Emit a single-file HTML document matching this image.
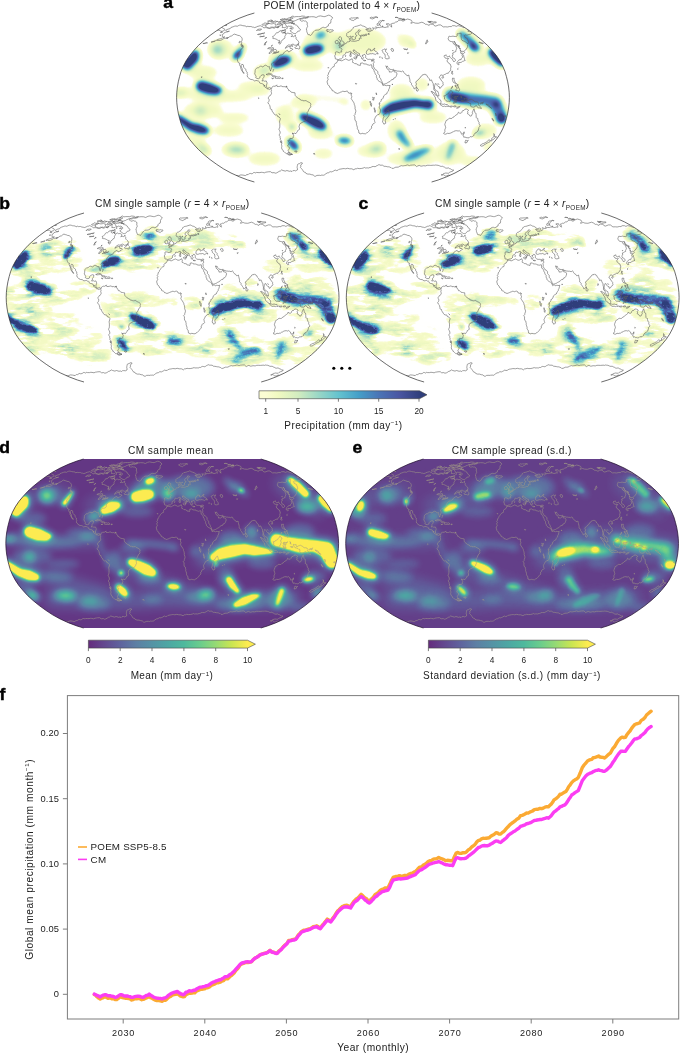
<!DOCTYPE html>
<html lang="en"><head><meta charset="utf-8"><title>Figure</title>
<style>html,body{margin:0;padding:0;background:#fff}body{width:685px;height:1054px;overflow:hidden}svg{display:block;font-family:"Liberation Sans", sans-serif}</style></head><body>
<svg width="685" height="1054" viewBox="0 0 685 1054">
<defs>
<clipPath id="clipmap"><path d="M88.6,-84.5L95.2,-82.5L103.4,-79.4L112,-75.5L119.6,-71.3L126.4,-66.8L132.9,-62.1L138.9,-57.2L144.4,-52.2L149.1,-47.1L153.4,-41.9L156.9,-36.7L159.7,-31.4L161.9,-26.2L163.4,-21L164.7,-15.7L165.6,-10.5L166.2,-5.2L166.4,0L166.2,5.2L165.6,10.5L164.7,15.7L163.4,21L161.9,26.2L159.7,31.4L156.9,36.7L153.4,41.9L149.1,47.1L144.4,52.2L138.9,57.2L132.9,62.1L126.4,66.8L119.6,71.3L112,75.5L103.4,79.4L95.2,82.5L88.6,84.5L-88.6,84.5L-95.2,82.5L-103.4,79.4L-112,75.5L-119.6,71.3L-126.4,66.8L-132.9,62.1L-138.9,57.2L-144.4,52.2L-149.1,47.1L-153.4,41.9L-156.9,36.7L-159.7,31.4L-161.9,26.2L-163.4,21L-164.7,15.7L-165.6,10.5L-166.2,5.2L-166.4,0L-166.2,-5.2L-165.6,-10.5L-164.7,-15.7L-163.4,-21L-161.9,-26.2L-159.7,-31.4L-156.9,-36.7L-153.4,-41.9L-149.1,-47.1L-144.4,-52.2L-138.9,-57.2L-132.9,-62.1L-126.4,-66.8L-119.6,-71.3L-112,-75.5L-103.4,-79.4L-95.2,-82.5L-88.6,-84.5Z"/></clipPath>
<path id="coast" d="M-117.3,-67.2L-116.1,-67.9L-114.8,-68.4L-112.8,-68.9L-112.2,-69.9L-110.9,-70.4L-109.1,-71L-108.4,-71.3L-107.2,-71.5L-105.7,-71.2L-104.7,-71.8L-103.5,-72.3L-102.3,-72.4L-100.9,-72.1L-100.2,-71.8L-99,-71.7L-97.2,-71.5L-96.5,-70.6L-95.1,-71.3L-94.1,-70.9L-92.8,-71L-91.9,-71L-90.7,-70.4L-89.4,-70.3L-88.4,-69.9L-86.8,-70.4L-85,-71.3L-84.1,-71.3L-82.9,-71.9L-82.2,-71.6L-81.2,-71.1L-80.2,-70.7L-79.2,-69.6L-77.7,-69.9L-76.5,-69.8L-75.4,-69.5L-74.5,-69.5L-73.4,-69.5L-72.6,-70.2L-71.5,-70.4L-70.5,-69.8L-68.8,-69.3L-67.8,-69.8L-67,-70.3L-65.8,-69.9L-65,-69.7L-64.4,-71L-63.7,-71.5L-61.9,-72L-60.9,-73L-60.7,-72.4L-60.5,-71.3L-60.8,-69.9L-59.5,-70L-58.7,-69.8L-57.7,-69.9L-56.8,-70.8L-56.2,-70.1L-55.4,-69.5L-56.5,-68.9L-57.5,-67.9L-58.4,-67.9L-59.1,-67L-60.3,-66.6L-61.1,-66.8L-62.1,-66.9L-63.4,-66.5L-64.2,-65.4L-64.9,-64.8L-66.2,-64.8L-67.3,-64L-67.9,-62.9L-68.4,-62.3L-69.4,-61.3L-70.4,-61.1L-69.9,-60.3L-70.2,-59.1L-69.3,-58.9L-68.4,-58.9L-67.2,-58.5L-66.1,-58L-65.4,-57.5L-64.3,-57L-63.5,-57.2L-63.6,-56.2L-63.7,-55.5L-64.5,-54.7L-63.9,-53.9L-63.6,-53.4L-62.7,-53.7L-62,-54.7L-62.1,-55.7L-61.6,-56.7L-60.3,-57.4L-59.4,-58.8L-58.4,-59.1L-58.1,-60L-58.2,-60.9L-57.6,-62.1L-57.1,-63.1L-56.3,-63.7L-55.8,-64.4L-54.9,-64.5L-54,-63.8L-52.8,-64L-52,-63.8L-50.8,-63L-50.8,-62L-51.9,-60.9L-50.3,-61.2L-49.3,-60.8L-48.4,-61.7L-47.5,-62.4L-47.6,-60.8L-46.9,-60.1L-46.9,-58.7L-46.2,-57.8L-45.6,-57.2L-44.9,-56.7L-44.5,-56L-44.1,-54.7L-44.6,-53.7L-45.5,-53.2L-46.4,-52.5L-48.1,-52.2L-49.9,-53.4L-51.4,-53L-52.5,-52.3L-53.3,-52.4L-54.3,-52.6L-55.8,-51.7L-57,-50.7L-57.7,-49.1L-57.1,-49.6L-56.3,-50L-55.3,-50.6L-54.2,-51L-53.1,-51L-52.5,-51.2L-53,-50.4L-52.8,-49.1L-51.6,-49L-50.7,-48.8L-50.2,-48.1L-51.1,-47.7L-51.6,-47L-52.8,-46.6L-53.4,-45.8L-54.7,-45.7L-55.5,-47.1L-56.7,-46.6L-57.4,-46.1L-58.5,-45.5L-59,-44.8L-59.5,-43.7L-60.3,-43.2L-61,-43L-61.7,-42.5L-62.9,-42.4L-64,-41.4L-64.6,-40.9L-65.3,-39.8L-66,-38.5L-65.8,-37.2L-66.5,-36.1L-67.3,-35.4L-68.3,-35.4L-69.9,-35.1L-70.6,-34.4L-71.3,-33.7L-71.5,-33L-71.1,-31.9L-71,-31L-71.4,-29.6L-71.8,-28.3L-72.5,-27.3L-72.4,-26.4L-72.4,-27.4L-73.4,-28.3L-73.2,-29.3L-73.4,-29.9L-73.6,-30.9L-74.5,-30.7L-75.5,-31.1L-76.6,-32L-77.7,-32.3L-78.9,-31.6L-79.5,-31.2L-80.1,-30.4L-81.2,-31.1L-82.3,-31.3L-83,-31.1L-84,-30.2L-84.7,-29.7L-86,-29.7L-86.6,-29.1L-87.5,-28.1L-87.8,-27.1L-88,-25L-88.3,-23.6L-87.5,-22.3L-86.9,-21L-87.3,-19.9L-86.1,-19.1L-84.6,-18.8L-83.3,-19.4L-82.9,-20.9L-82,-22L-81.1,-22.4L-80.1,-22.8L-78.8,-22.5L-78.9,-21.1L-79.2,-20.2L-80.2,-18.9L-80.2,-17.6L-81.1,-16.6L-80.1,-16.6L-79.3,-16.8L-78.3,-16.2L-76.8,-16.6L-76.1,-15.2L-76,-13.9L-76.5,-12.6L-76.8,-11.5L-76.5,-10.3L-75.5,-9.4L-74,-9.6L-73.2,-10L-72.2,-9.3L-71.4,-8.9L-71.1,-10.3L-70.3,-10.9L-69.4,-11.3L-68,-11.2L-66.7,-12L-66.1,-12.6L-66.2,-11.6L-65.8,-11L-64.6,-11L-63.4,-11.1L-62.5,-11.5L-61.2,-11.5L-60.8,-10.9L-59.7,-10.8L-58.9,-11L-57.8,-10.5L-56.6,-11L-56.1,-10.1L-55.7,-9.5L-55.3,-8.7L-54.6,-8.2L-54.2,-6.8L-53.3,-6.9L-52.6,-6.3L-51.8,-5.3L-50.1,-5L-49,-4.8L-48,-4.7L-47.9,-2.9L-47.7,-1.9L-46.8,-0.9L-46.2,-0.5L-45.5,0.3L-44.4,1L-42.9,1.6L-42.3,2.6L-41.4,2.8L-40.6,2.6L-40.2,3.2L-39,3.3L-38.2,3.2L-36.9,3.1L-36.3,3.6L-35.3,4.2L-34.2,4.7L-33.2,5.2L-32.5,5.8L-32.1,6.8L-32.5,7.7L-32.3,8.8L-32.2,9.4L-33.2,10.5L-33.9,11.5L-34.4,12.6L-34.9,13.9L-35.9,15.1L-35.8,16L-35.6,16.8L-35.9,17.8L-35.8,19.2L-35.7,20.1L-36.3,21L-36.4,21.9L-37.3,22.7L-37.9,24.1L-39.3,24.1L-40.6,24.9L-41.9,25.5L-42.8,26L-43.5,27.2L-43.7,28.4L-44,29.3L-43.6,30.4L-43.5,31.7L-44.2,32.5L-45.5,33.2L-45.7,34.1L-46.5,35.2L-47.1,36.1L-48.5,35.7L-49.8,36.1L-51,35.6L-49.7,36.4L-49.9,37.1L-49.3,38.2L-49.7,39.1L-49.8,40.3L-51,41L-52,41L-53.1,40.9L-53.1,42.2L-53,42.9L-54,42.6L-55.1,42.9L-54.6,43.9L-53.7,44.8L-53.9,45.7L-54.3,47.1L-55.2,47.8L-55.4,48.6L-54.2,49.5L-53.6,50.1L-53.7,51.3L-54.1,51.8L-54.9,53.2L-54.5,53.8L-53.9,54.7L-53.5,56L-52.3,56.6L-51.4,56.8L-50.6,57L-52.1,56.8L-53.1,57.5L-54.6,57.4L-55.3,56.4L-56,56.2L-57,56.1L-57.6,55.5L-58.3,54.8L-58.9,54.2L-59.7,53.8L-60.1,52.6L-61.1,51.6L-61.4,50.1L-61.2,49.1L-61.3,47.9L-61.5,47L-61.2,46L-61.3,45L-61.3,44L-62.1,42.7L-62.8,41.9L-62.5,40.5L-63,39.9L-63,38.8L-63.7,37.9L-63.8,37.1L-63,36.3L-62.8,34.6L-63.4,33.1L-64,32.2L-63.9,31.3L-63.4,30.4L-63.2,28.8L-63.2,27.4L-63.2,26.2L-63.4,25.1L-63.4,23.6L-62.9,22.5L-62.7,21L-64,19.4L-65.3,19.1L-65.8,17.7L-66.7,17.3L-67.5,17.5L-68.8,16.7L-69.3,15.9L-69.9,14.7L-70.7,14.1L-71,13.2L-71.2,12L-72.3,11.7L-72.8,10.8L-72.8,9.7L-73.3,7.9L-73.7,7.1L-74.3,6.5L-75.1,5.2L-74.3,4.2L-73.9,3.1L-73.9,1.7L-74.7,1L-74.5,-0.2L-73.9,-1L-73.4,-1.8L-72.5,-2.1L-72.1,-2.8L-71.4,-4.2L-71.6,-5L-71.9,-6L-71.5,-7.3L-71.9,-8L-72.3,-8.9L-73.1,-8.3L-73.7,-7.9L-74.8,-8.6L-76,-8.7L-76.8,-9.8L-78.2,-10.5L-79,-11.3L-79,-12L-79.6,-13.2L-80.3,-13.6L-81.5,-14L-82.3,-14.1L-83.4,-14.7L-83.7,-15.8L-84.3,-16.4L-85,-16.3L-85.9,-17L-87.2,-16.9L-88.7,-16.6L-89.7,-17.5L-90.6,-17.9L-92.1,-18L-93.5,-18.6L-94.2,-19.5L-95.4,-20.4L-95.8,-21.9L-95.4,-23.1L-95.9,-24.1L-95.8,-25.4L-96.6,-26.1L-97,-26.7L-97.1,-28.2L-98.1,-29L-98.8,-29.6L-99.7,-30.4L-99.3,-31.4L-99.8,-32.8L-101.2,-33.2L-101.8,-32.2L-101.6,-31.4L-101.9,-30.4L-101.5,-29.7L-101,-29.1L-100.7,-28.3L-100.7,-26.8L-100.5,-26.1L-99.5,-25.5L-98.9,-24.1L-99.6,-24.3L-100.1,-25.2L-100.7,-26.2L-101.4,-27.3L-101.8,-28.2L-102.2,-29.1L-102.2,-30.4L-102.8,-31.4L-103.5,-32.7L-103,-34.2L-104,-34.4L-104.7,-34.9L-105.2,-36.1L-105.7,-37.7L-105.4,-38.8L-105.4,-39.7L-105,-40.3L-105,-41.1L-105.5,-42.2L-105.4,-43.5L-105.1,-44.2L-104.1,-45L-103.2,-45.7L-102.7,-46.5L-102.6,-47.5L-101.9,-48.4L-101.1,-48.7L-100.4,-49.5L-99.8,-50.4L-100.1,-51.5L-100.3,-52.2L-101.4,-52.9L-101.5,-53.7L-101.3,-54.9L-101.5,-55.8L-101.1,-56.7L-100.8,-57.7L-100.9,-59.1L-101.3,-59.9L-101.8,-60.6L-102.8,-61.4L-103.5,-61.9L-105.1,-62.1L-106.1,-62.6L-106.9,-62.8L-108.7,-63.4L-109.8,-62.8L-110.7,-62L-111.2,-61.6L-112.7,-61.4L-113.5,-60.5L-114.3,-60.1L-115.8,-59.6L-117.7,-59.2L-119,-59.2L-119.6,-58.7L-120.6,-57.9L-122.3,-57.2L-123.5,-57L-125,-57.2L-126.6,-57.2L-124.7,-58.2L-122.3,-58.9L-120.6,-59.5L-118.2,-60.6L-119.6,-60.4L-120.7,-61.1L-120.6,-62.3L-120.6,-63L-119.4,-63.6L-118.6,-64.9L-117.1,-65.3L-116,-65.6L-114.6,-66L-113.6,-66.3L-114.3,-66.3L-115.2,-65.8L-116.5,-66.3L-117.3,-67.2M-43,-78.2L-41.6,-79.1L-40.5,-79.5L-39.7,-79.9L-38.7,-79.7L-37.6,-79.4L-36.8,-80L-35.3,-80.8L-33.4,-80.6L-31.5,-80.8L-28.9,-80.7L-26.9,-80L-24.6,-81.2L-22.6,-81.6L-19.3,-80.9L-18.1,-80.9L-16.3,-81.6L-14.5,-82.3L-13.1,-82L-12.3,-81.5L-11.1,-80.6L-10.3,-79.4L-11.5,-78.4L-12.1,-77.1L-12.1,-75.5L-12.5,-74.3L-13.5,-74.1L-14.2,-73.4L-14.7,-72.5L-14.5,-71.7L-15.8,-71.2L-16.2,-70.4L-17.6,-69.9L-18.3,-69.8L-19.3,-70.2L-20.4,-70.1L-21.7,-69.5L-22.6,-68.4L-23.7,-67.9L-24.5,-67.5L-25.8,-67.4L-27.1,-67.3L-27.8,-67.1L-28.6,-66.3L-29.3,-65.8L-30.1,-65.2L-30.6,-64.2L-30.9,-63.5L-31.6,-62.7L-32.5,-62L-33,-62.6L-34.1,-62.8L-35.1,-63L-35.6,-64.4L-36.2,-65.8L-36.3,-66.8L-36.3,-67.4L-36.8,-68.6L-36.1,-69.2L-36,-70L-35.4,-70.8L-35.5,-71.9L-35.8,-72.5L-35.9,-73.5L-35.6,-74.4L-36.1,-75.5L-37.4,-76.5L-38.5,-76.4L-39.2,-76.9L-40.5,-76.5L-41.7,-76.3L-42.3,-77L-43.1,-77.4L-43,-78.2M-5.2,-37.5L-4,-37.2L-3.1,-37.2L-1.7,-36.7L-0.8,-36.8L0.5,-37.6L1.8,-38.1L2.6,-38.6L3.9,-38L5.4,-37.2L7,-37.5L9.1,-38.8L9.5,-37.5L9.8,-36.8L9.5,-35.9L9.6,-35.1L10.9,-34.7L11.7,-33.9L13.2,-33.8L14.3,-33.3L14.8,-32.4L15.8,-32.5L17.3,-32L17.6,-33.3L17.6,-34.4L18.6,-34.4L19.5,-34.7L20.4,-33.7L22,-33.5L22.8,-33.5L23.8,-33.4L24.3,-32.7L25.6,-32.5L26.4,-32.2L27.5,-32.6L28.7,-32.7L28.8,-31.4L28.9,-30.4L29,-29.4L29.9,-29L30.4,-28.3L31,-26.9L31.3,-25.6L32,-25.1L32.2,-23.7L32.9,-22.6L33.5,-22L33.4,-21L33.4,-20.3L34.1,-19.4L34.1,-18.3L34.9,-17.2L36.1,-16.2L36.8,-15.8L37.7,-15.4L39.1,-14.3L39.5,-13.1L40,-11.8L40.8,-12.4L41.8,-12.4L43.2,-11.7L43.8,-12.1L45.1,-12.1L46.4,-11.9L47,-12.4L46.9,-11.3L46.6,-10.5L46.5,-9.4L45.7,-8L45.5,-6.7L44.9,-6.1L44.3,-5.2L43.6,-3.5L42.3,-3L41.6,-2.4L40.7,-1.6L40.5,-0.5L39.8,1L39.2,1.7L38.3,1.9L38.2,3.1L37.7,4.1L37.1,4.8L36.5,5.2L36.8,6.3L36.4,7.1L36.7,8.1L36.4,8.9L36.3,10.1L36.8,11L37.2,11.5L37.4,12.4L37.5,13.4L37.1,14.6L37.1,15.7L36.3,16.3L36,17L34.6,17.1L33.7,18.3L32.8,18.8L32.5,19.4L32.2,20.2L31.8,21L31.3,21.9L31.5,22.9L31.7,24L32,25.1L31.1,26.1L30.1,26.3L29.4,27.2L29.3,28.1L28.5,28.7L28.5,29.7L28.9,30.4L27.9,31.1L27.3,31.8L26.5,33L25.6,34L24.6,35L23.6,35.4L22.5,36.3L21.2,36.2L20.4,36.1L19.2,35.8L18.3,36.2L17.4,36.5L17.1,35.9L16,35.6L15.6,34.4L15.9,33.5L15,32.3L14.3,30.9L14.4,29.9L13.9,28.3L13.5,27.2L13.6,26.1L13.3,25L13.1,23.6L12.1,22.9L11.8,21.4L11.9,19.3L10.9,18.3L12,17.1L12.2,15.8L12.8,14.3L12.7,12.6L12,11.3L12.2,10.5L12,9.4L11.9,8.2L11.2,7.4L11.4,6.8L11.1,5.8L10.6,4.8L9.7,3.4L8.8,2.1L8.2,1L8.5,0.3L8.8,-1L8.4,-1.7L8.2,-2.8L8.8,-4L7.8,-4.7L7,-4.2L5.5,-4.5L5,-5.7L4.2,-6.5L2.9,-6.2L2,-5.8L0.9,-6.1L-0.5,-6.2L-1.3,-5.7L-2.8,-5.2L-3.4,-4.8L-4.3,-4.5L-5.7,-4L-6.9,-4.6L-8.1,-4.9L-8.3,-5.6L-9.2,-6.3L-10,-6.6L-11,-7L-11.2,-8.4L-12,-8.9L-12.8,-9.5L-13.2,-10.5L-13.8,-11.5L-14.5,-12.4L-15.4,-13.1L-15.4,-14.5L-16,-15.4L-15.7,-16.6L-14.9,-17.8L-14.8,-18.6L-15.5,-19.3L-15.2,-20.4L-14.7,-21L-15.4,-22L-14.7,-23.1L-14.4,-24.6L-13.8,-25.6L-13.2,-26.1L-13,-27.2L-12.1,-28.2L-11.6,-29.1L-10.8,-30L-10,-30.7L-8.9,-30.9L-8.6,-31.8L-8.6,-33L-7.8,-34.1L-6.5,-34.5L-6.1,-35.4L-5.4,-36.4L-5.2,-37.5M-4.8,-37.7L-5.9,-38.3L-6.8,-38.4L-7.8,-38.8L-7.6,-39.5L-8,-40.5L-8.3,-41.7L-7.6,-42.8L-7.4,-43.4L-7.7,-44.4L-7.7,-45.2L-6.7,-45.7L-5.5,-45.5L-3.5,-44.7L-2.6,-45.5L-1.5,-45.4L-1.4,-46.2L-1.6,-47L-1,-48.1L-1.6,-49.1L-2.1,-49.6L-3.7,-49.9L-3.8,-50.7L-2.6,-51.2L-1.2,-50.9L-1.2,-51.9L0.2,-51.8L0.5,-52.4L1.4,-53.1L2.3,-53.8L3.2,-54L3.8,-55.2L4.4,-55.6L5.5,-55.7L6.9,-56.1L6.9,-57L6.5,-57.7L6.2,-59.1L7.1,-59.3L7.9,-59.8L7.9,-58.8L8,-58.2L7.6,-57.2L8.6,-56.2L9.5,-56.4L10.9,-56.2L12.2,-56.3L13.1,-56.4L14.3,-56.9L15.2,-57L16.2,-57.4L16.5,-58.1L16.1,-59.1L17.2,-59.3L18.4,-59.4L17.5,-60.2L17.5,-61.3L18.3,-61.3L19.2,-61.8L20.8,-61.6L22.1,-62.1L21.5,-62.5L20.6,-62.7L19.7,-62.3L18.4,-62.3L17.8,-62L16.6,-62.1L15.6,-63L15.3,-64.1L15.4,-64.9L16.4,-65.7L16.9,-66.1L17.6,-66.8L16.8,-67.5L15.3,-67.5L15.4,-66.3L14.9,-65.8L13.6,-65.4L12.6,-64.4L12.6,-63L13,-62.3L13.9,-62.1L13.3,-61.1L12.3,-60.6L12.3,-59.6L12.6,-58.7L11.8,-58.3L11,-57.7L9.8,-57.7L9.2,-59.1L8.6,-60.1L7.9,-61.4L6.8,-61.1L6,-60.3L5,-60.7L4.1,-60.9L3.5,-62.2L3.7,-63L3.8,-64.1L4.9,-65.2L6.1,-65.4L6.8,-66.2L7.7,-66.6L8.5,-67.2L9,-68.1L9.9,-69L10.1,-69.9L11.2,-70.4L11.7,-70.9L12.7,-71.1L13.3,-71.2L14.2,-71.4L15.2,-71.8L16.4,-72.1L17.5,-72.6L18.7,-72.1L19.6,-71.5L20.6,-71.3L22.1,-70.7L23.8,-69.3L24.9,-68.9L26.8,-69.4L28,-69L28.1,-67.9L27.4,-67.3L26.5,-67.4L25.1,-67.7L24.2,-68.1L22.8,-68.1L23.4,-67.5L24.1,-67.2L24.5,-66.3L25.5,-66.1L26.6,-65.8L27.4,-66L28.1,-66.8L29.2,-66.9L29.5,-67.5L30.4,-68.1L30.1,-69.1L29.7,-69.9L30.4,-69.4L31.4,-69.4L32.3,-68.6L33.1,-69.2L33.8,-69.5L35,-70.1L36.5,-69.9L37.8,-70.4L39.4,-70.5L40.3,-70.4L41.8,-70L42.9,-70.2L44.3,-70.7L45.1,-70.2L45.1,-71L44.9,-72.1L44.4,-72.9L43.1,-73.4L44.3,-73.8L45.1,-73.8L46.1,-73.6L46.2,-72.9L47,-72.1L47.7,-71.1L49,-70.4L48.4,-71.3L48.6,-72.4L47.6,-73.4L48.9,-73.8L49.9,-74.3L51.1,-74.2L52.3,-75.2L52.9,-75.6L54.1,-75.5L55.6,-77.1L57.6,-77.3L58.6,-77L59.9,-76.4L61.2,-76.7L62.2,-77.6L64.6,-78.5L67,-77.8L68.4,-77.2L69.2,-76.3L68.4,-75.4L67.9,-74.2L68.8,-74.4L69.5,-74.8L70.6,-75L72.2,-74.4L75.2,-74.2L78.9,-75.3L80.8,-74.5L82.7,-73.1L83.8,-73.2L84.4,-72.9L85.2,-72.6L86.1,-72L86.5,-72.9L87.7,-73.4L88.6,-73.2L90.1,-73.4L91.1,-72L92.7,-71.4L95.8,-72.6L97.8,-72.5L100.2,-70.6L102.7,-70.7L104.4,-70.5L106.7,-71L108.3,-70.9L109.4,-71.8L111.8,-71.8L113.2,-71.1L115,-71.9L116.6,-71.5L118.1,-71.1L119.6,-70.4L120.4,-70L121.2,-70.2M126.4,-66.8L125.8,-66.6L124.7,-66.5L125.9,-66.3L126.6,-65.6L127.7,-65.5L128.9,-64.4L128.4,-63.9L127.8,-63.3L127,-63.2L125.7,-63L124.8,-62.6L123.7,-62.4L122.3,-62.6L121.3,-61.9L121.8,-60.9L122.1,-60.1L123.1,-59.6L124.3,-59L124.5,-58.1L125,-57.2L125.3,-56.3L125.5,-55.2L125.1,-54.4L124.8,-53.2L124.4,-54.3L122.9,-55L122.4,-55.9L121.4,-56.2L120.4,-56.5L119,-57.2L118.4,-58.2L118.3,-59.1L118.3,-59.9L118.1,-60.7L118.1,-61.9L118.3,-62.5L118.1,-63.2L118.1,-64.4L116.6,-64.1L115.6,-63.8L114,-63.7L114.1,-62.6L114.2,-61.6L113.1,-60.9L112.3,-61L111,-61.1L110,-61.4L108.6,-61.1L107.3,-61L106.2,-61.4L105.6,-60.6L105.5,-59.7L105.1,-58.7L105.7,-57.5L106.4,-56.6L107,-56.2L108.3,-56L109.2,-55.8L110.1,-55.7L110,-54.7L110.8,-53.3L111.9,-52.7L112.7,-52.2L113,-51.3L113,-50.5L113.6,-49.7L113.7,-48.6L113.2,-47.8L112.9,-47.1L112.9,-46L111.8,-45.6L111,-45L109.6,-44.5L109.9,-43.5L110,-42.4L108.9,-41.4L109.6,-40.8L109.7,-39.8L110.8,-39.3L111.7,-38.8L112.3,-37.7L112.5,-36.9L111.4,-36L110.5,-36L110,-37L109.6,-37.9L109.2,-38.6L108.3,-39L107.5,-39.8L106.7,-40.8L106.6,-41.6L105.6,-41L104.6,-40.6L104,-40.9L103.3,-41.8L103.2,-42.7L102.4,-42.2L101.4,-42L100.9,-41.1L101.8,-40.4L102.4,-39.3L103.3,-39.2L104,-39L105,-38.7L105.7,-39.1L104.7,-37.9L104,-36.7L104.6,-35.3L105.8,-34.6L106.2,-33.8L107.2,-33.4L107.7,-32.5L107.7,-31.4L108.4,-30.4L107.7,-30L107.6,-28.9L107.7,-27.8L107.3,-26.7L106.4,-26L105.9,-25.4L105.2,-24.1L104.1,-24.3L103.4,-24L102.6,-23.4L101.5,-23L100.6,-22.4L100,-22L98.9,-22.4L97.8,-22.6L97.4,-21.8L96.7,-21L96.2,-19.7L97.7,-18.7L97.9,-17.7L98.6,-16.7L99.2,-16.2L100,-15L99.9,-14.2L100.3,-13.1L99.8,-11.9L99.1,-11.5L98.4,-11L97.9,-9.8L96.7,-9.1L96.4,-10.7L95.2,-11L94.3,-12L94.1,-12.8L93.6,-13.4L92.4,-14L92.2,-13.3L91.7,-12L91.5,-10.7L91.4,-9.7L91.7,-8.4L92.2,-7.8L93.1,-7.1L93.8,-6.6L95.1,-5.8L95.3,-4.9L95.5,-4.2L95.7,-3L95.7,-2.3L96.1,-1.5L95.5,-1.6L94.2,-2.3L93.5,-3L93.1,-4.1L92.6,-4.7L92.5,-6.1L92.1,-6.9L91.3,-7.2L90.6,-8.4L90.9,-9.5L90.7,-11L90.2,-12.6L90.6,-13.7L89.8,-14.2L89.5,-15.2L88.9,-16.4L88.5,-17.6L87.5,-17.2L86.8,-16.8L86.6,-17.4L86.5,-18.5L85.7,-19.4L84.6,-20.5L84.1,-21.9L83.3,-22.5L82.3,-22.9L81.8,-23.6L81.3,-22.9L80.1,-22.8L79.1,-22.4L78.7,-21.5L77.9,-20.6L77.2,-20.4L77.1,-19.6L76.2,-18.7L75.5,-18.3L75.1,-17.5L74.2,-16.7L73.3,-16.2L72.8,-15.4L72.9,-14.5L73.6,-13.6L73.2,-12.6L72.9,-11.9L73.4,-10.8L73.2,-9.8L71.8,-8.9L71.1,-8.6L70.8,-9.8L69.9,-11L69.4,-11.8L68.5,-12.8L68.5,-14.1L67.6,-15.2L66.9,-15.7L67,-16.8L66.8,-18.3L66.4,-19.7L66.1,-21L65.8,-22.5L65,-22L63.9,-21.8L63.2,-23L62.4,-23.4L61.6,-24L60.9,-24.9L60.5,-26L59.8,-26.6L58.5,-25.8L56.9,-26.3L56.2,-26.2L55.3,-26.4L54.1,-26.4L53.1,-26.8L52.2,-27.1L51.3,-27L50.5,-28.3L49.3,-27.8L48.4,-28L47.2,-28.1L46.5,-28.3L46,-29.2L45.3,-29.9L44.7,-30.4L44.4,-31.4L43.5,-31.1L42.6,-31.4L43.5,-30.7L43.5,-29.3L44.7,-28.6L45.3,-27.5L46.3,-26.7L46.4,-25.4L47.6,-25.6L48.6,-25.4L49.4,-26.2L50.4,-27.5L50.9,-26.7L51,-25.7L52.5,-25.5L53.4,-25L54,-23.6L53.6,-22.2L53.1,-21.5L53,-20.8L52.3,-19.9L50.8,-19.4L50.2,-18L48.9,-17.9L48,-17.3L47.5,-16.8L47,-16L46.1,-15.6L44.9,-15.1L44.4,-14.7L43.5,-14.1L42.6,-13.8L41.3,-13.4L39.7,-13.3L39.5,-14.2L39.1,-15.7L38.4,-16.9L37.8,-18.4L37.4,-19.3L36.3,-20.4L36.6,-21.3L36.4,-22.3L35.6,-23.1L34.8,-24.1L34.9,-25.6L34,-26.9L33.3,-27.4L32.3,-27.8L32,-28.7L31.2,-29.3L30.9,-30.2L30.3,-31.3L30.6,-32L30.5,-33L30.3,-34L30.9,-34.6L31.1,-35.6L30.6,-36.7L30.9,-37.5L31.2,-38.2L30,-38.4L28.6,-37.9L27.6,-38.1L26.4,-38.2L25.4,-38.1L24.3,-38.4L23.8,-38.8L22.6,-39.9L22.7,-40.9L22.5,-42.2L22,-42.9L21.2,-43.1L20.4,-42.7L20,-41.9L19.3,-42.4L19.4,-41.5L19.7,-40.9L20.6,-39.8L20.1,-39.2L19.9,-38.2L18.6,-38.8L18.5,-40.1L18,-40.9L16.8,-41.6L16.6,-42.4L16.4,-44L15,-44.5L14.2,-45L13.1,-45.7L12.5,-46.6L11.5,-47L11.3,-47.7L10.2,-47.4L10.4,-46L11.3,-45.4L11.8,-44.5L12.6,-44.2L13.5,-43.8L14.5,-42.5L15.7,-42.1L14.4,-42.4L14.1,-40.9L13.8,-39.8L13.5,-39.8L13.7,-41.4L12.8,-42.1L12.2,-42.7L11.4,-43.2L10.1,-44L9.4,-44.3L8.8,-45L7.9,-45.7L7.5,-46.3L6.3,-45.8L5,-45.1L4.4,-45.1L3.3,-45.5L2.5,-44.3L2.7,-43.8L1.6,-42.8L0.6,-42.6L-0.3,-41.4L0.2,-40.5L-0.6,-39.5L-1.7,-38.6L-3,-38.5L-3.9,-38.3L-4.8,-37.7M-121.2,-70.2L-120.3,-69.5L-119.6,-69L-118.6,-68.7L-118.1,-67.7L-119,-66.9L-119.9,-66.6L-120.9,-66.1L-122.1,-66.3L-123,-67.2L-124.3,-67.2L-125.3,-67.2L-126.4,-66.8M23.7,-43.4L23.3,-44.7L23.4,-45.5L23.7,-46.5L24.4,-47.4L25.2,-48L25.4,-48.6L26.6,-48.3L27.6,-48.1L27.4,-46.7L28.1,-46.5L29,-47.1L30.2,-47.4L30.4,-48.1L31.1,-49.1L31.9,-49.1L31.3,-48.5L31,-47.6L32,-46.5L32.9,-45.9L33.7,-45.6L34.9,-44.5L35.1,-43.4L33.9,-44L33.2,-43.7L32.2,-42.9L31.4,-43.4L30.4,-43.7L29.9,-44L28.5,-43.7L27,-43.8L25.8,-43.3L24.5,-43.1L23.7,-43.4M38.9,-47.1L40.3,-47.9L41,-48.6L42.4,-48.1L43.5,-48.6L43.1,-47.8L42.4,-46.6L42.7,-45.7L43.3,-45.2L43.8,-44.7L44.7,-44L44.4,-43L45.2,-41.9L45.9,-40.9L45.9,-40.2L46.5,-39.3L45.6,-38.9L44.1,-38.6L42.7,-38.9L42.1,-39.8L42.3,-40.9L42.1,-42.4L41.7,-43.6L41.1,-44L40.6,-44.3L39.8,-45L39.7,-46L38.9,-47.1M-4.4,-52.2L-3.6,-52.3L-2.8,-52.5L-1.2,-52.3L-0.1,-52.9L1,-53.4L1.3,-54.9L0,-55.7L-0.5,-56.4L-1.2,-57.2L-1.5,-58.2L-1.5,-58.8L-1.5,-59.8L-2.6,-60.7L-3.7,-60.6L-3.8,-59.9L-4.6,-59.1L-4.1,-58.5L-3.8,-57.7L-2.8,-57.3L-2.3,-56.7L-2.3,-55.5L-3.5,-55.2L-3.6,-54.2L-4.1,-53.9L-3.2,-54.1L-2.4,-53.6L-3.2,-53L-4.4,-52.2M-4.7,-54.4L-5,-55.5L-4.7,-56.2L-5.5,-56.8L-5.8,-57.5L-7.1,-56.7L-7.8,-56.2L-7.7,-55.2L-7.5,-54.2L-6.3,-53.8L-5.2,-53.8L-4.7,-54.4M-16.8,-67.2L-16.2,-67.9L-15.2,-68L-14.2,-67.6L-13.2,-67.5L-12.5,-67.9L-11.1,-67.5L-10.1,-67.7L-9.6,-66.8L-10.3,-66.4L-11.4,-65.8L-12,-65.3L-13.6,-65.3L-14.5,-66L-16,-65.8L-15.5,-66.8L-16.8,-67.2M45.3,12.6L45.7,13.9L46,14.9L46.2,16.2L46,17.8L45.4,18.9L44.6,19.9L43.8,20.8L42.8,21.8L42.2,23.2L42.8,25.7L41.9,26.2L40.9,26.7L40.4,25.3L39.4,24.6L39.7,23.8L40,22.3L40.2,21L40.6,20L41.1,19.2L40.6,18.5L40.6,17.3L41.6,16.3L43,15.7L43.3,14.7L44,13.7L44.5,13L45.3,12.6M73.6,-10.2L74,-9.5L74.7,-8.8L75.4,-7.9L75.2,-7.3L74.7,-6.3L73.8,-6.5L73.2,-7.6L73.5,-8.4L73.9,-9.3L73.6,-10.2M115.1,-32.8L116.1,-33L115.7,-33.9L115.7,-35.1L117.1,-35L118.3,-35.1L118.9,-35.6L119.6,-36.3L120.4,-36.3L121.1,-36.7L122.3,-37.2L121.5,-38L121.4,-39.1L121.2,-39.8L120.8,-40.7L120.8,-41.9L119.9,-42.7L119.4,-43.3L118.9,-42.4L119.5,-41.2L119.7,-40.3L119,-39.8L118.3,-38.8L118,-37.7L117,-38L115.6,-37.2L115,-36.4L114.5,-35.9L113.9,-34.6L114.2,-33.6L115.1,-32.8M118.3,-43.7L118.8,-44.7L119.4,-44.2L120.7,-44L121.2,-44.4L121.7,-45.3L120.9,-46.1L119.8,-46.2L118.9,-45.9L118.1,-46.4L117.2,-47.5L117.6,-46.1L118.2,-45.5L117.5,-45L118.3,-43.7M116.9,-48.1L117.8,-48.6L116.5,-49.2L116.1,-50.3L115.9,-51L115.1,-51.7L115.9,-51.1L116.7,-51.2L114.7,-52.2L113.1,-52.8L112.3,-53.6L112.1,-55.2L111.3,-55.9L110.8,-56.5L111.7,-55.2L112.2,-54.2L112.5,-53.3L113.5,-52.8L113.8,-51.7L114.7,-51.2L115.8,-50.2L116.3,-49.3L116.9,-48.1M108.5,-24.1L109,-25.2L108.8,-26.4L109.7,-26.2L109.1,-25L109.7,-24.1L109.5,-23.1L108.5,-24.1M98.8,-20.1L99.5,-20.6L100.3,-21L100.9,-20.4L100,-19.9L99.7,-19.1L98.8,-20.1M109.5,-19.4L110.4,-19.2L111.2,-19.3L111,-18.1L111.5,-16.8L112,-15.3L112.9,-14.4L113.7,-13.6L112.8,-14.1L111.3,-14.7L110.3,-15.2L110,-15.8L109.7,-16.8L109.4,-17.8L109.5,-19.4M112.5,-7.3L113.1,-8L113.8,-8.9L114.7,-9.8L115.5,-10.2L116.1,-9L116.6,-7.9L116.2,-6.8L115.8,-6.3L114.4,-6.8L113.2,-6.9L112.5,-7.3M112,-12.4L113.2,-12L113.1,-11.1L113.5,-10L112.7,-10.5L112.2,-11.4L112,-12.4M114.1,-13.1L115.2,-12.9L114.9,-12.1L115.3,-10.8L114.4,-11.5L114.4,-12.3L114.1,-13.1M108,-8.9L109,-10.1L109.5,-11L109.8,-11.5L109.1,-10.8L109.1,-9.7L108,-8.9M100.7,-1.6L101.6,-1.9L102.6,-1.8L103.3,-3L104.4,-3.4L105.4,-3.9L106.2,-5.2L106.9,-5.9L107.2,-6.7L107.7,-7.3L108.8,-6.3L109.8,-5.4L109.6,-4.5L108.7,-3.7L108.5,-2.6L108.6,-2L109.1,-1L108.6,-0.3L108.7,0.8L107.7,1.6L107.6,3L107.1,4L106.4,3.8L105.3,3.7L104,3.8L103,3.1L102.3,2.2L101.6,1.6L101.4,0.4L101.7,-0.5L100.7,-1.6M87.9,-5.9L88.9,-6.1L90,-5.4L91,-4.7L91.8,-4.2L92,-3L92.8,-2.4L93.9,-1.9L94.4,-1.3L94.5,-0.3L95.7,0.8L96.6,1.7L97,2.5L97.9,3.1L98.1,4.4L97.9,5.1L97.6,6.1L96.4,6.1L95.5,5.3L95,4.6L94.2,4.2L93.4,3.3L92.9,2.8L92.7,1.6L92.3,0.5L92.2,-0.6L91,-1.6L90.8,-2.9L89.5,-3.9L89.3,-5L87.9,-5.9M97.1,7.1L97.8,6.5L98.7,6.5L100.1,6.9L101.5,6.5L102.4,6.9L103,7L104.2,7L105,7.8L105.5,8.1L105.5,9L103.8,8.7L102.8,9.1L101.3,8.6L100.3,9L99.2,8.7L98.2,7.8L97.1,7.1M106.4,8.7L107.8,8.7L108.7,8.5L109.6,8.8L108.7,9.4L107.7,9.5L106.8,9.3L106.4,8.7M110.5,8.7L111.9,8.3L113.3,8.7L112.8,9.3L111.5,9.4L110.5,9.2L110.5,8.7M113.6,10.8L114.3,9.6L115.6,9.2L116.4,9.1L117.2,8.8L116.4,9.5L116,10L115.3,10.4L114.1,10.8L113.6,10.8M110.3,5.8L110.9,4.6L111.4,3.6L111.1,2.9L110.8,2L111.6,0.7L110.7,-0.5L111.8,-1.3L113.2,-0.8L114.2,-0.8L115.5,-1.6L114.5,-1.1L114.2,-0.4L113.3,-0.4L112.5,-0.4L111.7,-0.3L112.3,1L113.2,1.1L114,0.9L113.2,1.5L112.7,2.1L113.1,3.1L113.7,3.6L113.6,4.7L112.6,5L112.6,3.9L111.8,3.1L112,4.2L112,5L111.1,5.9L110.3,5.8M117.8,-1.9L118.3,-0.5L118.8,0.8L118.1,0L118.3,-1.2L117.8,-1.9M118.2,3.1L119.6,3L120.5,3.1L120.8,3.8L119.8,3.9L118.7,3.7L118.2,3.1M121.1,0.8L122.1,1.2L123,1.4L123.8,0.8L124.1,2L124.7,3.5L125.2,2.9L126,2.4L127.1,2.3L127.5,1.8L128.3,1.8L129,2.2L130.3,2.7L131.3,3.9L132.5,4.3L133.4,4.2L134.8,4.6L135.2,5.5L136.1,6.3L135.1,7.1L135.6,7.6L136.4,8.4L137.1,8.9L137.8,9.8L138.4,11L137.1,10.6L136.2,10.3L135.3,10.5L134.4,9.4L134,8.6L133.2,8.1L132.3,8.4L131.7,9.4L130.9,9.7L129.8,9.6L128.8,9.4L127.6,8.7L127.6,8.1L127.7,7L127.4,5.8L126.5,5.8L125.8,5.1L124.6,4.7L124,4.3L122.8,4.2L121.9,2.9L121.3,2.2L121.1,0.8M137,5.8L138.4,5.1L139.4,5.2L140.6,4.4L140,5L139.8,6.3L138.2,6L137.4,6.6L137,5.8M143,6.3L143.5,7.3L144.7,7.9L145.5,8.9L146.7,9.5L147.3,10L148.2,10.4L148.5,11L147.9,10L147,9.7L146.5,8.9L146,7.7L144.6,7L143.9,6.9L143,6.3M148.9,21L149.9,21.4L150.3,22.5L150.9,23.6L150.1,23.2L149.5,22.3L148.9,21M152.4,15.7L152.8,16.8L152.9,17.4L153.1,18.3L153,17.3L152.7,16.2L152.4,15.7M161.6,18.3L162.7,18.3L162.5,19.1L161.4,19.1L161.6,18.3M103.1,23.1L102.8,23.9L102.3,25.5L102,26.2L101.8,27.2L102.4,28.8L102.7,30.2L102.4,30.9L101.9,32L101.8,32.9L102,33.9L101.2,35.4L100.5,35.9L101.4,36.5L102.8,36.7L104.3,35.8L106.1,36L107.2,35.6L108,35.6L109,34.7L110.3,34.4L110.9,33.8L112.3,33.3L113.8,33.2L115.2,33.6L116.1,33L116.8,33.7L117.7,34.4L118.2,35.7L118.5,36.7L120,36.2L120.8,35.6L121.1,34.3L121.1,35.4L121,36.5L119.9,37.4L120.5,38.8L120.8,39.8L122,39.4L123,40.2L124.1,40.1L124.9,40.4L126.1,40.3L126.6,39.7L127.2,39.1L128.2,39.4L129.4,39.1L130.1,38.4L131,38L131.1,36.9L132.1,35.6L133.3,35.1L133.9,34.3L135.1,33.4L135.3,32.5L135.8,31.2L135.6,30.2L136.7,29.3L137.2,28.3L136.5,27.2L136,25.9L136.1,24.9L135.2,23.6L134.8,22.1L134.8,21L133.7,20.4L132.8,19.7L133.3,18.9L133.1,17.7L133.1,17L133,15.7L132.2,15.3L131.5,14.7L131.7,13.7L131.3,12.6L131,11.3L130.4,12.4L129.9,13.6L129.3,14.8L129.6,16L128.8,17.4L128.5,18.3L127.4,18.6L126.7,18.3L126.4,17.6L125.6,16.7L124.4,16.2L124.9,15.4L124.6,13.9L125.6,12.8L124.4,12.1L123.9,11.5L123,11.5L121.8,11.8L120.9,13L119.8,13L119.2,13.6L118.8,14.9L118.1,15.7L116.5,15.6L115.4,14.7L115,16.1L114,16.9L112.7,17.8L111.9,18.3L111,19.4L109.6,20L108.9,20.9L108.1,21L106.5,20.8L105.6,21.3L105.2,21.8L104.2,22.5L103.1,23.1M122.7,42.7L123.5,42.9L124.3,43.3L125.4,42.9L124.3,43.7L124,45L122.9,45.3L122,45.5L122.2,44L122.7,42.7M150.8,36.1L151.2,36.9L151.1,38.2L151.7,39.3L152.9,39.2L153.7,39.5L152.8,39.5L152.1,40.2L151.1,41.4L150.2,42.2L149.5,42.5L148.3,43.4L147.8,43.2L148.3,42.4L149.2,41.7L148.5,41.2L149.5,40.5L150.2,39.8L150.5,39.3L151.2,38.3L151.3,37.6L150.8,36.1M146.7,42.4L147.3,43.4L147.1,44.1L146.1,44.7L145.3,45L144.3,45.5L143,46.3L141.7,47.1L140.9,47.3L140.2,48.3L139.2,48.5L138.2,48.7L137.2,47.9L138.3,47.1L138.8,46.5L139.6,46.2L140.4,46L141.9,45.4L142.7,44.9L143.8,44.3L144.9,43.3L145.9,42.4L146.7,42.4M-76.9,-23.1L-75.4,-23.4L-74.8,-24.2L-74,-24.3L-72.5,-23.8L-71.4,-23.6L-70.9,-22.9L-70.2,-22L-69.5,-21.7L-68.5,-21.7L-67.3,-21.2L-68.4,-20.7L-69.2,-20.6L-70.4,-20.9L-70.7,-21.6L-71.5,-22.5L-72.2,-23L-73.3,-22.9L-74.2,-22.8L-75.6,-22.6L-76.9,-23.1M-67.8,-19.3L-67.4,-20.3L-66.3,-21L-65,-20.3L-63.6,-20.7L-62.6,-20.1L-62.3,-19.4L-63.2,-19L-64.7,-19.1L-65.3,-19L-66.4,-19.1L-67.8,-19.3M-71.3,-19.3L-70.4,-19L-69.5,-19.1L-70.2,-18.7L-71.3,-19.3M-61.2,-19.4L-59.7,-19.3L-60.1,-18.8L-61.2,-18.9L-61.2,-19.4M-48.3,-49.7L-47.6,-50.4L-46.2,-51.3L-45.7,-52.8L-44.4,-53.7L-44.5,-52.2L-43.7,-51.3L-42.9,-50.7L-43.3,-50L-43.4,-48.8L-44.4,-48.5L-45.8,-49.1L-47.2,-48.9L-48.3,-49.7M-49.2,-64L-48.2,-63.9L-47.6,-63.9L-46.8,-64.4L-45.9,-65.3L-45.2,-66.3L-43.6,-66.5L-42.8,-67.1L-42.5,-68.1L-43.7,-68.8L-44.3,-70L-45,-70.4L-45.5,-71.6L-46.1,-72.1L-46.9,-72.5L-47.8,-72.7L-48.4,-73.1L-49.9,-73.8L-50.7,-74.7L-51.7,-74.7L-53,-74.6L-54,-74.2L-54.8,-74.3L-55.7,-74.2L-56.6,-73.9L-57.6,-73L-56.9,-72L-56.5,-71.3L-55.3,-70.9L-54.3,-71.4L-53.2,-71.1L-51.8,-71.3L-50.6,-70.6L-49.6,-69.5L-50.1,-68.9L-51.1,-67.9L-51.9,-67.1L-52.7,-66.8L-52.3,-66L-51.3,-65.4L-50.3,-64.7L-49.2,-64M-77.7,-71.3L-76.5,-70.8L-75.7,-69.9L-74.3,-69.3L-73.2,-69L-71.9,-69.4L-70.5,-70.4L-69,-70.1L-68,-70.7L-67.1,-71.3L-67.1,-72.2L-67.3,-73.6L-68.5,-73.7L-69.1,-74.2L-70.3,-73.8L-71.7,-73.6L-72.6,-73.8L-74.2,-74.1L-75.3,-73.4L-76,-73L-76.9,-72.5L-77.7,-71.3M-54.7,-76.7L-53.6,-76.9L-51.7,-76.6L-50.1,-76.3L-48.8,-76.5L-47.8,-76.9L-47.1,-77L-46.1,-77.7L-44.7,-78.2L-43,-79.1L-41.1,-78.5L-40.1,-78.8L-39.1,-79.4L-38.2,-79.6L-36.8,-79.4L-35,-79.8L-34.3,-80.8L-35.1,-80.4L-36.3,-80.4L-37.2,-80.3L-38.3,-81.2L-41,-81.5L-42.9,-80.9L-44.6,-80.9L-46.9,-80.9L-48.7,-80.6L-50,-81.5L-51.7,-80.8L-52.4,-79.7L-52.7,-78.7L-52.2,-77.8L-53.5,-77.6L-54.7,-76.7M-81.1,-72.8L-80.3,-72.4L-79.1,-72.4L-77.5,-72.6L-76.3,-73.7L-75,-73.8L-73.8,-74.1L-74.9,-74.8L-76.1,-74.2L-76.9,-74.3L-78.2,-74.7L-78.8,-74.2L-79.5,-73.5L-80.3,-73.6L-81.1,-72.8M-57.5,-75.3L-55.6,-75.8L-54.1,-75.4L-51.7,-74.6L-50.1,-75.2L-49.8,-76.1L-50.9,-76.4L-52.2,-77L-53.4,-77L-55,-76.4L-56,-76.7L-57.7,-76.4L-58.4,-76.5L-59.3,-75.9L-58.5,-75.8L-57.5,-75.3M-61.8,-73L-60.5,-72.9L-59.5,-73.5L-58.8,-74.2L-57.3,-74.4L-58.1,-74.1L-59.3,-74.7L-60.4,-74.7L-61.4,-73.8L-61.8,-73M-66,-73L-64.7,-72.8L-63.7,-73.1L-62.4,-73.4L-62,-74.5L-62.9,-74.2L-64.3,-74.4L-65.4,-73.8L-66,-73M-72.2,-75.5L-71.3,-75.3L-70.2,-75.2L-69,-75.7L-67.6,-75.2L-66.5,-75.8L-65.2,-76.1L-66.5,-76.1L-67.4,-76.4L-68.1,-76.7L-68.7,-76.1L-69.5,-75.7L-70.8,-76.3L-71.7,-76.3L-72.2,-75.5M-56.1,-78.1L-54.9,-77.9L-53.7,-77.9L-52.5,-77.8L-51.7,-78.3L-50.6,-79L-49.7,-79.6L-51.1,-79.6L-52.6,-80L-53.9,-79.6L-55.3,-79.2L-56.1,-78.1M-61.7,-65.8L-60.7,-66.5L-60.4,-67.3L-59,-67.1L-57.8,-67.4L-57.4,-66.8L-57.5,-65.8L-58.4,-65.4L-59.1,-65.1L-60.1,-64.4L-61,-64.8L-61.7,-65.8M-66.5,-70.4L-65.8,-70.1L-64.9,-69.9L-63.7,-70.9L-65.2,-71.2L-66.5,-70.4M-51.8,-52L-50.8,-51.3L-49.9,-51.6L-51.2,-51.4L-51.8,-52M-102.2,-53L-101.1,-52.2L-100.3,-52.2L-100.1,-51.6L-100.2,-50.4L-101.5,-51L-101.9,-52.3L-102.2,-53M-103.5,-56.2L-102.6,-56L-103,-55.1L-103.6,-54.4L-103.9,-55.2L-103.5,-56.2M-116.7,-59.6L-115.5,-59.8L-114.7,-59.9L-115.5,-59L-116.2,-59L-116.7,-59.6M6.4,-78.6L7.5,-79.2L8.1,-79.7L9.2,-79.4L10.5,-79.6L11.4,-79.6L12.6,-79.6L13.4,-79.9L14.2,-80L15.5,-79.4L14.5,-79.4L13.6,-79.3L13.4,-78.7L12.4,-78.1L11.3,-77.7L10.3,-76.8L9.3,-77.2L8.4,-77.4L7.6,-77.9L6.4,-78.6M34,-72.3L34.8,-72.1L36,-72.5L36.7,-72.5L37.5,-71.9L37.1,-72.8L36.5,-73L35.8,-73.8L36.6,-73.7L37.3,-74.2L37.6,-75.1L38.3,-75.9L39,-76.7L39.7,-77L40.7,-76.8L41.4,-76.9L40.5,-76.9L39.7,-77.2L38.2,-76.5L37.3,-76.8L36.6,-76.3L35.8,-75.9L35.7,-74.9L35.3,-74.4L34.2,-73.8L34,-72.3M55.5,-78.6L56.8,-79.2L57.9,-79L58.7,-78.8L59.7,-77.8L60.6,-78.2L61.8,-78.2L60.8,-77.8L59.4,-77.8L58,-78.5L57,-78.6L55.5,-78.6M55.3,-79.7L54.1,-79.9L53.2,-80.1L52,-80L53.1,-80.2L54.1,-80.1L55.3,-79.7M85.9,-75.5L87.2,-75.7L88.2,-76.1L89.5,-75.9L90.4,-75.5L91.3,-75.7L92.1,-75.6L93.4,-75.5L92.6,-74.5L91.5,-74.7L90.6,-74.4L88.9,-74.3L87.5,-74.9L86.9,-75.3L85.9,-75.5M26.9,-79.6L27.8,-79L28.6,-78.8L29.7,-78.6L31.5,-79.5L32.7,-80.2L33.7,-80.4L35,-80L34.2,-79.9L33,-80.8L31.7,-80.4L30.8,-80.3L30,-79.9L28.6,-80.3L27.5,-80L26.9,-79.6M117.1,-72.1L117.3,-72.5M10.7,-39.8L11.3,-40.3L12.3,-40.5L13.3,-40L13.1,-38.4L12.1,-38.6L10.8,-39.4L10.7,-39.8M6.9,-42.9L8.2,-42.9L8.1,-42.2L8.2,-41.1L7.3,-40.9L6.8,-41.6L6.9,-42.9M7.3,-44.6L8,-45L7.9,-43.4L7.3,-43.8L7.3,-44.6M20.4,-37.2L21.7,-37.2L22.9,-36.9L21.4,-36.7L20.4,-37.2M28.1,-36.7L28.9,-36.9L30,-37.3L29.5,-36.3L28.1,-36.7M-48.4,53.7L-47.2,53.5L-46,53.6L-46.1,54.5L-46.9,54.8L-47.7,54.4L-48.4,53.7M-141.7,-20.7L-140.8,-20.5L-141.6,-19.9L-141.7,-20.7M48.9,-13.2L50,-13.1L49.1,-12.9L48.9,-13.2M55.6,51.2L56.9,51.4L55.9,51.9L55.6,51.2M-29.6,56.2L-28.6,56.2L-27.9,56.7L-28.7,56.4L-29.6,56.2M48,-48.6L48.9,-49.1L50.1,-48.6L50.4,-47.3L50.7,-46.6L50,-46.3L49.2,-46L48.8,-46.8L48,-47.5L48,-48.6M60.6,-48.8L61.7,-48.3L62.6,-48.3L63.9,-48.1L64.8,-48.6L63.5,-47.8L62.6,-48.1L61.7,-48.2L60.6,-48.8M82.5,-53.7L83,-54.6L83,-55.4L83.6,-56.4L84.2,-57.7L84.5,-56.4L85.1,-55.7L84,-55.3L83.3,-54.4L83.3,-53.7L82.5,-53.7M29.6,-0.3L30.5,0.2L31.4,0L31.2,0.7L30.7,1.6L30.9,2.6L29.6,2.4L30.1,0.9L29.6,-0.3M27.1,3.7L27.6,4.9L28.6,6.2L28.6,7.3L28.4,8.9L28,7.9L27.4,7.5L27.5,6.3L27,4.9L27.1,3.7M31.3,10.2L31.7,11.1L31.9,12.1L32.6,13.1L32.1,14.9L31.5,13.7L31.6,12.6L31.1,11.2L31.3,10.2M-75.4,-48.9L-74.1,-49.8L-72.6,-50L-71.3,-50.7L-70.7,-49.8L-69.3,-49.6L-69.5,-48.8L-70.7,-48.3L-71.8,-48.7L-73.1,-48.5L-74.1,-48.9L-75.4,-48.9M-74,-44L-72.6,-44.3L-71.9,-45.2L-70.8,-45.9L-70.7,-46.9L-70.6,-47.6L-71.9,-47.6L-72,-46.4L-72.6,-45.7L-73.7,-45L-74,-44M-69.6,-48.1L-68.6,-48L-67.1,-48.1L-66.4,-46.8L-67,-45.7L-67.7,-45.2L-68.6,-45.2L-69.4,-46.6L-69.6,-48.1M-70.3,-43.8L-69.5,-44.3L-68,-44.2L-67.4,-44.5L-66.3,-44.8L-67.2,-44.6L-68.3,-44.8L-69.1,-44.8L-70.3,-43.8M-66.5,-45.3L-65.1,-45.1L-63.9,-45.6L-64.2,-46L-65.1,-45.3L-66.5,-45.3M-79.1,-52.7L-77.5,-52.7L-77.9,-53.7L-77.6,-54.7L-76.8,-55.2L-76.4,-56L-76.7,-55.1L-77.9,-54.7L-78,-53.7L-79.1,-52.7M-86.5,-67L-85.6,-67L-85,-67.7L-84.3,-67.2L-83.1,-67.2L-82,-67.7L-81.3,-68.4L-82.7,-68.5L-83.7,-68.4L-84.6,-68.2L-85.4,-68.1L-85.8,-67.7L-86.5,-67M-85.5,-63L-84.2,-62.9L-83.6,-63.2L-82.5,-63.6L-81.1,-64L-79.7,-64.3L-78.3,-64.7L-79,-64.3L-79.5,-63.6L-80.8,-64.1L-82.2,-63.5L-83.1,-63.4L-84,-63.5L-85.5,-63M-106.8,77.8L-104.8,78.4L-102.2,77.4L-100,77.6L-97.5,78.1L-97,77.5L-96,77L-95,77.2L-94.5,76.6L-93.7,76.2L-92.7,75.9L-91.9,76.3L-90.4,76L-89.4,75.1L-88.3,75L-87.1,75.5L-86.4,74.9L-85,75.1L-83.1,75.1L-81.8,74.8L-80.6,74.9L-78.6,75.3L-77.2,74.7L-75.9,74.5L-74.7,74.3L-72.5,74.2L-71,75.3L-68.9,75.1L-67.8,75.7L-66.4,75.4L-64.8,74.5L-63.9,73.8L-62.7,73.6L-61.4,72.4L-60,73L-57.7,73.6L-56.1,73L-53.6,73.8L-52.3,73.5L-51,74L-50.2,73.2L-49.1,73.1L-48.6,73L-47.4,73.4L-46.7,73L-45.6,72.5L-45.5,71.6L-45.7,70.6L-45.9,69.9L-45.8,69.2L-45.6,68.1L-45.4,66.9L-44.5,66.3L-43.5,66.1L-42.6,65.4L-41.4,65.2L-40.4,65.8L-41.4,66.3L-41.7,67.2L-42.4,67.7L-42,68.6L-42.6,69.9L-41.5,71.1L-40.7,72.1L-40.1,73L-39.6,74L-38.5,74.7L-37.6,74.9L-37.1,75.9L-35.2,76.6L-33.2,76.6L-31.4,77.2L-29.9,77.4L-28.6,78.6L-27.3,78.7L-26.1,77.9L-23.7,77.8L-22.5,78L-22,77.6L-20.8,77.7L-19.8,77.6L-19.2,77.8L-18.2,77.1L-17.2,76.3L-15.7,75.4L-14.2,75.2L-13.4,74.5L-12.7,74.2L-11.2,74.4L-10.4,74L-9.4,73.5L-7.8,72.5L-6.7,73.1L-4.9,72.6L-4.4,72.1L-3.3,71.7L-2.1,71.5L-0.9,71.3L0,71.1L1.4,71.1L2.6,71.3L4.6,70.8L6.6,71.3L8.8,71.3L10.9,72.3L12,71.3L13.3,71.3L14.4,70.8L16.2,71.1L18.2,71L20.1,70.6L21.6,70L22.2,70.5L23.5,70.4L24.8,70.4L25.6,70.5L27,69.9L27.8,70L28.7,69.4L30,68.9L30.7,69L32.1,69.2L33,68.8L33.9,68.1L34.6,67.9L35.2,67.4L36.3,67.2L37,67.7L38.2,67.7L39.5,67.7L40.5,68.4L41.1,68.8L42.2,68.8L43.8,69.1L44.6,69.3L45.6,69.3L46.6,69.5L47.3,69.9L48.1,70.1L48.8,70.8L50.3,70.9L51.4,70.3L52.8,69.7L54,69.7L55.3,69.6L56.9,68.7L58.7,68.1L59.6,68.4L60.6,68.3L61.5,68.1L62.2,68.1L64.4,67.4L66.5,68.1L67.6,67.7L69.6,67.5L71.8,67.4L73.6,69.1L74.6,68.5L76.2,67.9L78,68.7L79.2,68.5L80.4,68.2L82.6,68.4L84.2,67.8L86.2,67.8L87.8,67.9L90.3,67.7L91.3,67.7L91.9,67.9L92.6,67.5L93.8,67.7L95.1,67.8L96.5,68.3L97.1,68.7L98.4,68.9L99.6,68.6L100.5,69.5L101.6,69.7L102.4,70.4L103.8,70.7L105.5,70.4L106.5,71.1L107.4,71.3L108.5,72L109.3,72.5L110.8,72.5L110.2,73.2L109.2,73.9L107.9,74.2L106.5,74.9L105.7,75.7L104.4,75.7L102.7,75.5L101.8,75.8L100.8,76L99.4,77.1L98.1,77.4L99.4,77.6L100.1,77L101.2,77.7L102.3,78.5L103.6,78.4L105.6,77.6L106.8,77.8M-75.4,-76.3L-74.3,-76.2L-73.6,-76.4L-72.8,-76L-71.4,-76.9L-70.3,-76.8L-71.6,-77.4L-72.4,-77.4L-73.2,-76.8L-74.5,-76.5L-75.4,-76.3M-64.7,-75.5L-63.6,-75.8L-62.8,-75.5L-61.6,-75.5L-60.8,-76.1L-59.6,-76.7L-60.9,-76.9L-61.7,-76.9L-62.2,-76.1L-63.2,-75.5L-64.7,-75.5M-60.2,-75.3L-59.5,-75.7L-58.4,-75.3L-58,-76L-58.8,-75.9L-59.7,-75.8L-60.2,-75.3M-62.9,-77.8L-61.3,-77.7L-60.6,-78L-59.5,-77.7L-59,-78.5L-57.8,-78.6L-59.3,-78.5L-60.4,-78.8L-61.6,-78.2L-62.9,-77.8M-58.2,-77.8L-57.5,-77.9L-56.6,-77.7L-56,-78.5L-57.5,-78.4L-58.2,-77.8M-51.6,-74L-50.7,-74.3L-49.3,-73.6L-48.3,-74.2L-49.2,-74L-50,-74.5L-51,-74.1L-51.6,-74M-53.1,-68.8L-52.2,-68.9L-51.2,-69L-51.2,-69.7L-52.7,-69.5L-53.1,-68.8M-59.6,-64.7L-58.8,-65L-57.6,-64.4L-57.7,-64.9L-59,-65.1L-59.6,-64.7M-58.2,-64.1L-57.6,-63.7L-57.3,-64.3L-58.2,-64.1M-64.3,-55.2L-63.2,-55L-63.4,-55.4L-64.3,-55.2M-122.7,-65.2L-121.1,-64.9L-120.5,-65.3L-121.9,-65.7L-122.7,-65.2M-123.3,-62.3L-122.6,-61.9L-121.9,-62.5L-123.3,-62.3M-127.4,-56.8L-128.8,-56.4L-129.7,-56L-130.8,-55.5L-131.9,-55.4L-130.9,-55.7L-130.2,-55.9L-129.1,-55.8L-128.4,-56L-127.4,-56.8M-135.5,-54.6L-136.7,-54.4L-137.8,-54.3L-139,-54.2L-140.1,-54L-138.7,-53.9L-137.6,-54.5L-136.3,-55L-135.5,-54.6M140.4,-54.1L138.9,-54.6L137.7,-54.7L136.8,-55.3L135.8,-55.1L136.6,-54.9L138.1,-54.4L139.1,-53.8L140.4,-54.1M32.5,-70.4L33.6,-70.1L33.1,-70.8L32.5,-70.4M39,-71.1L40.1,-71L39.3,-71.6L39,-71.1M59.1,-78.1L60.2,-78L61,-77.8L61.8,-78L61.2,-78.5L59.9,-78.8L59.1,-78.1M84.9,-75.7L86.1,-75.2L87.1,-75.1L87.7,-75.5L87.9,-76.1L86.8,-75.9L85.6,-76L84.9,-76.4L84.9,-75.7M-117.3,-72.5L-116.1,-72.3L-117.2,-72L-118.1,-72.1M121.3,-46.6L121.9,-46.8L122.6,-47.6L123,-48.5L123.7,-48.9L124.2,-49.9L124.5,-50.4L124.5,-51.1L124.6,-52.4M114.8,-27.5L114.8,-28.1L114.8,-28.9L115.5,-29.7M85.1,-12L85.6,-13.2L85.3,-13.9L85.2,-12.9L85.1,-12M-53.8,55L-52.5,55.6L-51.6,56.2L-50.6,56.8L-51.4,56.9L-52.4,57.4L-53.5,57.2L-54.3,56.8L-55.2,56.4L-55.1,55.2L-53.8,55M36.2,6.1L36.4,6.6L36.2,6.7L36.2,6.1M50.1,21.9L50.6,22.1L50.3,22.4L50.1,21.9M52.1,21L52.5,21.3L52.1,21.5L52.1,21M2,-41.4L2.9,-41.8L2.6,-41.2L2,-41.4M-15.1,-29.8L-14.3,-30L-14.6,-29.3L-15.1,-29.8M-84.6,0.3L-83.9,0.7L-84.4,1L-84.6,0.3M-70.2,-28L-69.2,-27.8L-69.8,-27L-70.2,-25.7M-56.9,-11.2L-56.1,-11.3L-56.1,-10.6L-57,-10.6L-56.9,-11.2M-62.6,43.8L-61.9,44L-61.6,45.4L-62.3,45L-62.6,43.8M7.8,-3.9L8.2,-3.8L8,-3.4L7.8,-3.9M12.4,-14.1L13.6,-13.9L13.1,-13.2L12.4,-14.1M33.2,-4.7L33.2,-3.3L33.8,-2.6L33.4,-3.5L33.2,-4.7M22.5,-62.1L23.6,-62.1L24.1,-62.5L23.3,-63.6L22.2,-63L22.5,-62.1M25.2,-63L26.5,-63.3L25.9,-63.7L25.4,-64.5L25.2,-63M9.4,-60.6L10.4,-61.1L9.9,-61.4L9.4,-60.6M-83.3,-60.8L-82.6,-61.2L-81.4,-60.9L-80.6,-60.9L-79.5,-61.4L-78.5,-61.3L-79.9,-61L-81.2,-61.1L-82.5,-60.7L-83.3,-60.8M-78.2,-58.7L-77.4,-59.8L-76.4,-59.9L-76.9,-60.1L-77.3,-59.4L-78.2,-58.7M-71.6,-51.7L-70.4,-52.5L-71.1,-51.7L-71.6,-51.7M-64,16.2L-63,17.2L-63.5,16.8L-64,16.2M-79,-12.6L-78.1,-11.7L-78.6,-11.8L-79,-12.6M64.3,-44.5L65.7,-44.7L65.1,-44.1L64.3,-44.5M36.4,-40.4L37.3,-40.7L37.1,-40.1L36.4,-40.4M38.8,-40L39.6,-39.3L39.2,-39L38.8,-40M109.5,-46.9L109.9,-47.3L110.2,-46.6L109.5,-46.9M95.1,-13.9L95.9,-13.1L95.5,-13.3L95.1,-13.9M122.1,29.7L122.7,30.2L122.1,30.7L122.1,29.7" stroke-linejoin="round"/>
<path id="sides" d="M88.6,-84.5L95.2,-82.5L103.4,-79.4L112,-75.5L119.6,-71.3L126.4,-66.8L132.9,-62.1L138.9,-57.2L144.4,-52.2L149.1,-47.1L153.4,-41.9L156.9,-36.7L159.7,-31.4L161.9,-26.2L163.4,-21L164.7,-15.7L165.6,-10.5L166.2,-5.2L166.4,0L166.2,5.2L165.6,10.5L164.7,15.7L163.4,21L161.9,26.2L159.7,31.4L156.9,36.7L153.4,41.9L149.1,47.1L144.4,52.2L138.9,57.2L132.9,62.1L126.4,66.8L119.6,71.3L112,75.5L103.4,79.4L95.2,82.5L88.6,84.5M-88.6,84.5L-95.2,82.5L-103.4,79.4L-112,75.5L-119.6,71.3L-126.4,66.8L-132.9,62.1L-138.9,57.2L-144.4,52.2L-149.1,47.1L-153.4,41.9L-156.9,36.7L-159.7,31.4L-161.9,26.2L-163.4,21L-164.7,15.7L-165.6,10.5L-166.2,5.2L-166.4,0L-166.2,-5.2L-165.6,-10.5L-164.7,-15.7L-163.4,-21L-161.9,-26.2L-159.7,-31.4L-156.9,-36.7L-153.4,-41.9L-149.1,-47.1L-144.4,-52.2L-138.9,-57.2L-132.9,-62.1L-126.4,-66.8L-119.6,-71.3L-112,-75.5L-103.4,-79.4L-95.2,-82.5L-88.6,-84.5"/>
<filter id="fd" filterUnits="userSpaceOnUse" x="-180" y="-95" width="360" height="190" color-interpolation-filters="sRGB"><feTurbulence type="fractalNoise" baseFrequency="0.25 0.25" numOctaves="3" seed="9" result="n2"/><feColorMatrix in="n2" type="matrix" values="0.08 0 0 0 0.96  0.08 0 0 0 0.96  0.08 0 0 0 0.96  0 0 0 0 1" result="n3"/><feComposite in="SourceGraphic" in2="n3" operator="arithmetic" k1="1" k2="0" k3="0" k4="0" result="tx"/><feComponentTransfer in="tx"><feFuncR type="table" tableValues="0.392 0.391 0.390 0.389 0.385 0.380 0.375 0.371 0.369 0.367 0.363 0.354 0.344 0.334 0.325 0.315 0.306 0.303 0.304 0.305 0.316 0.348 0.381 0.414 0.466 0.519 0.572 0.632 0.696 0.759 0.821 0.882 0.943 0.992 0.992 0.992 0.992 0.992 0.992 0.992 0.992"/><feFuncG type="table" tableValues="0.169 0.203 0.238 0.273 0.306 0.338 0.370 0.403 0.436 0.470 0.502 0.526 0.550 0.574 0.598 0.621 0.645 0.668 0.689 0.711 0.733 0.755 0.778 0.801 0.817 0.834 0.851 0.865 0.878 0.891 0.902 0.910 0.919 0.925 0.925 0.925 0.925 0.925 0.925 0.925 0.925"/><feFuncB type="table" tableValues="0.490 0.512 0.533 0.555 0.574 0.592 0.610 0.623 0.630 0.637 0.643 0.645 0.646 0.647 0.645 0.643 0.640 0.635 0.628 0.621 0.610 0.590 0.571 0.552 0.522 0.492 0.462 0.423 0.381 0.339 0.318 0.318 0.318 0.318 0.318 0.318 0.318 0.318 0.318 0.318 0.318"/><feFuncA type="linear" slope="0" intercept="1"/></feComponentTransfer></filter>
<filter id="fe" filterUnits="userSpaceOnUse" x="-180" y="-95" width="360" height="190" color-interpolation-filters="sRGB"><feTurbulence type="fractalNoise" baseFrequency="0.25 0.25" numOctaves="3" seed="9" result="n2"/><feColorMatrix in="n2" type="matrix" values="0.14 0 0 0 0.9299999999999999  0.14 0 0 0 0.9299999999999999  0.14 0 0 0 0.9299999999999999  0 0 0 0 1" result="n3"/><feComposite in="SourceGraphic" in2="n3" operator="arithmetic" k1="1" k2="0" k3="0" k4="0" result="tx"/><feComponentTransfer in="tx"><feFuncR type="table" tableValues="0.392 0.391 0.390 0.389 0.385 0.380 0.375 0.371 0.369 0.367 0.363 0.354 0.344 0.334 0.325 0.315 0.306 0.303 0.304 0.305 0.316 0.348 0.381 0.414 0.466 0.519 0.572 0.632 0.696 0.759 0.821 0.882 0.943 0.992 0.992 0.992 0.992 0.992 0.992 0.992 0.992"/><feFuncG type="table" tableValues="0.169 0.203 0.238 0.273 0.306 0.338 0.370 0.403 0.436 0.470 0.502 0.526 0.550 0.574 0.598 0.621 0.645 0.668 0.689 0.711 0.733 0.755 0.778 0.801 0.817 0.834 0.851 0.865 0.878 0.891 0.902 0.910 0.919 0.925 0.925 0.925 0.925 0.925 0.925 0.925 0.925"/><feFuncB type="table" tableValues="0.490 0.512 0.533 0.555 0.574 0.592 0.610 0.623 0.630 0.637 0.643 0.645 0.646 0.647 0.645 0.643 0.640 0.635 0.628 0.621 0.610 0.590 0.571 0.552 0.522 0.492 0.462 0.423 0.381 0.339 0.318 0.318 0.318 0.318 0.318 0.318 0.318 0.318 0.318 0.318 0.318"/><feFuncA type="linear" slope="0" intercept="1"/></feComponentTransfer></filter>
<filter id="fa" filterUnits="userSpaceOnUse" x="-180" y="-95" width="360" height="190" color-interpolation-filters="sRGB"><feComponentTransfer in="SourceGraphic"><feFuncR type="table" tableValues="1.000 1.000 0.979 0.963 0.947 0.918 0.889 0.859 0.829 0.780 0.725 0.671 0.616 0.565 0.514 0.463 0.412 0.374 0.343 0.313 0.282 0.270 0.275 0.281 0.287 0.290 0.290 0.290 0.290 0.283 0.258 0.233 0.208 0.188 0.188 0.188 0.188 0.188 0.188 0.188 0.188"/><feFuncG type="table" tableValues="1.000 1.000 0.990 0.983 0.977 0.966 0.955 0.943 0.932 0.913 0.892 0.870 0.849 0.830 0.811 0.791 0.772 0.744 0.710 0.675 0.641 0.603 0.562 0.521 0.480 0.443 0.415 0.386 0.357 0.331 0.309 0.287 0.265 0.247 0.247 0.247 0.247 0.247 0.247 0.247 0.247"/><feFuncB type="table" tableValues="1.000 0.996 0.817 0.788 0.760 0.756 0.755 0.754 0.753 0.758 0.763 0.769 0.775 0.782 0.791 0.800 0.808 0.808 0.801 0.794 0.788 0.776 0.758 0.741 0.724 0.706 0.687 0.668 0.649 0.624 0.588 0.552 0.515 0.486 0.486 0.486 0.486 0.486 0.486 0.486 0.486"/><feFuncA type="linear" slope="0" intercept="1"/></feComponentTransfer></filter>
<filter id="fb" filterUnits="userSpaceOnUse" x="-180" y="-95" width="360" height="190" color-interpolation-filters="sRGB"><feTurbulence type="fractalNoise" baseFrequency="0.3 0.45" numOctaves="3" seed="5" result="n2"/><feColorMatrix in="n2" type="matrix" values="0.84 0 0 0 0.5800000000000001  0.84 0 0 0 0.5800000000000001  0.84 0 0 0 0.5800000000000001  0 0 0 0 1" result="n3"/><feComposite in="SourceGraphic" in2="n3" operator="arithmetic" k1="1" k2="0" k3="0" k4="0" result="tx"/><feComponentTransfer in="tx"><feFuncR type="table" tableValues="1.000 1.000 0.979 0.963 0.947 0.918 0.889 0.859 0.829 0.780 0.725 0.671 0.616 0.565 0.514 0.463 0.412 0.374 0.343 0.313 0.282 0.270 0.275 0.281 0.287 0.290 0.290 0.290 0.290 0.283 0.258 0.233 0.208 0.188 0.188 0.188 0.188 0.188 0.188 0.188 0.188"/><feFuncG type="table" tableValues="1.000 1.000 0.990 0.983 0.977 0.966 0.955 0.943 0.932 0.913 0.892 0.870 0.849 0.830 0.811 0.791 0.772 0.744 0.710 0.675 0.641 0.603 0.562 0.521 0.480 0.443 0.415 0.386 0.357 0.331 0.309 0.287 0.265 0.247 0.247 0.247 0.247 0.247 0.247 0.247 0.247"/><feFuncB type="table" tableValues="1.000 0.996 0.817 0.788 0.760 0.756 0.755 0.754 0.753 0.758 0.763 0.769 0.775 0.782 0.791 0.800 0.808 0.808 0.801 0.794 0.788 0.776 0.758 0.741 0.724 0.706 0.687 0.668 0.649 0.624 0.588 0.552 0.515 0.486 0.486 0.486 0.486 0.486 0.486 0.486 0.486"/><feFuncA type="linear" slope="0" intercept="1"/></feComponentTransfer></filter>
<filter id="fc" filterUnits="userSpaceOnUse" x="-180" y="-95" width="360" height="190" color-interpolation-filters="sRGB"><feTurbulence type="fractalNoise" baseFrequency="0.3 0.45" numOctaves="3" seed="12" result="n2"/><feColorMatrix in="n2" type="matrix" values="0.84 0 0 0 0.5800000000000001  0.84 0 0 0 0.5800000000000001  0.84 0 0 0 0.5800000000000001  0 0 0 0 1" result="n3"/><feComposite in="SourceGraphic" in2="n3" operator="arithmetic" k1="1" k2="0" k3="0" k4="0" result="tx"/><feComponentTransfer in="tx"><feFuncR type="table" tableValues="1.000 1.000 0.979 0.963 0.947 0.918 0.889 0.859 0.829 0.780 0.725 0.671 0.616 0.565 0.514 0.463 0.412 0.374 0.343 0.313 0.282 0.270 0.275 0.281 0.287 0.290 0.290 0.290 0.290 0.283 0.258 0.233 0.208 0.188 0.188 0.188 0.188 0.188 0.188 0.188 0.188"/><feFuncG type="table" tableValues="1.000 1.000 0.990 0.983 0.977 0.966 0.955 0.943 0.932 0.913 0.892 0.870 0.849 0.830 0.811 0.791 0.772 0.744 0.710 0.675 0.641 0.603 0.562 0.521 0.480 0.443 0.415 0.386 0.357 0.331 0.309 0.287 0.265 0.247 0.247 0.247 0.247 0.247 0.247 0.247 0.247"/><feFuncB type="table" tableValues="1.000 0.996 0.817 0.788 0.760 0.756 0.755 0.754 0.753 0.758 0.763 0.769 0.775 0.782 0.791 0.800 0.808 0.808 0.801 0.794 0.788 0.776 0.758 0.741 0.724 0.706 0.687 0.668 0.649 0.624 0.588 0.552 0.515 0.486 0.486 0.486 0.486 0.486 0.486 0.486 0.486"/><feFuncA type="linear" slope="0" intercept="1"/></feComponentTransfer></filter>
<filter id="stb" filterUnits="userSpaceOnUse" x="-200" y="-110" width="400" height="220" color-interpolation-filters="sRGB"><feGaussianBlur stdDeviation="2.2" result="bl"/><feTurbulence type="fractalNoise" baseFrequency="0.05 0.16" numOctaves="3" seed="7" result="n"/><feColorMatrix in="n" type="matrix" values="0 0 0 0 1  0 0 0 0 1  0 0 0 0 1  3.2 0 0 0 -1.0" result="na"/><feComposite in="bl" in2="na" operator="in"/></filter>
<filter id="stc" filterUnits="userSpaceOnUse" x="-200" y="-110" width="400" height="220" color-interpolation-filters="sRGB"><feGaussianBlur stdDeviation="2.2" result="bl"/><feTurbulence type="fractalNoise" baseFrequency="0.05 0.16" numOctaves="3" seed="21" result="n"/><feColorMatrix in="n" type="matrix" values="0 0 0 0 1  0 0 0 0 1  0 0 0 0 1  3.2 0 0 0 -1.0" result="na"/><feComposite in="bl" in2="na" operator="in"/></filter>
<filter id="b7" filterUnits="userSpaceOnUse" x="-200" y="-110" width="400" height="220" color-interpolation-filters="sRGB"><feGaussianBlur stdDeviation="6"/></filter>
<filter id="b4" filterUnits="userSpaceOnUse" x="-200" y="-110" width="400" height="220" color-interpolation-filters="sRGB"><feGaussianBlur stdDeviation="3.2"/></filter>
<filter id="b2" filterUnits="userSpaceOnUse" x="-200" y="-110" width="400" height="220" color-interpolation-filters="sRGB"><feGaussianBlur stdDeviation="1.5"/></filter>
<filter id="b2a" filterUnits="userSpaceOnUse" x="-200" y="-110" width="400" height="220" color-interpolation-filters="sRGB"><feGaussianBlur stdDeviation="1.9"/></filter>
</defs>
<rect width="685" height="1054" fill="#fff"/>
<g transform="translate(343 97.5)">
<g clip-path="url(#clipmap)">
<g filter="url(#fa)">
<rect x="-175" y="-92" width="350" height="184" fill="rgb(0,0,0)"/>
<g filter="url(#b4)"><path d="M-148.3,-48.6L-149.7,-48.3L-150.9,-47.6L-154.4,-44.5L-156.3,-41.7L-157.8,-42.4L-159.5,-42.6L-161.9,-42.1L-164,-40.7L-165.4,-38.6L-165.9,-37L-165.9,-35.3L-165.1,-32.9L-164,-31.6L-159.7,-27.6L-157.8,-26.4L-156.4,-26L-154.8,-26L-153.4,-26.4L-152,-27.1L-144.6,-34.8L-143.1,-37L-142.7,-38.7L-142.3,-43.3L-142.7,-45.4L-143.4,-46.6L-145,-48L-146.9,-48.6Z" fill="#fff" fill-opacity="0.18"/><path d="M-142.6,-18.1L-145.1,-17.3L-146.5,-16.2L-147.6,-14.8L-148.5,-12.3L-148.3,-9.6L-147.6,-8L-146.5,-6.5L-145.1,-5.5L-135.7,-2.1L-126.6,-1.4L-125.1,-1.6L-123.7,-2.2L-120.8,-4.3L-119.8,-5.5L-119.4,-6.9L-119.5,-8.4L-120.1,-9.8L-121.3,-10.8L-131.1,-15.6L-139.9,-18Z" fill="#fff" fill-opacity="0.18"/><path d="M-166.1,16L-167.2,16.5L-168.2,17.3L-169.2,18.8L-169.5,20L-169.5,21.2L-169,23L-167.7,24.3L-155.2,33.7L-146.4,37.3L-144.8,37.7L-136.7,38.1L-134.9,37.5L-133.8,36.7L-133,35.7L-132.4,33.9L-132.6,31.9L-133.4,30.2L-134.9,28.9L-142.3,25.4L-150.4,23.8L-162.5,16.5L-164.2,15.9Z" fill="#fff" fill-opacity="0.18"/><path d="M-100.4,-53.3L-101.9,-52.6L-110.9,-42.3L-111.3,-40.9L-111.2,-39.4L-110.6,-38.1L-109.5,-37.1L-108.6,-36.7L-107.1,-36.6L-105.3,-37.4L-104.3,-38.5L-100.4,-44.8L-97.7,-49.7L-97.5,-50.7L-97.7,-51.7L-98.2,-52.6L-99.1,-53.2Z" fill="#fff" fill-opacity="0.18"/><path d="M-61.8,-43L-63.5,-42.6L-65,-41.7L-70.8,-37.3L-72.2,-35.8L-72.8,-33.8L-72.7,-31.8L-71.8,-29.9L-70.2,-28.5L-68.9,-28L-66.9,-27.9L-58.4,-30.3L-52.5,-34.1L-51.2,-35.5L-50.6,-37.4L-50.7,-39.3L-51.2,-40.5L-52.5,-42L-53.6,-42.6L-54.9,-42.9Z" fill="#fff" fill-opacity="0.18"/><path d="M-30.3,-54.6L-37.6,-52.6L-39,-51.8L-40.6,-50L-41.4,-47.7L-41.2,-45.2L-40.1,-43.1L-38.3,-41.5L-36.8,-40.8L-35.2,-40.6L-27.7,-41.5L-20.7,-44L-19.6,-44.9L-18.7,-46.1L-18.1,-47.5L-17.9,-49.7L-18.7,-51.8L-20.1,-53.5L-21.4,-54.2L-22.8,-54.6Z" fill="#fff" fill-opacity="0.18"/><path d="M-20.5,-68.2L-21.8,-68L-26.1,-66.5L-27.2,-65.8L-28.5,-64.3L-29.2,-62.5L-29,-60.5L-28.1,-58.7L-26.7,-57.4L-24.8,-56.7L-22.8,-56.9L-18,-58.7L-16.9,-59.5L-16.1,-60.5L-15.6,-61.8L-15.4,-63.1L-15.6,-64.4L-16.1,-65.7L-16.9,-66.7L-17.9,-67.5L-19.2,-68Z" fill="#fff" fill-opacity="0.10"/><path d="M-40.9,14.2L-42.8,14.8L-43.8,15.6L-44.6,16.6L-45.1,17.8L-45.3,19.1L-44.9,21L-44.2,22.2L-43.3,23.1L-36.2,28L-29.2,31.9L-27.5,32.6L-20.3,34.1L-18.3,33.7L-17.1,33L-16.1,32L-15.4,30.8L-15.1,29.5L-15.1,28.1L-15.4,26.8L-16.6,25L-21.6,20.6L-23.1,19.7L-31.4,16.3L-39,14.3Z" fill="#fff" fill-opacity="0.18"/><path d="M-53.7,39.7L-55.7,40.5L-57,42.3L-57.3,43.9L-56.8,46L-53.1,51L-50,53.6L-49,54.2L-47.3,54.5L-45.1,53.9L-43.5,52.3L-42.9,50.1L-43.3,48.5L-45.2,45L-46.5,43.5L-51,40.2L-52,39.8Z" fill="#fff" fill-opacity="0.18"/><ellipse cx="1.4" cy="43.1" rx="8.7" ry="5" transform="rotate(5 1.4 43.1)" fill="#fff" fill-opacity="0.14"/><ellipse cx="-125.6" cy="-47.7" rx="6.5" ry="6" fill="#fff" fill-opacity="0.25"/><ellipse cx="-142.6" cy="13.4" rx="5" ry="4.5" fill="#fff" fill-opacity="0.20"/><ellipse cx="-106.5" cy="52.1" rx="9.5" ry="4" transform="rotate(5 -106.5 52.1)" fill="#fff" fill-opacity="0.25"/><ellipse cx="-139.4" cy="52.1" rx="6.5" ry="3.2" transform="rotate(25 -139.4 52.1)" fill="#fff" fill-opacity="0.33"/><ellipse cx="-164.3" cy="-4.4" rx="6.5" ry="2.4" fill="#fff" fill-opacity="0.25"/><ellipse cx="-78" cy="-27.7" rx="4.8" ry="3" transform="rotate(-20 -78 -27.7)" fill="#fff" fill-opacity="0.25"/><ellipse cx="-51.1" cy="29.5" rx="4" ry="4" fill="#fff" fill-opacity="0.16"/><ellipse cx="-4.5" cy="-49.5" rx="4.2" ry="5.2" fill="#fff" fill-opacity="0.31"/><path d="M-43.8,-0.7L-20,0.5L2.8,3.2" fill="none" stroke="#fff" stroke-opacity="0.08" stroke-width="4" stroke-linecap="round" stroke-linejoin="round"/><ellipse cx="-84.6" cy="-6" rx="8" ry="3.5" fill="#fff" fill-opacity="0.08"/><path d="M-75,-5L-72,4L-67,12L-64,22" fill="none" stroke="#fff" stroke-opacity="0.10" stroke-width="1.6" stroke-linecap="round" stroke-linejoin="round"/><path d="M59.1,1.1L46.6,4L38.2,9.6L36.9,11.1L36.2,13L36.4,15L37.3,16.9L38.2,17.8L39.4,18.5L40.7,18.9L42.1,18.9L50.8,16.3L72.4,11.6L79.3,12.4L85.2,13.4L86.8,13.4L89.1,12.7L90.4,11.7L91.4,10.4L92,8.9L92.1,6.5L91.4,4.2L89.8,2.4L87.6,1.3L86,1.1L80.4,1.2L72.1,-0.3Z" fill="#fff" fill-opacity="0.18"/><path d="M105.4,-9.5L103.7,-8.8L102.2,-7.7L100.7,-5.4L100.2,-3.6L100.4,-0.8L101.1,0.9L102.2,2.4L103.7,3.5L105.4,4.2L127.5,10.2L129.5,10.2L140,9.2L146.1,12.2L151.2,21.3L153.4,23.2L155.2,23.9L157.1,24.2L160,23.6L161.7,22.6L163.6,20.4L164.5,17.7L164.3,14.8L159.4,1.7L158.1,0L156.3,-1.3L153.3,-2.4L142.1,-4.1L129.5,-5.2L118.1,-6.8L109.1,-9.5L107.3,-9.7Z" fill="#fff" fill-opacity="0.13"/><path d="M117.8,-68.3L116.6,-67.9L115.5,-67.3L114.6,-66.4L114,-65.3L113.6,-64.1L113.6,-62.9L114,-61.7L114.6,-60.6L121.3,-53.3L130,-45.2L132,-44.2L133.4,-44L134.8,-44.2L136.8,-45.2L138.2,-46.8L139,-48.9L138.8,-51L137.8,-53L129.1,-62.2L120.8,-67.7L119.6,-68.1Z" fill="#fff" fill-opacity="0.13"/><path d="M148.7,-50.8L147.3,-50.4L146,-49.6L144.9,-48.5L144.1,-47.2L143.7,-45.8L143.7,-44.2L144.1,-42.8L144.9,-41.5L149.2,-35.7L155.8,-30.5L158.2,-29.7L159.8,-29.7L161.4,-30.1L162.9,-30.9L164.5,-32.8L165.3,-35.2L165.2,-37.7L164.1,-39.9L158.8,-45.3L153,-49.6L151,-50.6Z" fill="#fff" fill-opacity="0.18"/><path d="M56,30.8L54.7,31.2L53.5,31.9L52.5,32.9L51.8,34.1L51.4,35.4L51.4,36.8L52.1,38.8L55.7,45L57.2,46.6L63.9,51.6L65.5,51.9L67.6,51.3L68.8,50.3L69.6,48.8L69.7,47.2L69.1,45.6L60.4,32.4L58.7,31.2L57.4,30.8Z" fill="#fff" fill-opacity="0.11"/><path d="M80.1,48.4L69.8,51.9L60.6,58L59.5,59.3L58.9,60.9L59,62.6L59.8,64.2L61.6,65.6L63.9,65.9L74.4,63.1L88.5,55L89.7,53.8L90.2,52.5L90.1,51.1L89.5,49.9L88.5,49L86.7,48.5Z" fill="#fff" fill-opacity="0.11"/><path d="M109.1,42.2L107.3,42.8L106.3,43.6L105.5,44.6L102.7,53L101.2,60.3L101.2,61.3L102,63.1L103,64L103.9,64.4L104.9,64.5L106.3,64.2L107.2,63.7L108.1,62.6L111.3,56L114.3,48.2L114.5,47L114.3,45.8L113.9,44.6L113.1,43.6L112.1,42.8L110.9,42.4Z" fill="#fff" fill-opacity="0.08"/><ellipse cx="136.7" cy="35.6" rx="7" ry="3.5" transform="rotate(-10 136.7 35.6)" fill="#fff" fill-opacity="0.12"/><ellipse cx="33.7" cy="50.9" rx="7.5" ry="4.2" transform="rotate(-10 33.7 50.9)" fill="#fff" fill-opacity="0.25"/><path d="M53.2,-63.5L74.3,-49.1" fill="none" stroke="#fff" stroke-opacity="0.08" stroke-width="3" stroke-linecap="round" stroke-linejoin="round"/><ellipse cx="145.4" cy="48.8" rx="6" ry="3" transform="rotate(-30 145.4 48.8)" fill="#fff" fill-opacity="0.12"/><ellipse cx="-121.9" cy="-48.6" rx="11.5" ry="9" fill="#fff" fill-opacity="0.10"/><ellipse cx="-88.7" cy="-10.3" rx="16.5" ry="5" fill="#fff" fill-opacity="0.10"/><ellipse cx="-121.9" cy="-1.4" rx="32" ry="5" fill="#fff" fill-opacity="0.10"/><ellipse cx="-139.8" cy="12.7" rx="19" ry="7.5" fill="#fff" fill-opacity="0.10"/><ellipse cx="-109.1" cy="20.4" rx="16" ry="4" fill="#fff" fill-opacity="0.10"/><ellipse cx="-114.2" cy="33.1" rx="15" ry="5" fill="#fff" fill-opacity="0.10"/><ellipse cx="-107.8" cy="52.3" rx="14" ry="5.5" fill="#fff" fill-opacity="0.10"/><ellipse cx="-78.5" cy="61.2" rx="16" ry="6" fill="#fff" fill-opacity="0.10"/><ellipse cx="-40.1" cy="5" rx="12.5" ry="5" fill="#fff" fill-opacity="0.10"/><ellipse cx="-35" cy="-32" rx="16" ry="5" fill="#fff" fill-opacity="0.10"/><ellipse cx="-19.7" cy="-56.3" rx="19" ry="10" fill="#fff" fill-opacity="0.10"/><ellipse cx="-58" cy="17.8" rx="7.5" ry="10" fill="#fff" fill-opacity="0.10"/><ellipse cx="-81" cy="-25.6" rx="9" ry="6" fill="#fff" fill-opacity="0.10"/><ellipse cx="-22.3" cy="35.7" rx="12.5" ry="5" fill="#fff" fill-opacity="0.10"/><ellipse cx="-19.7" cy="56.1" rx="10" ry="4" fill="#fff" fill-opacity="0.10"/><ellipse cx="-157.7" cy="-5.2" rx="8" ry="4" fill="#fff" fill-opacity="0.10"/><ellipse cx="17.5" cy="-56.3" rx="25" ry="12" fill="#fff" fill-opacity="0.10"/><ellipse cx="63.5" cy="-56.3" rx="8" ry="5" fill="#fff" fill-opacity="0.10"/><ellipse cx="58.4" cy="-5.2" rx="11.5" ry="7.5" fill="#fff" fill-opacity="0.10"/><ellipse cx="78.9" cy="-12.9" rx="6" ry="6" fill="#fff" fill-opacity="0.10"/><ellipse cx="135" cy="-38.4" rx="12.5" ry="6" fill="#fff" fill-opacity="0.10"/><ellipse cx="27.8" cy="53.6" rx="14" ry="5" fill="#fff" fill-opacity="0.10"/><ellipse cx="68.6" cy="61.2" rx="25" ry="6" fill="#fff" fill-opacity="0.10"/><ellipse cx="107" cy="56.1" rx="15" ry="10" fill="#fff" fill-opacity="0.10"/><ellipse cx="142.7" cy="33.1" rx="11" ry="6" fill="#fff" fill-opacity="0.10"/><ellipse cx="130" cy="63.8" rx="12" ry="4" fill="#fff" fill-opacity="0.10"/><ellipse cx="22.7" cy="7.6" rx="5" ry="5" fill="#fff" fill-opacity="0.10"/><ellipse cx="2.2" cy="5" rx="4" ry="2" fill="#fff" fill-opacity="0.10"/><ellipse cx="53.3" cy="33.1" rx="8" ry="10" fill="#fff" fill-opacity="0.10"/><ellipse cx="128" cy="-12" rx="14" ry="8" fill="#fff" fill-opacity="0.10"/><ellipse cx="-60" cy="-40" rx="14" ry="6" fill="#fff" fill-opacity="0.10"/><ellipse cx="-140" cy="-25" rx="14" ry="6" fill="#fff" fill-opacity="0.10"/><ellipse cx="-150" cy="45" rx="12" ry="5" fill="#fff" fill-opacity="0.10"/><ellipse cx="90" cy="20" rx="14" ry="5" fill="#fff" fill-opacity="0.10"/></g>
<g filter="url(#b2a)"><path d="M-148,-46.5L-149.6,-45.8L-152.8,-43L-155.8,-38.3L-157.4,-39.8L-159.5,-40.4L-161.6,-39.8L-163.2,-38.3L-163.7,-36.1L-163.2,-34L-162.5,-33.1L-157.4,-28.6L-155.6,-28.1L-154.6,-28.3L-153.4,-28.9L-145.4,-37.3L-144.9,-39L-144.6,-44.2L-145.1,-45.3L-145.7,-45.8L-146.8,-46.4Z" fill="#fff" fill-opacity="1.00"/><path d="M-142.3,-16L-143.5,-15.6L-145,-14.6L-146,-13.1L-146.3,-12L-146.2,-10.2L-145.7,-9.1L-145,-8.1L-143.5,-7.1L-135.2,-4.2L-126.6,-3.6L-124.8,-4.1L-122.2,-6.1L-121.7,-6.8L-121.7,-8.1L-122.4,-8.9L-132,-13.6L-140.5,-15.8Z" fill="#fff" fill-opacity="1.00"/><path d="M-165.5,18.2L-166.6,18.8L-167.2,19.6L-167.4,20.9L-166.9,22.1L-154.1,31.8L-144.5,35.5L-137,36L-136,35.6L-135,34.6L-134.6,33.6L-134.7,32.5L-135.2,31.5L-136,30.8L-142.9,27.5L-151.2,25.9L-163.6,18.4L-164.5,18.1Z" fill="#fff" fill-opacity="1.00"/><path d="M-100.2,-51.5L-100.7,-51.3L-104.2,-47.4L-109.3,-41.4L-109.6,-40.6L-109.5,-39.9L-109.2,-39.2L-108.6,-38.7L-107.9,-38.4L-107.1,-38.5L-106.4,-38.8L-105.9,-39.4L-102,-45.7L-99.3,-50.4L-99.4,-51.2Z" fill="#fff" fill-opacity="0.86"/><ellipse cx="-105.3" cy="-42.8" rx="4.4" ry="2.7" transform="rotate(-52 -105.3 -42.8)" fill="#fff" fill-opacity="1.00"/><path d="M-61.5,-40.9L-62.6,-40.6L-63.6,-40L-70,-35L-70.6,-33.9L-70.6,-32.7L-70.3,-31.6L-69.5,-30.7L-68.4,-30.1L-67.2,-30.1L-59.2,-32.3L-53.8,-35.8L-52.9,-37L-52.7,-38L-52.9,-39.1L-53.5,-40L-54.4,-40.6L-55.5,-40.8Z" fill="#fff" fill-opacity="1.00"/><path d="M-30,-52.4L-36.7,-50.6L-38.1,-49.7L-38.9,-48.4L-39.2,-46.8L-38.9,-45.3L-38.1,-44L-36.7,-43.1L-35.2,-42.8L-28.8,-43.5L-22.3,-45.7L-21.5,-46.2L-20.6,-47.2L-20.1,-48.5L-20.2,-49.9L-20.8,-51.1L-21.8,-52L-23.6,-52.5Z" fill="#fff" fill-opacity="1.00"/><path d="M-20.5,-66L-25.2,-64.5L-26.4,-63.6L-26.9,-62.6L-27,-61.4L-26.6,-60.4L-25.9,-59.5L-24.5,-58.9L-23.3,-59L-19.4,-60.4L-18.2,-61.3L-17.6,-62.7L-17.8,-64.2L-19.1,-65.6Z" fill="#fff" fill-opacity="0.48"/><path d="M-40.7,16.4L-42,16.9L-42.9,18.1L-43,19.5L-42.7,20.5L-42,21.3L-35.1,26.1L-27,30.5L-20.3,31.9L-18.8,31.5L-17.6,30.3L-17.3,29.6L-17.2,28.4L-17.9,26.9L-23.4,22L-31.9,18.4L-39.6,16.5Z" fill="#fff" fill-opacity="1.00"/><path d="M-53.4,41.9L-54.1,42.1L-54.7,42.7L-55.1,43.4L-55.1,44.4L-51.8,49.2L-48.2,52.2L-47,52.3L-46,51.9L-45.2,50.7L-45.2,49.6L-47.3,45.8L-52.1,42.1Z" fill="#fff" fill-opacity="0.90"/><ellipse cx="1.4" cy="43.1" rx="6.5" ry="2.8" transform="rotate(5 1.4 43.1)" fill="#fff" fill-opacity="0.64"/><ellipse cx="-51.1" cy="29.5" rx="2.3" ry="2.3" fill="#fff" fill-opacity="0.33"/><path d="M59.4,3.2L48,5.8L47,6.3L39.3,11.6L38.8,12.2L38.4,13.3L38.5,14.5L38.8,15.2L39.9,16.3L41,16.7L41.8,16.7L50.2,14.2L72.3,9.3L79.6,10.2L85.5,11.3L86.5,11.3L88,10.8L88.8,10.1L89.7,8.8L90,7.8L89.9,6.3L89.2,4.9L88,3.8L86.5,3.3L80.3,3.4L72.1,1.9Z" fill="#fff" fill-opacity="1.00"/><ellipse cx="43.6" cy="20.3" rx="1.6" ry="2.2" fill="#fff" fill-opacity="0.49"/><path d="M106,-7.4L104.3,-6.5L103.4,-5.6L102.7,-4.5L102.4,-3.3L102.5,-1.4L103,-0.2L104.3,1.2L105.4,1.9L127.8,8L140.5,7L147.7,10.6L152.5,19.3L153.4,20.4L154.5,21.3L156.4,21.9L158.5,21.8L160.3,20.9L161.3,19.9L162,18.7L162.4,16.7L162.2,15.3L157.9,3.5L156.5,1.5L154.5,0.2L153,-0.2L141.8,-1.9L129.2,-3.1L117.7,-4.7L108.5,-7.4L107.3,-7.5Z" fill="#fff" fill-opacity="0.59"/><ellipse cx="115.5" cy="1" rx="9.5" ry="4.2" transform="rotate(8 115.5 1)" fill="#fff" fill-opacity="0.90"/><ellipse cx="153" cy="7" rx="3.6" ry="2.6" transform="rotate(20 153 7)" fill="#fff" fill-opacity="0.78"/><ellipse cx="158.5" cy="21" rx="5" ry="5" fill="#fff" fill-opacity="1.00"/><path d="M118.1,-66.1L116.8,-65.6L116.1,-64.8L115.8,-63.8L116,-62.5L122.9,-54.9L131.7,-46.7L133,-46.2L133.8,-46.2L134.7,-46.5L135.8,-47.2L136.5,-48.3L136.8,-49.6L136.5,-50.9L135.8,-52L127.8,-60.4L119.7,-65.8Z" fill="#fff" fill-opacity="0.57"/><ellipse cx="130" cy="-51" rx="3" ry="4.5" transform="rotate(-35 130 -51)" fill="#fff" fill-opacity="0.82"/><path d="M149,-48.6L147.7,-48.1L146.6,-47.2L146,-45.9L145.9,-44.5L146.4,-43.2L150.4,-37.7L156.4,-32.7L157.4,-32.1L159.5,-31.8L161.6,-32.7L162.6,-33.9L163.2,-35.5L163.1,-37.1L162.3,-38.6L156.8,-44.1L151.3,-48.1L150.4,-48.5Z" fill="#fff" fill-opacity="1.00"/><path d="M56.3,33L55.2,33.4L54.2,34.2L53.7,35.3L53.6,36.5L54,37.6L57.6,43.9L58.5,44.8L64.5,49.4L65.5,49.7L66.5,49.4L67.1,48.9L67.4,48.2L67.5,47.4L67.2,46.7L59.2,34.2L57.9,33.2Z" fill="#fff" fill-opacity="0.51"/><path d="M80.4,50.6L70.1,54.1L61.7,59.9L61.1,61.2L61.4,62.6L62.5,63.5L63.6,63.7L73.6,61.1L87.4,53.1L88,52.3L87.8,51.4L87,50.7Z" fill="#fff" fill-opacity="0.49"/><path d="M109.4,44.4L108.1,44.9L107.4,45.7L104.8,53.6L103.4,60.8L103.7,61.7L104.5,62.2L105.5,62.2L106.2,61.5L109.3,55.1L112.2,47.7L112.2,46.3L111.5,45.2L110.4,44.5Z" fill="#fff" fill-opacity="0.34"/><ellipse cx="136.2" cy="35.8" rx="5.6" ry="2.3" transform="rotate(-10 136.2 35.8)" fill="#fff" fill-opacity="0.25"/><ellipse cx="69" cy="-53" rx="2.8" ry="1.7" transform="rotate(20 69 -53)" fill="#fff" fill-opacity="0.16"/></g>
</g>
<use href="#coast" stroke="#5c5c5c" stroke-width="0.6" fill="none"/>
</g>
<use href="#sides" stroke="#1a1a1a" stroke-width="0.65" fill="none"/>
</g>
<g transform="translate(172.6 297.5)">
<g clip-path="url(#clipmap)">
<g filter="url(#fb)">
<rect x="-175" y="-92" width="350" height="184" fill="rgb(0,0,0)"/>
<g filter="url(#stb)"><path d="M-148.3,-48.6L-149.7,-48.3L-150.9,-47.6L-154.4,-44.5L-156.3,-41.7L-157.8,-42.4L-159.5,-42.6L-161.9,-42.1L-164,-40.7L-165.4,-38.6L-165.9,-37L-165.9,-35.3L-165.1,-32.9L-164,-31.6L-159.7,-27.6L-157.8,-26.4L-156.4,-26L-154.8,-26L-153.4,-26.4L-152,-27.1L-144.6,-34.8L-143.1,-37L-142.7,-38.7L-142.3,-43.3L-142.7,-45.4L-143.4,-46.6L-145,-48L-146.9,-48.6Z" fill="#fff" fill-opacity="0.18"/><path d="M-148.6,-50.6L-150.4,-50.1L-152.1,-49.2L-155.8,-45.9L-157.1,-44.2L-158.4,-44.5L-160.6,-44.5L-163.7,-43.4L-166.2,-41.3L-167.3,-39.4L-167.9,-37.2L-167.9,-35L-166.8,-31.9L-165.5,-30.2L-161.1,-26.2L-158.6,-24.5L-156.6,-24L-154.6,-24L-152.6,-24.5L-150.8,-25.6L-143.2,-33.4L-141.8,-35.2L-141.3,-36.2L-140.7,-38.5L-140.3,-43.3L-140.5,-45.2L-141.3,-47L-142.4,-48.5L-144,-49.7L-146.7,-50.6Z" fill="#fff" fill-opacity="0.34"/><path d="M-142.6,-18.1L-145.1,-17.3L-146.5,-16.2L-147.6,-14.8L-148.5,-12.3L-148.3,-9.6L-147.6,-8L-146.5,-6.5L-145.1,-5.5L-135.7,-2.1L-126.6,-1.4L-125.1,-1.6L-123.7,-2.2L-120.8,-4.3L-119.8,-5.5L-119.4,-6.9L-119.5,-8.4L-120.1,-9.8L-121.3,-10.8L-131.1,-15.6L-139.9,-18Z" fill="#fff" fill-opacity="0.18"/><path d="M-142.9,-20.1L-145.1,-19.5L-146.1,-19L-147.9,-17.6L-149.3,-15.8L-150.2,-13.7L-150.4,-12.5L-150.4,-10.2L-149.8,-8L-148.7,-6L-147.9,-5.1L-146.1,-3.7L-136.2,-0.1L-126.6,0.6L-124.6,0.3L-122.7,-0.4L-119.6,-2.7L-118.1,-4.5L-117.4,-6.6L-117.5,-8.9L-118.5,-11L-120.3,-12.5L-123.7,-14.3L-131.5,-17.8L-139.4,-19.9L-140.5,-20.1Z" fill="#fff" fill-opacity="0.34"/><path d="M-166.1,16L-167.2,16.5L-168.2,17.3L-169.2,18.8L-169.5,20L-169.5,21.2L-169,23L-167.7,24.3L-155.2,33.7L-146.4,37.3L-144.8,37.7L-136.7,38.1L-134.9,37.5L-133.8,36.7L-133,35.7L-132.4,33.9L-132.6,31.9L-133.4,30.2L-134.9,28.9L-142.3,25.4L-150.4,23.8L-162.5,16.5L-164.2,15.9Z" fill="#fff" fill-opacity="0.18"/><path d="M-166.6,14.1L-168.2,14.8L-169.6,15.9L-171.1,18L-171.6,20.6L-171.1,23.2L-170.2,24.7L-169,25.9L-156.2,35.5L-146.1,39.5L-137.4,40.2L-135.5,39.9L-133.9,39.2L-132.4,38.1L-131.3,36.7L-130.4,34.1L-130.6,31.4L-131.8,29L-133.9,27.2L-141.8,23.4L-149.7,21.9L-162.3,14.4L-164,13.9Z" fill="#fff" fill-opacity="0.34"/><path d="M-100.4,-53.3L-101.9,-52.6L-110.9,-42.3L-111.3,-40.9L-111.2,-39.4L-110.6,-38.1L-109.5,-37.1L-108.6,-36.7L-107.1,-36.6L-105.3,-37.4L-104.3,-38.5L-100.4,-44.8L-97.7,-49.7L-97.5,-50.7L-97.7,-51.7L-98.2,-52.6L-99.1,-53.2Z" fill="#fff" fill-opacity="0.18"/><path d="M-100.7,-55.3L-102.4,-54.7L-103.3,-54L-112.2,-43.9L-112.9,-42.6L-113.4,-40.4L-112.9,-38.2L-111.7,-36.3L-109.8,-35L-107.6,-34.6L-106.1,-34.8L-104.7,-35.4L-103.5,-36.3L-98.7,-43.8L-95.8,-49L-95.5,-50.1L-95.5,-51.3L-95.8,-52.5L-96.4,-53.5L-97.3,-54.4L-98.3,-55L-99.5,-55.3Z" fill="#fff" fill-opacity="0.34"/><path d="M-61.8,-43L-63.5,-42.6L-65,-41.7L-70.8,-37.3L-72.2,-35.8L-72.8,-33.8L-72.7,-31.8L-71.8,-29.9L-70.2,-28.5L-68.9,-28L-66.9,-27.9L-58.4,-30.3L-52.5,-34.1L-51.2,-35.5L-50.6,-37.4L-50.7,-39.3L-51.2,-40.5L-52.5,-42L-53.6,-42.6L-54.9,-42.9Z" fill="#fff" fill-opacity="0.18"/><path d="M-62.1,-45L-64.2,-44.4L-66.2,-43.3L-72.7,-38.3L-74.3,-35.9L-74.9,-33.1L-74.3,-30.3L-72.7,-28L-70.4,-26.4L-68.5,-25.9L-66.6,-25.9L-57.6,-28.5L-51.3,-32.5L-50,-33.8L-49.1,-35.3L-48.5,-38L-48.8,-39.8L-49.5,-41.5L-51.3,-43.5L-52.8,-44.5L-54.6,-44.9Z" fill="#fff" fill-opacity="0.34"/><path d="M-30.3,-54.9L-37.8,-52.8L-39.9,-51.4L-40.9,-50L-41.7,-47.7L-41.6,-45.2L-40.4,-42.9L-38.6,-41.2L-37,-40.6L-35.3,-40.4L-27.6,-41.3L-20.5,-43.9L-19.3,-44.8L-18.4,-46L-17.6,-48.2L-17.8,-50.5L-18.4,-51.9L-19.9,-53.6L-21.2,-54.4L-22.7,-54.8Z" fill="#fff" fill-opacity="0.18"/><path d="M-30.6,-56.8L-37.5,-55L-39.6,-54.1L-42,-52L-43.1,-50.1L-43.8,-46.8L-43.1,-43.6L-41.3,-40.9L-38.6,-39L-35.3,-38.4L-27.1,-39.4L-19.5,-42.2L-17.9,-43.4L-16.2,-46L-15.6,-49L-15.8,-51L-17.2,-53.8L-18.7,-55.2L-20.4,-56.3L-22.4,-56.8Z" fill="#fff" fill-opacity="0.34"/><path d="M-20.5,-68.2L-21.8,-68L-26.1,-66.5L-27.2,-65.8L-28.5,-64.3L-29.2,-62.5L-29,-60.5L-28.1,-58.7L-26.7,-57.4L-24.8,-56.7L-22.8,-56.9L-18,-58.7L-16.9,-59.5L-16.1,-60.5L-15.6,-61.8L-15.4,-63.1L-15.6,-64.4L-16.1,-65.7L-16.9,-66.7L-17.9,-67.5L-19.2,-68Z" fill="#fff" fill-opacity="0.10"/><path d="M-20.5,-70.2L-22.3,-70L-27.6,-67.9L-29.1,-66.8L-30.7,-64.5L-31.2,-61.8L-30.7,-59.1L-29.1,-56.8L-26.8,-55.2L-25,-54.8L-23.2,-54.8L-17.8,-56.5L-15.5,-58.1L-13.9,-60.4L-13.5,-62.2L-13.5,-64L-13.9,-65.8L-14.9,-67.4L-16.2,-68.7L-17.8,-69.7Z" fill="#fff" fill-opacity="0.20"/><path d="M-40.9,14.2L-42.8,14.8L-43.8,15.6L-44.6,16.6L-45.1,17.8L-45.3,19.1L-44.9,21L-44.2,22.2L-43.3,23.1L-36.2,28L-29.2,31.9L-27.5,32.6L-20.3,34.1L-18.3,33.7L-17.1,33L-16.1,32L-15.4,30.8L-15.1,29.5L-15.1,28.1L-15.4,26.8L-16.6,25L-21.6,20.6L-23.1,19.7L-31.4,16.3L-39,14.3Z" fill="#fff" fill-opacity="0.18"/><path d="M-41.2,12.2L-43,12.7L-45.2,14.2L-46.3,15.6L-47,17.3L-47.2,20L-46.7,21.8L-45.8,23.4L-44.5,24.7L-37.2,29.7L-30.2,33.7L-28,34.6L-21.3,36L-19.4,36L-16.7,35.1L-14.5,33.2L-13.6,31.6L-13.1,29.7L-13.1,27.8L-13.6,26L-15.2,23.6L-20.4,19L-22.4,17.9L-30.8,14.3L-38.5,12.4Z" fill="#fff" fill-opacity="0.34"/><path d="M-53.7,39.7L-55.7,40.5L-57,42.3L-57.3,43.9L-56.8,46L-53.1,51L-50,53.6L-49,54.2L-47.3,54.5L-45.1,53.9L-43.5,52.3L-42.9,50.1L-43.3,48.5L-45.2,45L-46.5,43.5L-51,40.2L-52,39.8Z" fill="#fff" fill-opacity="0.18"/><path d="M-53.9,37.7L-55.5,38.1L-56.9,39L-58.5,40.8L-59.1,42.3L-59.3,43.9L-59.1,45.5L-58.5,47L-54.5,52.4L-50.5,55.7L-49,56.3L-47.3,56.5L-45.7,56.3L-44.1,55.7L-42.3,54L-41.2,51.8L-41,49.3L-41.8,46.9L-44,43.2L-45.3,41.9L-50.7,38.1L-52.3,37.7Z" fill="#fff" fill-opacity="0.34"/><ellipse cx="1.4" cy="43.1" rx="8.7" ry="5" transform="rotate(5 1.4 43.1)" fill="#fff" fill-opacity="0.14"/><ellipse cx="1.4" cy="43.1" rx="10.7" ry="7" transform="rotate(5 1.4 43.1)" fill="#fff" fill-opacity="0.27"/><ellipse cx="-125.6" cy="-47.7" rx="6.5" ry="6" fill="#fff" fill-opacity="0.25"/><ellipse cx="-142.6" cy="13.4" rx="5" ry="4.5" fill="#fff" fill-opacity="0.20"/><ellipse cx="-106.5" cy="52.1" rx="9.5" ry="4" transform="rotate(5 -106.5 52.1)" fill="#fff" fill-opacity="0.25"/><ellipse cx="-139.4" cy="52.1" rx="6.5" ry="3.2" transform="rotate(25 -139.4 52.1)" fill="#fff" fill-opacity="0.33"/><ellipse cx="-164.3" cy="-4.4" rx="6.5" ry="2.4" fill="#fff" fill-opacity="0.25"/><ellipse cx="-78" cy="-27.7" rx="4.8" ry="3" transform="rotate(-20 -78 -27.7)" fill="#fff" fill-opacity="0.25"/><ellipse cx="-51.1" cy="29.5" rx="4" ry="4" fill="#fff" fill-opacity="0.16"/><ellipse cx="-4.5" cy="-49.5" rx="4.2" ry="5.2" fill="#fff" fill-opacity="0.31"/><path d="M-43.8,-0.7L-20,0.5L2.8,3.2" fill="none" stroke="#fff" stroke-opacity="0.08" stroke-width="4" stroke-linecap="round" stroke-linejoin="round"/><ellipse cx="-84.6" cy="-6" rx="8" ry="3.5" fill="#fff" fill-opacity="0.08"/><path d="M-75,-5L-72,4L-67,12L-64,22" fill="none" stroke="#fff" stroke-opacity="0.10" stroke-width="1.6" stroke-linecap="round" stroke-linejoin="round"/><path d="M59.1,1.1L46.6,4L38.2,9.6L36.9,11.1L36.2,13L36.4,15L37.3,16.9L38.2,17.8L39.4,18.5L40.7,18.9L42.1,18.9L50.8,16.3L72.4,11.6L79.3,12.4L85.2,13.4L86.8,13.4L89.1,12.7L90.4,11.7L91.4,10.4L92,8.9L92.1,6.5L91.4,4.2L89.8,2.4L87.6,1.3L86,1.1L80.4,1.2L72.1,-0.3Z" fill="#fff" fill-opacity="0.18"/><path d="M58.9,-0.9L45.8,2.1L37,8L35.2,10.1L34.3,12.8L34.4,15.6L35.7,18.1L37,19.4L38.6,20.4L41.4,20.9L43.3,20.7L51.3,18.2L72.5,13.6L79,14.3L84.9,15.4L87.1,15.4L89.1,14.9L91,13.8L93.1,11.4L93.9,9.4L94.1,6.2L93.1,3.2L91,0.8L88.1,-0.6L86,-0.9L80.6,-0.8L72.1,-2.3Z" fill="#fff" fill-opacity="0.34"/><path d="M105.4,-9.5L103.7,-8.8L102.2,-7.7L100.7,-5.4L100.2,-3.6L100.4,-0.8L101.1,0.9L102.2,2.4L103.7,3.5L105.4,4.2L127.5,10.2L129.5,10.2L140,9.2L146.1,12.2L151.2,21.3L153.4,23.2L155.2,23.9L157.1,24.2L160,23.6L161.7,22.6L163.6,20.4L164.5,17.7L164.3,14.8L159.4,1.7L158.1,0L156.3,-1.3L153.3,-2.4L142.1,-4.1L129.5,-5.2L118.1,-6.8L109.1,-9.5L107.3,-9.7Z" fill="#fff" fill-opacity="0.13"/><path d="M104.9,-11.4L102.7,-10.5L100.8,-9.1L99.4,-7.2L98.9,-6.1L98.3,-3.8L98.3,-1.5L98.9,0.8L99.4,1.9L100.8,3.8L102.7,5.2L104.9,6.1L127.2,12.2L129.8,12.2L139.7,11.3L144.6,13.7L149.6,22.5L151.3,24.2L152.4,24.9L154.7,25.9L155.9,26.1L158.4,26.1L160.7,25.5L161.9,24.9L163.8,23.4L165.3,21.4L166.3,19.2L166.5,17.9L166.5,15.5L166.3,14.3L161.1,0.7L159.5,-1.4L157.3,-3.1L154.8,-4.1L142.4,-6L129.8,-7.2L118.6,-8.8L108.4,-11.6L106.1,-11.6Z" fill="#fff" fill-opacity="0.25"/><path d="M117.8,-68.3L116.6,-67.9L115.5,-67.3L114.6,-66.4L114,-65.3L113.6,-64.1L113.6,-62.9L114,-61.7L114.6,-60.6L121.3,-53.3L130,-45.2L132,-44.2L133.4,-44L134.8,-44.2L136.8,-45.2L138.2,-46.8L139,-48.9L138.8,-51L137.8,-53L129.1,-62.2L120.8,-67.7L119.6,-68.1Z" fill="#fff" fill-opacity="0.13"/><path d="M117.5,-70.2L115.8,-69.8L114.3,-68.9L113,-67.6L112.1,-66.1L111.7,-64.4L111.7,-62.6L112.1,-60.9L113,-59.4L119.9,-51.9L128,-44.2L129.6,-43L131.4,-42.3L133.4,-42L135.4,-42.3L138,-43.6L140,-45.8L140.9,-48.6L140.7,-51.6L139.4,-54.2L130.3,-63.8L121.8,-69.4L119.3,-70.2Z" fill="#fff" fill-opacity="0.24"/><path d="M148.7,-50.8L147.3,-50.4L146,-49.6L144.9,-48.5L144.1,-47.2L143.7,-45.8L143.7,-44.2L144.1,-42.8L144.9,-41.5L149.2,-35.7L155.8,-30.5L158.2,-29.7L159.8,-29.7L161.4,-30.1L162.9,-30.9L164.5,-32.8L165.3,-35.2L165.2,-37.7L164.1,-39.9L158.8,-45.3L153,-49.6L151,-50.6Z" fill="#fff" fill-opacity="0.18"/><path d="M148.5,-52.7L146.5,-52.2L144.8,-51.2L143.3,-49.7L142.3,-48L141.8,-46L141.8,-44L142.7,-41.1L147.8,-34.3L154.8,-28.7L156.8,-27.9L159,-27.6L161.2,-27.9L163.2,-28.7L165.7,-30.9L167.1,-33.8L167.3,-37.1L166.3,-40.2L164.9,-41.9L160.2,-46.7L154.2,-51.2L151.5,-52.5Z" fill="#fff" fill-opacity="0.34"/><path d="M56,30.8L54.7,31.2L53.5,31.9L52.5,32.9L51.8,34.1L51.4,35.4L51.4,36.8L52.1,38.8L55.7,45L57.2,46.6L63.9,51.6L65.5,51.9L67.6,51.3L68.8,50.3L69.6,48.8L69.7,47.2L69.1,45.6L60.4,32.4L58.7,31.2L57.4,30.8Z" fill="#fff" fill-opacity="0.11"/><path d="M55.7,28.9L53.9,29.4L52.3,30.3L50.4,32.4L49.6,34.2L49.4,36.1L49.6,38L50.4,39.8L54,46L55.2,47.5L61.7,52.6L63.9,53.7L65.5,53.9L67.1,53.7L68.6,53.1L70.4,51.5L71.5,49.3L71.6,46.9L70.9,44.6L67,38.5L61.9,30.9L60.4,29.8L58.6,29Z" fill="#fff" fill-opacity="0.21"/><path d="M80.1,48.4L69.8,51.9L60.6,58L59.5,59.3L58.9,60.9L59,62.6L59.8,64.2L61.6,65.6L63.9,65.9L74.4,63.1L88.5,55L89.7,53.8L90.2,52.5L90.1,51.1L89.5,49.9L88.5,49L86.7,48.5Z" fill="#fff" fill-opacity="0.11"/><path d="M79.9,46.5L68,50.5L58.8,57L57.4,59.1L56.9,61.5L57.4,63.9L58.8,66L60.9,67.4L63.3,67.9L65,67.7L74.2,65.3L76.1,64.5L84.4,59.8L90,56.4L91.1,55.3L92,53.4L92.2,51.3L91.5,49.2L90,47.6L88.8,46.9L87.4,46.5Z" fill="#fff" fill-opacity="0.21"/><path d="M109.1,42.2L107.3,42.8L106.3,43.6L105.5,44.6L102.7,53L101.2,60.3L101.2,61.3L102,63.1L103,64L103.9,64.4L104.9,64.5L106.3,64.2L107.2,63.7L108.1,62.6L111.3,56L114.3,48.2L114.5,47L114.3,45.8L113.9,44.6L113.1,43.6L112.1,42.8L110.9,42.4Z" fill="#fff" fill-opacity="0.08"/><path d="M108.8,40.3L107.1,40.7L105.6,41.6L104.3,42.9L103.4,44.4L100.7,52.5L99.2,60.1L99.4,62.3L100.4,64.3L102,65.7L104.2,66.5L106.4,66.3L107.8,65.7L108.9,64.8L109.8,63.6L113.2,56.7L116,49.6L116.4,47.9L116.4,46.1L116,44.4L114.5,42.2L113.1,41.1L111.5,40.4Z" fill="#fff" fill-opacity="0.14"/><ellipse cx="136.7" cy="35.6" rx="7" ry="3.5" transform="rotate(-10 136.7 35.6)" fill="#fff" fill-opacity="0.12"/><ellipse cx="33.7" cy="50.9" rx="7.5" ry="4.2" transform="rotate(-10 33.7 50.9)" fill="#fff" fill-opacity="0.25"/><path d="M53.2,-63.5L74.3,-49.1" fill="none" stroke="#fff" stroke-opacity="0.08" stroke-width="3" stroke-linecap="round" stroke-linejoin="round"/><ellipse cx="145.4" cy="48.8" rx="6" ry="3" transform="rotate(-30 145.4 48.8)" fill="#fff" fill-opacity="0.12"/><ellipse cx="-121.9" cy="-48.6" rx="11.5" ry="9" fill="#fff" fill-opacity="0.14"/><ellipse cx="-88.7" cy="-10.3" rx="16.5" ry="5" fill="#fff" fill-opacity="0.14"/><ellipse cx="-121.9" cy="-1.4" rx="32" ry="5" fill="#fff" fill-opacity="0.14"/><ellipse cx="-139.8" cy="12.7" rx="19" ry="7.5" fill="#fff" fill-opacity="0.14"/><ellipse cx="-109.1" cy="20.4" rx="16" ry="4" fill="#fff" fill-opacity="0.14"/><ellipse cx="-114.2" cy="33.1" rx="15" ry="5" fill="#fff" fill-opacity="0.14"/><ellipse cx="-107.8" cy="52.3" rx="14" ry="5.5" fill="#fff" fill-opacity="0.14"/><ellipse cx="-78.5" cy="61.2" rx="16" ry="6" fill="#fff" fill-opacity="0.14"/><ellipse cx="-40.1" cy="5" rx="12.5" ry="5" fill="#fff" fill-opacity="0.14"/><ellipse cx="-35" cy="-32" rx="16" ry="5" fill="#fff" fill-opacity="0.14"/><ellipse cx="-19.7" cy="-56.3" rx="19" ry="10" fill="#fff" fill-opacity="0.14"/><ellipse cx="-58" cy="17.8" rx="7.5" ry="10" fill="#fff" fill-opacity="0.14"/><ellipse cx="-81" cy="-25.6" rx="9" ry="6" fill="#fff" fill-opacity="0.14"/><ellipse cx="-22.3" cy="35.7" rx="12.5" ry="5" fill="#fff" fill-opacity="0.14"/><ellipse cx="-19.7" cy="56.1" rx="10" ry="4" fill="#fff" fill-opacity="0.14"/><ellipse cx="-157.7" cy="-5.2" rx="8" ry="4" fill="#fff" fill-opacity="0.14"/><ellipse cx="17.5" cy="-56.3" rx="25" ry="12" fill="#fff" fill-opacity="0.14"/><ellipse cx="63.5" cy="-56.3" rx="8" ry="5" fill="#fff" fill-opacity="0.14"/><ellipse cx="58.4" cy="-5.2" rx="11.5" ry="7.5" fill="#fff" fill-opacity="0.14"/><ellipse cx="78.9" cy="-12.9" rx="6" ry="6" fill="#fff" fill-opacity="0.14"/><ellipse cx="135" cy="-38.4" rx="12.5" ry="6" fill="#fff" fill-opacity="0.14"/><ellipse cx="27.8" cy="53.6" rx="14" ry="5" fill="#fff" fill-opacity="0.14"/><ellipse cx="68.6" cy="61.2" rx="25" ry="6" fill="#fff" fill-opacity="0.14"/><ellipse cx="107" cy="56.1" rx="15" ry="10" fill="#fff" fill-opacity="0.14"/><ellipse cx="142.7" cy="33.1" rx="11" ry="6" fill="#fff" fill-opacity="0.14"/><ellipse cx="130" cy="63.8" rx="12" ry="4" fill="#fff" fill-opacity="0.14"/><ellipse cx="22.7" cy="7.6" rx="5" ry="5" fill="#fff" fill-opacity="0.14"/><ellipse cx="2.2" cy="5" rx="4" ry="2" fill="#fff" fill-opacity="0.14"/><ellipse cx="53.3" cy="33.1" rx="8" ry="10" fill="#fff" fill-opacity="0.14"/><ellipse cx="128" cy="-12" rx="14" ry="8" fill="#fff" fill-opacity="0.14"/><ellipse cx="-60" cy="-40" rx="14" ry="6" fill="#fff" fill-opacity="0.14"/><ellipse cx="-140" cy="-25" rx="14" ry="6" fill="#fff" fill-opacity="0.14"/><ellipse cx="-150" cy="45" rx="12" ry="5" fill="#fff" fill-opacity="0.14"/><ellipse cx="90" cy="20" rx="14" ry="5" fill="#fff" fill-opacity="0.14"/><ellipse cx="-130" cy="-40" rx="40" ry="18" fill="#fff" fill-opacity="0.09"/><ellipse cx="-140" cy="0" rx="35" ry="14" fill="#fff" fill-opacity="0.09"/><ellipse cx="-120" cy="40" rx="50" ry="16" fill="#fff" fill-opacity="0.09"/><ellipse cx="-35" cy="-42" rx="35" ry="16" fill="#fff" fill-opacity="0.09"/><ellipse cx="-30" cy="2" rx="25" ry="8" fill="#fff" fill-opacity="0.09"/><ellipse cx="-10" cy="45" rx="40" ry="12" fill="#fff" fill-opacity="0.09"/><ellipse cx="-58" cy="8" rx="12" ry="12" fill="#fff" fill-opacity="0.09"/><ellipse cx="30" cy="-55" rx="40" ry="10" fill="#fff" fill-opacity="0.09"/><ellipse cx="70" cy="10" rx="35" ry="18" fill="#fff" fill-opacity="0.09"/><ellipse cx="70" cy="50" rx="50" ry="12" fill="#fff" fill-opacity="0.09"/><ellipse cx="135" cy="0" rx="30" ry="25" fill="#fff" fill-opacity="0.09"/><ellipse cx="140" cy="-40" rx="22" ry="15" fill="#fff" fill-opacity="0.09"/><ellipse cx="140" cy="45" rx="25" ry="14" fill="#fff" fill-opacity="0.09"/><ellipse cx="105" cy="-30" rx="15" ry="10" fill="#fff" fill-opacity="0.09"/><ellipse cx="20" cy="5" rx="10" ry="8" fill="#fff" fill-opacity="0.09"/><ellipse cx="-150" cy="20" rx="20" ry="10" fill="#fff" fill-opacity="0.09"/><ellipse cx="-90" cy="55" rx="30" ry="8" fill="#fff" fill-opacity="0.09"/></g>
<g filter="url(#b2)"><path d="M-148,-46.5L-149.6,-45.8L-152.8,-43L-155.8,-38.3L-157.4,-39.8L-159.5,-40.4L-161.6,-39.8L-163.2,-38.3L-163.7,-36.1L-163.2,-34L-162.5,-33.1L-157.4,-28.6L-155.6,-28.1L-154.6,-28.3L-153.4,-28.9L-145.4,-37.3L-144.9,-39L-144.6,-44.2L-145.1,-45.3L-145.7,-45.8L-146.8,-46.4Z" fill="#fff" fill-opacity="1.00"/><path d="M-142.3,-16L-143.5,-15.6L-145,-14.6L-146,-13.1L-146.3,-12L-146.2,-10.2L-145.7,-9.1L-145,-8.1L-143.5,-7.1L-135.2,-4.2L-126.6,-3.6L-124.8,-4.1L-122.2,-6.1L-121.7,-6.8L-121.7,-8.1L-122.4,-8.9L-132,-13.6L-140.5,-15.8Z" fill="#fff" fill-opacity="1.00"/><path d="M-165.5,18.2L-166.6,18.8L-167.2,19.6L-167.4,20.9L-166.9,22.1L-154.1,31.8L-144.5,35.5L-137,36L-136,35.6L-135,34.6L-134.6,33.6L-134.7,32.5L-135.2,31.5L-136,30.8L-142.9,27.5L-151.2,25.9L-163.6,18.4L-164.5,18.1Z" fill="#fff" fill-opacity="1.00"/><path d="M-100.2,-51.5L-100.7,-51.3L-104.2,-47.4L-109.3,-41.4L-109.6,-40.6L-109.5,-39.9L-109.2,-39.2L-108.6,-38.7L-107.9,-38.4L-107.1,-38.5L-106.4,-38.8L-105.9,-39.4L-102,-45.7L-99.3,-50.4L-99.4,-51.2Z" fill="#fff" fill-opacity="0.86"/><ellipse cx="-105.3" cy="-42.8" rx="4.4" ry="2.7" transform="rotate(-52 -105.3 -42.8)" fill="#fff" fill-opacity="1.00"/><path d="M-61.5,-40.9L-62.6,-40.6L-63.6,-40L-70,-35L-70.6,-33.9L-70.6,-32.7L-70.3,-31.6L-69.5,-30.7L-68.4,-30.1L-67.2,-30.1L-59.2,-32.3L-53.8,-35.8L-52.9,-37L-52.7,-38L-52.9,-39.1L-53.5,-40L-54.4,-40.6L-55.5,-40.8Z" fill="#fff" fill-opacity="1.00"/><path d="M-30,-52.7L-37,-50.7L-38.3,-49.8L-39.3,-48.4L-39.6,-46.8L-39.3,-45.2L-38.3,-43.8L-37,-42.9L-35.3,-42.6L-28.8,-43.3L-22.1,-45.6L-20.9,-46.4L-20.3,-47.1L-19.8,-48.5L-19.9,-49.9L-20.5,-51.2L-21.6,-52.2L-23.5,-52.7Z" fill="#fff" fill-opacity="1.00"/><path d="M-20.5,-66L-25.2,-64.5L-26.4,-63.6L-26.9,-62.6L-27,-61.4L-26.6,-60.4L-25.9,-59.5L-24.5,-58.9L-23.3,-59L-19.4,-60.4L-18.2,-61.3L-17.6,-62.7L-17.8,-64.2L-19.1,-65.6Z" fill="#fff" fill-opacity="0.48"/><path d="M-40.7,16.4L-42,16.9L-42.9,18.1L-43,19.5L-42.7,20.5L-42,21.3L-35.1,26.1L-27,30.5L-20.3,31.9L-18.8,31.5L-17.6,30.3L-17.3,29.6L-17.2,28.4L-17.9,26.9L-23.4,22L-31.9,18.4L-39.6,16.5Z" fill="#fff" fill-opacity="1.00"/><path d="M-53.4,41.9L-54.1,42.1L-54.7,42.7L-55.1,43.4L-55.1,44.4L-51.8,49.2L-48.2,52.2L-47,52.3L-46,51.9L-45.2,50.7L-45.2,49.6L-47.3,45.8L-52.1,42.1Z" fill="#fff" fill-opacity="0.90"/><ellipse cx="1.4" cy="43.1" rx="6.5" ry="2.8" transform="rotate(5 1.4 43.1)" fill="#fff" fill-opacity="0.64"/><ellipse cx="-51.1" cy="29.5" rx="2.3" ry="2.3" fill="#fff" fill-opacity="0.33"/><path d="M59.4,3.2L48,5.8L47,6.3L39.3,11.6L38.8,12.2L38.4,13.3L38.5,14.5L38.8,15.2L39.9,16.3L41,16.7L41.8,16.7L50.2,14.2L72.3,9.3L79.6,10.2L85.5,11.3L86.5,11.3L88,10.8L88.8,10.1L89.7,8.8L90,7.8L89.9,6.3L89.2,4.9L88,3.8L86.5,3.3L80.3,3.4L72.1,1.9Z" fill="#fff" fill-opacity="1.00"/><ellipse cx="43.6" cy="20.3" rx="1.6" ry="2.2" fill="#fff" fill-opacity="0.49"/><path d="M106,-7.4L104.3,-6.5L103.4,-5.6L102.7,-4.5L102.4,-3.3L102.5,-1.4L103,-0.2L104.3,1.2L105.4,1.9L127.8,8L140.5,7L147.7,10.6L152.5,19.3L153.4,20.4L154.5,21.3L156.4,21.9L158.5,21.8L160.3,20.9L161.3,19.9L162,18.7L162.4,16.7L162.2,15.3L157.9,3.5L156.5,1.5L154.5,0.2L153,-0.2L141.8,-1.9L129.2,-3.1L117.7,-4.7L108.5,-7.4L107.3,-7.5Z" fill="#fff" fill-opacity="0.59"/><ellipse cx="115.5" cy="1" rx="9.5" ry="4.2" transform="rotate(8 115.5 1)" fill="#fff" fill-opacity="0.90"/><ellipse cx="153" cy="7" rx="3.6" ry="2.6" transform="rotate(20 153 7)" fill="#fff" fill-opacity="0.78"/><ellipse cx="158.5" cy="21" rx="5" ry="5" fill="#fff" fill-opacity="1.00"/><path d="M118.1,-66.1L116.8,-65.6L116.1,-64.8L115.8,-63.8L116,-62.5L122.9,-54.9L131.7,-46.7L133,-46.2L133.8,-46.2L134.7,-46.5L135.8,-47.2L136.5,-48.3L136.8,-49.6L136.5,-50.9L135.8,-52L127.8,-60.4L119.7,-65.8Z" fill="#fff" fill-opacity="0.57"/><ellipse cx="130" cy="-51" rx="3" ry="4.5" transform="rotate(-35 130 -51)" fill="#fff" fill-opacity="0.82"/><path d="M149,-48.6L147.7,-48.1L146.6,-47.2L146,-45.9L145.9,-44.5L146.4,-43.2L150.4,-37.7L156.4,-32.7L157.4,-32.1L159.5,-31.8L161.6,-32.7L162.6,-33.9L163.2,-35.5L163.1,-37.1L162.3,-38.6L156.8,-44.1L151.3,-48.1L150.4,-48.5Z" fill="#fff" fill-opacity="1.00"/><path d="M56.3,33L55.2,33.4L54.2,34.2L53.7,35.3L53.6,36.5L54,37.6L57.6,43.9L58.5,44.8L64.5,49.4L65.5,49.7L66.5,49.4L67.1,48.9L67.4,48.2L67.5,47.4L67.2,46.7L59.2,34.2L57.9,33.2Z" fill="#fff" fill-opacity="0.51"/><path d="M80.4,50.6L70.1,54.1L61.7,59.9L61.1,61.2L61.4,62.6L62.5,63.5L63.6,63.7L73.6,61.1L87.4,53.1L88,52.3L87.8,51.4L87,50.7Z" fill="#fff" fill-opacity="0.49"/><path d="M109.4,44.4L108.1,44.9L107.4,45.7L104.8,53.6L103.4,60.8L103.7,61.7L104.5,62.2L105.5,62.2L106.2,61.5L109.3,55.1L112.2,47.7L112.2,46.3L111.5,45.2L110.4,44.5Z" fill="#fff" fill-opacity="0.34"/><ellipse cx="136.2" cy="35.8" rx="5.6" ry="2.3" transform="rotate(-10 136.2 35.8)" fill="#fff" fill-opacity="0.25"/><ellipse cx="69" cy="-53" rx="2.8" ry="1.7" transform="rotate(20 69 -53)" fill="#fff" fill-opacity="0.16"/></g>
</g>
<use href="#coast" stroke="#606060" stroke-width="0.6" fill="none"/>
</g>
<use href="#sides" stroke="#1a1a1a" stroke-width="0.65" fill="none"/>
</g>
<g transform="translate(512.7 297.5)">
<g clip-path="url(#clipmap)">
<g filter="url(#fc)">
<rect x="-175" y="-92" width="350" height="184" fill="rgb(0,0,0)"/>
<g filter="url(#stc)"><path d="M-148.3,-48.6L-149.7,-48.3L-150.9,-47.6L-154.4,-44.5L-156.3,-41.7L-157.8,-42.4L-159.5,-42.6L-161.9,-42.1L-164,-40.7L-165.4,-38.6L-165.9,-37L-165.9,-35.3L-165.1,-32.9L-164,-31.6L-159.7,-27.6L-157.8,-26.4L-156.4,-26L-154.8,-26L-153.4,-26.4L-152,-27.1L-144.6,-34.8L-143.1,-37L-142.7,-38.7L-142.3,-43.3L-142.7,-45.4L-143.4,-46.6L-145,-48L-146.9,-48.6Z" fill="#fff" fill-opacity="0.18"/><path d="M-148.6,-50.6L-150.4,-50.1L-152.1,-49.2L-155.8,-45.9L-157.1,-44.2L-158.4,-44.5L-160.6,-44.5L-163.7,-43.4L-166.2,-41.3L-167.3,-39.4L-167.9,-37.2L-167.9,-35L-166.8,-31.9L-165.5,-30.2L-161.1,-26.2L-158.6,-24.5L-156.6,-24L-154.6,-24L-152.6,-24.5L-150.8,-25.6L-143.2,-33.4L-141.8,-35.2L-141.3,-36.2L-140.7,-38.5L-140.3,-43.3L-140.5,-45.2L-141.3,-47L-142.4,-48.5L-144,-49.7L-146.7,-50.6Z" fill="#fff" fill-opacity="0.34"/><path d="M-142.6,-18.1L-145.1,-17.3L-146.5,-16.2L-147.6,-14.8L-148.5,-12.3L-148.3,-9.6L-147.6,-8L-146.5,-6.5L-145.1,-5.5L-135.7,-2.1L-126.6,-1.4L-125.1,-1.6L-123.7,-2.2L-120.8,-4.3L-119.8,-5.5L-119.4,-6.9L-119.5,-8.4L-120.1,-9.8L-121.3,-10.8L-131.1,-15.6L-139.9,-18Z" fill="#fff" fill-opacity="0.18"/><path d="M-142.9,-20.1L-145.1,-19.5L-146.1,-19L-147.9,-17.6L-149.3,-15.8L-150.2,-13.7L-150.4,-12.5L-150.4,-10.2L-149.8,-8L-148.7,-6L-147.9,-5.1L-146.1,-3.7L-136.2,-0.1L-126.6,0.6L-124.6,0.3L-122.7,-0.4L-119.6,-2.7L-118.1,-4.5L-117.4,-6.6L-117.5,-8.9L-118.5,-11L-120.3,-12.5L-123.7,-14.3L-131.5,-17.8L-139.4,-19.9L-140.5,-20.1Z" fill="#fff" fill-opacity="0.34"/><path d="M-166.1,16L-167.2,16.5L-168.2,17.3L-169.2,18.8L-169.5,20L-169.5,21.2L-169,23L-167.7,24.3L-155.2,33.7L-146.4,37.3L-144.8,37.7L-136.7,38.1L-134.9,37.5L-133.8,36.7L-133,35.7L-132.4,33.9L-132.6,31.9L-133.4,30.2L-134.9,28.9L-142.3,25.4L-150.4,23.8L-162.5,16.5L-164.2,15.9Z" fill="#fff" fill-opacity="0.18"/><path d="M-166.6,14.1L-168.2,14.8L-169.6,15.9L-171.1,18L-171.6,20.6L-171.1,23.2L-170.2,24.7L-169,25.9L-156.2,35.5L-146.1,39.5L-137.4,40.2L-135.5,39.9L-133.9,39.2L-132.4,38.1L-131.3,36.7L-130.4,34.1L-130.6,31.4L-131.8,29L-133.9,27.2L-141.8,23.4L-149.7,21.9L-162.3,14.4L-164,13.9Z" fill="#fff" fill-opacity="0.34"/><path d="M-100.4,-53.3L-101.9,-52.6L-110.9,-42.3L-111.3,-40.9L-111.2,-39.4L-110.6,-38.1L-109.5,-37.1L-108.6,-36.7L-107.1,-36.6L-105.3,-37.4L-104.3,-38.5L-100.4,-44.8L-97.7,-49.7L-97.5,-50.7L-97.7,-51.7L-98.2,-52.6L-99.1,-53.2Z" fill="#fff" fill-opacity="0.18"/><path d="M-100.7,-55.3L-102.4,-54.7L-103.3,-54L-112.2,-43.9L-112.9,-42.6L-113.4,-40.4L-112.9,-38.2L-111.7,-36.3L-109.8,-35L-107.6,-34.6L-106.1,-34.8L-104.7,-35.4L-103.5,-36.3L-98.7,-43.8L-95.8,-49L-95.5,-50.1L-95.5,-51.3L-95.8,-52.5L-96.4,-53.5L-97.3,-54.4L-98.3,-55L-99.5,-55.3Z" fill="#fff" fill-opacity="0.34"/><path d="M-61.8,-43L-63.5,-42.6L-65,-41.7L-70.8,-37.3L-72.2,-35.8L-72.8,-33.8L-72.7,-31.8L-71.8,-29.9L-70.2,-28.5L-68.9,-28L-66.9,-27.9L-58.4,-30.3L-52.5,-34.1L-51.2,-35.5L-50.6,-37.4L-50.7,-39.3L-51.2,-40.5L-52.5,-42L-53.6,-42.6L-54.9,-42.9Z" fill="#fff" fill-opacity="0.18"/><path d="M-62.1,-45L-64.2,-44.4L-66.2,-43.3L-72.7,-38.3L-74.3,-35.9L-74.9,-33.1L-74.3,-30.3L-72.7,-28L-70.4,-26.4L-68.5,-25.9L-66.6,-25.9L-57.6,-28.5L-51.3,-32.5L-50,-33.8L-49.1,-35.3L-48.5,-38L-48.8,-39.8L-49.5,-41.5L-51.3,-43.5L-52.8,-44.5L-54.6,-44.9Z" fill="#fff" fill-opacity="0.34"/><path d="M-30.3,-54.9L-37.8,-52.8L-39.9,-51.4L-40.9,-50L-41.7,-47.7L-41.6,-45.2L-40.4,-42.9L-38.6,-41.2L-37,-40.6L-35.3,-40.4L-27.6,-41.3L-20.5,-43.9L-19.3,-44.8L-18.4,-46L-17.6,-48.2L-17.8,-50.5L-18.4,-51.9L-19.9,-53.6L-21.2,-54.4L-22.7,-54.8Z" fill="#fff" fill-opacity="0.18"/><path d="M-30.6,-56.8L-37.5,-55L-39.6,-54.1L-42,-52L-43.1,-50.1L-43.8,-46.8L-43.1,-43.6L-41.3,-40.9L-38.6,-39L-35.3,-38.4L-27.1,-39.4L-19.5,-42.2L-17.9,-43.4L-16.2,-46L-15.6,-49L-15.8,-51L-17.2,-53.8L-18.7,-55.2L-20.4,-56.3L-22.4,-56.8Z" fill="#fff" fill-opacity="0.34"/><path d="M-20.5,-68.2L-21.8,-68L-26.1,-66.5L-27.2,-65.8L-28.5,-64.3L-29.2,-62.5L-29,-60.5L-28.1,-58.7L-26.7,-57.4L-24.8,-56.7L-22.8,-56.9L-18,-58.7L-16.9,-59.5L-16.1,-60.5L-15.6,-61.8L-15.4,-63.1L-15.6,-64.4L-16.1,-65.7L-16.9,-66.7L-17.9,-67.5L-19.2,-68Z" fill="#fff" fill-opacity="0.10"/><path d="M-20.5,-70.2L-22.3,-70L-27.6,-67.9L-29.1,-66.8L-30.7,-64.5L-31.2,-61.8L-30.7,-59.1L-29.1,-56.8L-26.8,-55.2L-25,-54.8L-23.2,-54.8L-17.8,-56.5L-15.5,-58.1L-13.9,-60.4L-13.5,-62.2L-13.5,-64L-13.9,-65.8L-14.9,-67.4L-16.2,-68.7L-17.8,-69.7Z" fill="#fff" fill-opacity="0.20"/><path d="M-40.9,14.2L-42.8,14.8L-43.8,15.6L-44.6,16.6L-45.1,17.8L-45.3,19.1L-44.9,21L-44.2,22.2L-43.3,23.1L-36.2,28L-29.2,31.9L-27.5,32.6L-20.3,34.1L-18.3,33.7L-17.1,33L-16.1,32L-15.4,30.8L-15.1,29.5L-15.1,28.1L-15.4,26.8L-16.6,25L-21.6,20.6L-23.1,19.7L-31.4,16.3L-39,14.3Z" fill="#fff" fill-opacity="0.18"/><path d="M-41.2,12.2L-43,12.7L-45.2,14.2L-46.3,15.6L-47,17.3L-47.2,20L-46.7,21.8L-45.8,23.4L-44.5,24.7L-37.2,29.7L-30.2,33.7L-28,34.6L-21.3,36L-19.4,36L-16.7,35.1L-14.5,33.2L-13.6,31.6L-13.1,29.7L-13.1,27.8L-13.6,26L-15.2,23.6L-20.4,19L-22.4,17.9L-30.8,14.3L-38.5,12.4Z" fill="#fff" fill-opacity="0.34"/><path d="M-53.7,39.7L-55.7,40.5L-57,42.3L-57.3,43.9L-56.8,46L-53.1,51L-50,53.6L-49,54.2L-47.3,54.5L-45.1,53.9L-43.5,52.3L-42.9,50.1L-43.3,48.5L-45.2,45L-46.5,43.5L-51,40.2L-52,39.8Z" fill="#fff" fill-opacity="0.18"/><path d="M-53.9,37.7L-55.5,38.1L-56.9,39L-58.5,40.8L-59.1,42.3L-59.3,43.9L-59.1,45.5L-58.5,47L-54.5,52.4L-50.5,55.7L-49,56.3L-47.3,56.5L-45.7,56.3L-44.1,55.7L-42.3,54L-41.2,51.8L-41,49.3L-41.8,46.9L-44,43.2L-45.3,41.9L-50.7,38.1L-52.3,37.7Z" fill="#fff" fill-opacity="0.34"/><ellipse cx="1.4" cy="43.1" rx="8.7" ry="5" transform="rotate(5 1.4 43.1)" fill="#fff" fill-opacity="0.14"/><ellipse cx="1.4" cy="43.1" rx="10.7" ry="7" transform="rotate(5 1.4 43.1)" fill="#fff" fill-opacity="0.27"/><ellipse cx="-125.6" cy="-47.7" rx="6.5" ry="6" fill="#fff" fill-opacity="0.25"/><ellipse cx="-142.6" cy="13.4" rx="5" ry="4.5" fill="#fff" fill-opacity="0.20"/><ellipse cx="-106.5" cy="52.1" rx="9.5" ry="4" transform="rotate(5 -106.5 52.1)" fill="#fff" fill-opacity="0.25"/><ellipse cx="-139.4" cy="52.1" rx="6.5" ry="3.2" transform="rotate(25 -139.4 52.1)" fill="#fff" fill-opacity="0.33"/><ellipse cx="-164.3" cy="-4.4" rx="6.5" ry="2.4" fill="#fff" fill-opacity="0.25"/><ellipse cx="-78" cy="-27.7" rx="4.8" ry="3" transform="rotate(-20 -78 -27.7)" fill="#fff" fill-opacity="0.25"/><ellipse cx="-51.1" cy="29.5" rx="4" ry="4" fill="#fff" fill-opacity="0.16"/><ellipse cx="-4.5" cy="-49.5" rx="4.2" ry="5.2" fill="#fff" fill-opacity="0.31"/><path d="M-43.8,-0.7L-20,0.5L2.8,3.2" fill="none" stroke="#fff" stroke-opacity="0.08" stroke-width="4" stroke-linecap="round" stroke-linejoin="round"/><ellipse cx="-84.6" cy="-6" rx="8" ry="3.5" fill="#fff" fill-opacity="0.08"/><path d="M-75,-5L-72,4L-67,12L-64,22" fill="none" stroke="#fff" stroke-opacity="0.10" stroke-width="1.6" stroke-linecap="round" stroke-linejoin="round"/><path d="M59.1,1.1L46.6,4L38.2,9.6L36.9,11.1L36.2,13L36.4,15L37.3,16.9L38.2,17.8L39.4,18.5L40.7,18.9L42.1,18.9L50.8,16.3L72.4,11.6L79.3,12.4L85.2,13.4L86.8,13.4L89.1,12.7L90.4,11.7L91.4,10.4L92,8.9L92.1,6.5L91.4,4.2L89.8,2.4L87.6,1.3L86,1.1L80.4,1.2L72.1,-0.3Z" fill="#fff" fill-opacity="0.18"/><path d="M58.9,-0.9L45.8,2.1L37,8L35.2,10.1L34.3,12.8L34.4,15.6L35.7,18.1L37,19.4L38.6,20.4L41.4,20.9L43.3,20.7L51.3,18.2L72.5,13.6L79,14.3L84.9,15.4L87.1,15.4L89.1,14.9L91,13.8L93.1,11.4L93.9,9.4L94.1,6.2L93.1,3.2L91,0.8L88.1,-0.6L86,-0.9L80.6,-0.8L72.1,-2.3Z" fill="#fff" fill-opacity="0.34"/><path d="M105.4,-9.5L103.7,-8.8L102.2,-7.7L100.7,-5.4L100.2,-3.6L100.4,-0.8L101.1,0.9L102.2,2.4L103.7,3.5L105.4,4.2L127.5,10.2L129.5,10.2L140,9.2L146.1,12.2L151.2,21.3L153.4,23.2L155.2,23.9L157.1,24.2L160,23.6L161.7,22.6L163.6,20.4L164.5,17.7L164.3,14.8L159.4,1.7L158.1,0L156.3,-1.3L153.3,-2.4L142.1,-4.1L129.5,-5.2L118.1,-6.8L109.1,-9.5L107.3,-9.7Z" fill="#fff" fill-opacity="0.13"/><path d="M104.9,-11.4L102.7,-10.5L100.8,-9.1L99.4,-7.2L98.9,-6.1L98.3,-3.8L98.3,-1.5L98.9,0.8L99.4,1.9L100.8,3.8L102.7,5.2L104.9,6.1L127.2,12.2L129.8,12.2L139.7,11.3L144.6,13.7L149.6,22.5L151.3,24.2L152.4,24.9L154.7,25.9L155.9,26.1L158.4,26.1L160.7,25.5L161.9,24.9L163.8,23.4L165.3,21.4L166.3,19.2L166.5,17.9L166.5,15.5L166.3,14.3L161.1,0.7L159.5,-1.4L157.3,-3.1L154.8,-4.1L142.4,-6L129.8,-7.2L118.6,-8.8L108.4,-11.6L106.1,-11.6Z" fill="#fff" fill-opacity="0.25"/><path d="M117.8,-68.3L116.6,-67.9L115.5,-67.3L114.6,-66.4L114,-65.3L113.6,-64.1L113.6,-62.9L114,-61.7L114.6,-60.6L121.3,-53.3L130,-45.2L132,-44.2L133.4,-44L134.8,-44.2L136.8,-45.2L138.2,-46.8L139,-48.9L138.8,-51L137.8,-53L129.1,-62.2L120.8,-67.7L119.6,-68.1Z" fill="#fff" fill-opacity="0.13"/><path d="M117.5,-70.2L115.8,-69.8L114.3,-68.9L113,-67.6L112.1,-66.1L111.7,-64.4L111.7,-62.6L112.1,-60.9L113,-59.4L119.9,-51.9L128,-44.2L129.6,-43L131.4,-42.3L133.4,-42L135.4,-42.3L138,-43.6L140,-45.8L140.9,-48.6L140.7,-51.6L139.4,-54.2L130.3,-63.8L121.8,-69.4L119.3,-70.2Z" fill="#fff" fill-opacity="0.24"/><path d="M148.7,-50.8L147.3,-50.4L146,-49.6L144.9,-48.5L144.1,-47.2L143.7,-45.8L143.7,-44.2L144.1,-42.8L144.9,-41.5L149.2,-35.7L155.8,-30.5L158.2,-29.7L159.8,-29.7L161.4,-30.1L162.9,-30.9L164.5,-32.8L165.3,-35.2L165.2,-37.7L164.1,-39.9L158.8,-45.3L153,-49.6L151,-50.6Z" fill="#fff" fill-opacity="0.18"/><path d="M148.5,-52.7L146.5,-52.2L144.8,-51.2L143.3,-49.7L142.3,-48L141.8,-46L141.8,-44L142.7,-41.1L147.8,-34.3L154.8,-28.7L156.8,-27.9L159,-27.6L161.2,-27.9L163.2,-28.7L165.7,-30.9L167.1,-33.8L167.3,-37.1L166.3,-40.2L164.9,-41.9L160.2,-46.7L154.2,-51.2L151.5,-52.5Z" fill="#fff" fill-opacity="0.34"/><path d="M56,30.8L54.7,31.2L53.5,31.9L52.5,32.9L51.8,34.1L51.4,35.4L51.4,36.8L52.1,38.8L55.7,45L57.2,46.6L63.9,51.6L65.5,51.9L67.6,51.3L68.8,50.3L69.6,48.8L69.7,47.2L69.1,45.6L60.4,32.4L58.7,31.2L57.4,30.8Z" fill="#fff" fill-opacity="0.11"/><path d="M55.7,28.9L53.9,29.4L52.3,30.3L50.4,32.4L49.6,34.2L49.4,36.1L49.6,38L50.4,39.8L54,46L55.2,47.5L61.7,52.6L63.9,53.7L65.5,53.9L67.1,53.7L68.6,53.1L70.4,51.5L71.5,49.3L71.6,46.9L70.9,44.6L67,38.5L61.9,30.9L60.4,29.8L58.6,29Z" fill="#fff" fill-opacity="0.21"/><path d="M80.1,48.4L69.8,51.9L60.6,58L59.5,59.3L58.9,60.9L59,62.6L59.8,64.2L61.6,65.6L63.9,65.9L74.4,63.1L88.5,55L89.7,53.8L90.2,52.5L90.1,51.1L89.5,49.9L88.5,49L86.7,48.5Z" fill="#fff" fill-opacity="0.11"/><path d="M79.9,46.5L68,50.5L58.8,57L57.4,59.1L56.9,61.5L57.4,63.9L58.8,66L60.9,67.4L63.3,67.9L65,67.7L74.2,65.3L76.1,64.5L84.4,59.8L90,56.4L91.1,55.3L92,53.4L92.2,51.3L91.5,49.2L90,47.6L88.8,46.9L87.4,46.5Z" fill="#fff" fill-opacity="0.21"/><path d="M109.1,42.2L107.3,42.8L106.3,43.6L105.5,44.6L102.7,53L101.2,60.3L101.2,61.3L102,63.1L103,64L103.9,64.4L104.9,64.5L106.3,64.2L107.2,63.7L108.1,62.6L111.3,56L114.3,48.2L114.5,47L114.3,45.8L113.9,44.6L113.1,43.6L112.1,42.8L110.9,42.4Z" fill="#fff" fill-opacity="0.08"/><path d="M108.8,40.3L107.1,40.7L105.6,41.6L104.3,42.9L103.4,44.4L100.7,52.5L99.2,60.1L99.4,62.3L100.4,64.3L102,65.7L104.2,66.5L106.4,66.3L107.8,65.7L108.9,64.8L109.8,63.6L113.2,56.7L116,49.6L116.4,47.9L116.4,46.1L116,44.4L114.5,42.2L113.1,41.1L111.5,40.4Z" fill="#fff" fill-opacity="0.14"/><ellipse cx="136.7" cy="35.6" rx="7" ry="3.5" transform="rotate(-10 136.7 35.6)" fill="#fff" fill-opacity="0.12"/><ellipse cx="33.7" cy="50.9" rx="7.5" ry="4.2" transform="rotate(-10 33.7 50.9)" fill="#fff" fill-opacity="0.25"/><path d="M53.2,-63.5L74.3,-49.1" fill="none" stroke="#fff" stroke-opacity="0.08" stroke-width="3" stroke-linecap="round" stroke-linejoin="round"/><ellipse cx="145.4" cy="48.8" rx="6" ry="3" transform="rotate(-30 145.4 48.8)" fill="#fff" fill-opacity="0.12"/><ellipse cx="-121.9" cy="-48.6" rx="11.5" ry="9" fill="#fff" fill-opacity="0.14"/><ellipse cx="-88.7" cy="-10.3" rx="16.5" ry="5" fill="#fff" fill-opacity="0.14"/><ellipse cx="-121.9" cy="-1.4" rx="32" ry="5" fill="#fff" fill-opacity="0.14"/><ellipse cx="-139.8" cy="12.7" rx="19" ry="7.5" fill="#fff" fill-opacity="0.14"/><ellipse cx="-109.1" cy="20.4" rx="16" ry="4" fill="#fff" fill-opacity="0.14"/><ellipse cx="-114.2" cy="33.1" rx="15" ry="5" fill="#fff" fill-opacity="0.14"/><ellipse cx="-107.8" cy="52.3" rx="14" ry="5.5" fill="#fff" fill-opacity="0.14"/><ellipse cx="-78.5" cy="61.2" rx="16" ry="6" fill="#fff" fill-opacity="0.14"/><ellipse cx="-40.1" cy="5" rx="12.5" ry="5" fill="#fff" fill-opacity="0.14"/><ellipse cx="-35" cy="-32" rx="16" ry="5" fill="#fff" fill-opacity="0.14"/><ellipse cx="-19.7" cy="-56.3" rx="19" ry="10" fill="#fff" fill-opacity="0.14"/><ellipse cx="-58" cy="17.8" rx="7.5" ry="10" fill="#fff" fill-opacity="0.14"/><ellipse cx="-81" cy="-25.6" rx="9" ry="6" fill="#fff" fill-opacity="0.14"/><ellipse cx="-22.3" cy="35.7" rx="12.5" ry="5" fill="#fff" fill-opacity="0.14"/><ellipse cx="-19.7" cy="56.1" rx="10" ry="4" fill="#fff" fill-opacity="0.14"/><ellipse cx="-157.7" cy="-5.2" rx="8" ry="4" fill="#fff" fill-opacity="0.14"/><ellipse cx="17.5" cy="-56.3" rx="25" ry="12" fill="#fff" fill-opacity="0.14"/><ellipse cx="63.5" cy="-56.3" rx="8" ry="5" fill="#fff" fill-opacity="0.14"/><ellipse cx="58.4" cy="-5.2" rx="11.5" ry="7.5" fill="#fff" fill-opacity="0.14"/><ellipse cx="78.9" cy="-12.9" rx="6" ry="6" fill="#fff" fill-opacity="0.14"/><ellipse cx="135" cy="-38.4" rx="12.5" ry="6" fill="#fff" fill-opacity="0.14"/><ellipse cx="27.8" cy="53.6" rx="14" ry="5" fill="#fff" fill-opacity="0.14"/><ellipse cx="68.6" cy="61.2" rx="25" ry="6" fill="#fff" fill-opacity="0.14"/><ellipse cx="107" cy="56.1" rx="15" ry="10" fill="#fff" fill-opacity="0.14"/><ellipse cx="142.7" cy="33.1" rx="11" ry="6" fill="#fff" fill-opacity="0.14"/><ellipse cx="130" cy="63.8" rx="12" ry="4" fill="#fff" fill-opacity="0.14"/><ellipse cx="22.7" cy="7.6" rx="5" ry="5" fill="#fff" fill-opacity="0.14"/><ellipse cx="2.2" cy="5" rx="4" ry="2" fill="#fff" fill-opacity="0.14"/><ellipse cx="53.3" cy="33.1" rx="8" ry="10" fill="#fff" fill-opacity="0.14"/><ellipse cx="128" cy="-12" rx="14" ry="8" fill="#fff" fill-opacity="0.14"/><ellipse cx="-60" cy="-40" rx="14" ry="6" fill="#fff" fill-opacity="0.14"/><ellipse cx="-140" cy="-25" rx="14" ry="6" fill="#fff" fill-opacity="0.14"/><ellipse cx="-150" cy="45" rx="12" ry="5" fill="#fff" fill-opacity="0.14"/><ellipse cx="90" cy="20" rx="14" ry="5" fill="#fff" fill-opacity="0.14"/><ellipse cx="-130" cy="-40" rx="40" ry="18" fill="#fff" fill-opacity="0.09"/><ellipse cx="-140" cy="0" rx="35" ry="14" fill="#fff" fill-opacity="0.09"/><ellipse cx="-120" cy="40" rx="50" ry="16" fill="#fff" fill-opacity="0.09"/><ellipse cx="-35" cy="-42" rx="35" ry="16" fill="#fff" fill-opacity="0.09"/><ellipse cx="-30" cy="2" rx="25" ry="8" fill="#fff" fill-opacity="0.09"/><ellipse cx="-10" cy="45" rx="40" ry="12" fill="#fff" fill-opacity="0.09"/><ellipse cx="-58" cy="8" rx="12" ry="12" fill="#fff" fill-opacity="0.09"/><ellipse cx="30" cy="-55" rx="40" ry="10" fill="#fff" fill-opacity="0.09"/><ellipse cx="70" cy="10" rx="35" ry="18" fill="#fff" fill-opacity="0.09"/><ellipse cx="70" cy="50" rx="50" ry="12" fill="#fff" fill-opacity="0.09"/><ellipse cx="135" cy="0" rx="30" ry="25" fill="#fff" fill-opacity="0.09"/><ellipse cx="140" cy="-40" rx="22" ry="15" fill="#fff" fill-opacity="0.09"/><ellipse cx="140" cy="45" rx="25" ry="14" fill="#fff" fill-opacity="0.09"/><ellipse cx="105" cy="-30" rx="15" ry="10" fill="#fff" fill-opacity="0.09"/><ellipse cx="20" cy="5" rx="10" ry="8" fill="#fff" fill-opacity="0.09"/><ellipse cx="-150" cy="20" rx="20" ry="10" fill="#fff" fill-opacity="0.09"/><ellipse cx="-90" cy="55" rx="30" ry="8" fill="#fff" fill-opacity="0.09"/></g>
<g filter="url(#b2)"><path d="M-148,-46.5L-149.6,-45.8L-152.8,-43L-155.8,-38.3L-157.4,-39.8L-159.5,-40.4L-161.6,-39.8L-163.2,-38.3L-163.7,-36.1L-163.2,-34L-162.5,-33.1L-157.4,-28.6L-155.6,-28.1L-154.6,-28.3L-153.4,-28.9L-145.4,-37.3L-144.9,-39L-144.6,-44.2L-145.1,-45.3L-145.7,-45.8L-146.8,-46.4Z" fill="#fff" fill-opacity="1.00"/><path d="M-142.3,-16L-143.5,-15.6L-145,-14.6L-146,-13.1L-146.3,-12L-146.2,-10.2L-145.7,-9.1L-145,-8.1L-143.5,-7.1L-135.2,-4.2L-126.6,-3.6L-124.8,-4.1L-122.2,-6.1L-121.7,-6.8L-121.7,-8.1L-122.4,-8.9L-132,-13.6L-140.5,-15.8Z" fill="#fff" fill-opacity="1.00"/><path d="M-165.5,18.2L-166.6,18.8L-167.2,19.6L-167.4,20.9L-166.9,22.1L-154.1,31.8L-144.5,35.5L-137,36L-136,35.6L-135,34.6L-134.6,33.6L-134.7,32.5L-135.2,31.5L-136,30.8L-142.9,27.5L-151.2,25.9L-163.6,18.4L-164.5,18.1Z" fill="#fff" fill-opacity="1.00"/><path d="M-100.2,-51.5L-100.7,-51.3L-104.2,-47.4L-109.3,-41.4L-109.6,-40.6L-109.5,-39.9L-109.2,-39.2L-108.6,-38.7L-107.9,-38.4L-107.1,-38.5L-106.4,-38.8L-105.9,-39.4L-102,-45.7L-99.3,-50.4L-99.4,-51.2Z" fill="#fff" fill-opacity="0.86"/><ellipse cx="-105.3" cy="-42.8" rx="4.4" ry="2.7" transform="rotate(-52 -105.3 -42.8)" fill="#fff" fill-opacity="1.00"/><path d="M-61.5,-40.9L-62.6,-40.6L-63.6,-40L-70,-35L-70.6,-33.9L-70.6,-32.7L-70.3,-31.6L-69.5,-30.7L-68.4,-30.1L-67.2,-30.1L-59.2,-32.3L-53.8,-35.8L-52.9,-37L-52.7,-38L-52.9,-39.1L-53.5,-40L-54.4,-40.6L-55.5,-40.8Z" fill="#fff" fill-opacity="1.00"/><path d="M-30,-52.7L-37,-50.7L-38.3,-49.8L-39.3,-48.4L-39.6,-46.8L-39.3,-45.2L-38.3,-43.8L-37,-42.9L-35.3,-42.6L-28.8,-43.3L-22.1,-45.6L-20.9,-46.4L-20.3,-47.1L-19.8,-48.5L-19.9,-49.9L-20.5,-51.2L-21.6,-52.2L-23.5,-52.7Z" fill="#fff" fill-opacity="1.00"/><path d="M-20.5,-66L-25.2,-64.5L-26.4,-63.6L-26.9,-62.6L-27,-61.4L-26.6,-60.4L-25.9,-59.5L-24.5,-58.9L-23.3,-59L-19.4,-60.4L-18.2,-61.3L-17.6,-62.7L-17.8,-64.2L-19.1,-65.6Z" fill="#fff" fill-opacity="0.48"/><path d="M-40.7,16.4L-42,16.9L-42.9,18.1L-43,19.5L-42.7,20.5L-42,21.3L-35.1,26.1L-27,30.5L-20.3,31.9L-18.8,31.5L-17.6,30.3L-17.3,29.6L-17.2,28.4L-17.9,26.9L-23.4,22L-31.9,18.4L-39.6,16.5Z" fill="#fff" fill-opacity="1.00"/><path d="M-53.4,41.9L-54.1,42.1L-54.7,42.7L-55.1,43.4L-55.1,44.4L-51.8,49.2L-48.2,52.2L-47,52.3L-46,51.9L-45.2,50.7L-45.2,49.6L-47.3,45.8L-52.1,42.1Z" fill="#fff" fill-opacity="0.90"/><ellipse cx="1.4" cy="43.1" rx="6.5" ry="2.8" transform="rotate(5 1.4 43.1)" fill="#fff" fill-opacity="0.64"/><ellipse cx="-51.1" cy="29.5" rx="2.3" ry="2.3" fill="#fff" fill-opacity="0.33"/><path d="M59.4,3.2L48,5.8L47,6.3L39.3,11.6L38.8,12.2L38.4,13.3L38.5,14.5L38.8,15.2L39.9,16.3L41,16.7L41.8,16.7L50.2,14.2L72.3,9.3L79.6,10.2L85.5,11.3L86.5,11.3L88,10.8L88.8,10.1L89.7,8.8L90,7.8L89.9,6.3L89.2,4.9L88,3.8L86.5,3.3L80.3,3.4L72.1,1.9Z" fill="#fff" fill-opacity="1.00"/><ellipse cx="43.6" cy="20.3" rx="1.6" ry="2.2" fill="#fff" fill-opacity="0.49"/><path d="M106,-7.4L104.3,-6.5L103.4,-5.6L102.7,-4.5L102.4,-3.3L102.5,-1.4L103,-0.2L104.3,1.2L105.4,1.9L127.8,8L140.5,7L147.7,10.6L152.5,19.3L153.4,20.4L154.5,21.3L156.4,21.9L158.5,21.8L160.3,20.9L161.3,19.9L162,18.7L162.4,16.7L162.2,15.3L157.9,3.5L156.5,1.5L154.5,0.2L153,-0.2L141.8,-1.9L129.2,-3.1L117.7,-4.7L108.5,-7.4L107.3,-7.5Z" fill="#fff" fill-opacity="0.59"/><ellipse cx="115.5" cy="1" rx="9.5" ry="4.2" transform="rotate(8 115.5 1)" fill="#fff" fill-opacity="0.90"/><ellipse cx="153" cy="7" rx="3.6" ry="2.6" transform="rotate(20 153 7)" fill="#fff" fill-opacity="0.78"/><ellipse cx="158.5" cy="21" rx="5" ry="5" fill="#fff" fill-opacity="1.00"/><path d="M118.1,-66.1L116.8,-65.6L116.1,-64.8L115.8,-63.8L116,-62.5L122.9,-54.9L131.7,-46.7L133,-46.2L133.8,-46.2L134.7,-46.5L135.8,-47.2L136.5,-48.3L136.8,-49.6L136.5,-50.9L135.8,-52L127.8,-60.4L119.7,-65.8Z" fill="#fff" fill-opacity="0.57"/><ellipse cx="130" cy="-51" rx="3" ry="4.5" transform="rotate(-35 130 -51)" fill="#fff" fill-opacity="0.82"/><path d="M149,-48.6L147.7,-48.1L146.6,-47.2L146,-45.9L145.9,-44.5L146.4,-43.2L150.4,-37.7L156.4,-32.7L157.4,-32.1L159.5,-31.8L161.6,-32.7L162.6,-33.9L163.2,-35.5L163.1,-37.1L162.3,-38.6L156.8,-44.1L151.3,-48.1L150.4,-48.5Z" fill="#fff" fill-opacity="1.00"/><path d="M56.3,33L55.2,33.4L54.2,34.2L53.7,35.3L53.6,36.5L54,37.6L57.6,43.9L58.5,44.8L64.5,49.4L65.5,49.7L66.5,49.4L67.1,48.9L67.4,48.2L67.5,47.4L67.2,46.7L59.2,34.2L57.9,33.2Z" fill="#fff" fill-opacity="0.51"/><path d="M80.4,50.6L70.1,54.1L61.7,59.9L61.1,61.2L61.4,62.6L62.5,63.5L63.6,63.7L73.6,61.1L87.4,53.1L88,52.3L87.8,51.4L87,50.7Z" fill="#fff" fill-opacity="0.49"/><path d="M109.4,44.4L108.1,44.9L107.4,45.7L104.8,53.6L103.4,60.8L103.7,61.7L104.5,62.2L105.5,62.2L106.2,61.5L109.3,55.1L112.2,47.7L112.2,46.3L111.5,45.2L110.4,44.5Z" fill="#fff" fill-opacity="0.34"/><ellipse cx="136.2" cy="35.8" rx="5.6" ry="2.3" transform="rotate(-10 136.2 35.8)" fill="#fff" fill-opacity="0.25"/><ellipse cx="69" cy="-53" rx="2.8" ry="1.7" transform="rotate(20 69 -53)" fill="#fff" fill-opacity="0.16"/></g>
</g>
<use href="#coast" stroke="#606060" stroke-width="0.6" fill="none"/>
</g>
<use href="#sides" stroke="#1a1a1a" stroke-width="0.65" fill="none"/>
</g>
<g transform="translate(172.2 543.5)">
<g clip-path="url(#clipmap)">
<g filter="url(#fd)">
<rect x="-175" y="-92" width="350" height="184" fill="rgb(9,9,9)"/>
<g filter="url(#b7)"><path d="M-160,-3L-120,-1L-75,-3" fill="none" stroke="#fff" stroke-opacity="0.13" stroke-width="10" stroke-linecap="round" stroke-linejoin="round"/><path d="M-155,22L-110,38L-70,50" fill="none" stroke="#fff" stroke-opacity="0.11" stroke-width="14" stroke-linecap="round" stroke-linejoin="round"/><path d="M-150,-45L-110,-52" fill="none" stroke="#fff" stroke-opacity="0.08" stroke-width="16" stroke-linecap="round" stroke-linejoin="round"/><path d="M-80,-38L-20,-55L30,-55" fill="none" stroke="#fff" stroke-opacity="0.08" stroke-width="16" stroke-linecap="round" stroke-linejoin="round"/><path d="M-60,15L-45,30L-10,40L30,52" fill="none" stroke="#fff" stroke-opacity="0.08" stroke-width="14" stroke-linecap="round" stroke-linejoin="round"/><path d="M-120,55L-60,58L0,55L60,58L120,55" fill="none" stroke="#fff" stroke-opacity="0.12" stroke-width="16" stroke-linecap="round" stroke-linejoin="round"/><path d="M35,12L100,-2L160,8" fill="none" stroke="#fff" stroke-opacity="0.14" stroke-width="24" stroke-linecap="round" stroke-linejoin="round"/><path d="M110,-60L145,-35" fill="none" stroke="#fff" stroke-opacity="0.10" stroke-width="18" stroke-linecap="round" stroke-linejoin="round"/></g>
<g filter="url(#b4)"><path d="M-148,-49.6L-150.1,-48.9L-153.9,-45.9L-155.3,-44.5L-156.7,-42.4L-158.1,-43L-160,-43.2L-162.8,-42.7L-165.1,-41.1L-166.7,-38.8L-167.1,-36.9L-167.1,-35.1L-166.2,-32.4L-165.1,-30.9L-160.4,-26.7L-158.3,-25.3L-156.6,-24.9L-155,-24.9L-153.3,-25.3L-151.8,-26.1L-143.8,-34.4L-142.1,-36.9L-141.6,-38.8L-141.3,-43.8L-141.7,-46.1L-142.5,-47.4L-144.2,-48.9L-146.4,-49.6Z" fill="#fff" fill-opacity="0.30"/><path d="M-143.6,-19.2L-145.5,-18.7L-147.3,-17.7L-148.7,-16.3L-150,-13.6L-150.2,-10.6L-149.7,-8.7L-148.7,-6.9L-146.4,-4.9L-136.2,-1.2L-134.1,-0.9L-126.2,-0.6L-124.5,-0.8L-123,-1.5L-119.5,-4.3L-118.9,-5.2L-118.3,-7.3L-118.9,-9.4L-119.9,-10.6L-123,-12.5L-132,-16.8L-140.6,-19Z" fill="#fff" fill-opacity="0.30"/><path d="M-167.3,15L-168.6,15.5L-169.7,16.3L-170.8,18L-171.2,19.3L-171.2,20.7L-170.5,22.6L-169.2,24.1L-164.3,27.6L-155.6,34.4L-146,38.4L-144.2,38.8L-135.4,39.2L-133.3,38.5L-132.2,37.6L-131.3,36.5L-130.6,34.4L-130.8,32.3L-131.7,30.4L-133.3,28.9L-141.5,24.9L-150.3,23.3L-164,15.2L-165.3,14.8Z" fill="#fff" fill-opacity="0.30"/><path d="M-100.3,-53.7L-101.8,-52.9L-105.9,-48.5L-111.3,-42.1L-111.8,-40.6L-111.7,-39.1L-111,-37.7L-109.8,-36.6L-108.3,-36.1L-107.3,-36.1L-105.4,-36.9L-104.3,-38.1L-100.3,-44.7L-97.4,-50L-97.2,-51L-97.4,-52L-98,-52.9L-99.2,-53.6Z" fill="#fff" fill-opacity="0.30"/><path d="M-61.9,-43.9L-63.8,-43.4L-65.5,-42.5L-71.7,-37.6L-73.2,-35.9L-73.9,-33.7L-73.8,-31.4L-72.8,-29.3L-71,-27.8L-68.9,-27.1L-67.3,-27.1L-58,-29.6L-51.7,-33.8L-50.2,-35.5L-49.5,-37.5L-49.7,-39.6L-50.6,-41.5L-51.7,-42.6L-52.9,-43.3L-54.3,-43.7Z" fill="#fff" fill-opacity="0.30"/><path d="M-30.5,-56L-38.9,-53.6L-41.3,-52L-42.5,-50.5L-43.4,-47.7L-43.2,-44.8L-42,-42.1L-39.8,-40.2L-37.9,-39.5L-36,-39.2L-27.3,-40.2L-19.4,-43.2L-18,-44.3L-16.9,-45.7L-16.1,-48.2L-16.1,-50L-16.9,-52.5L-18.7,-54.5L-20.2,-55.4L-21.9,-55.8Z" fill="#fff" fill-opacity="0.30"/><path d="M-20.5,-68.2L-21.8,-68L-26.1,-66.5L-27.2,-65.8L-28.5,-64.3L-29.2,-62.5L-29,-60.5L-28.1,-58.7L-26.7,-57.4L-24.8,-56.7L-22.8,-56.9L-18,-58.7L-16.9,-59.5L-16.1,-60.5L-15.6,-61.8L-15.4,-63.1L-15.6,-64.4L-16.1,-65.7L-16.9,-66.7L-17.9,-67.5L-19.2,-68Z" fill="#fff" fill-opacity="0.30"/><path d="M-41.9,13.2L-44,13.9L-45.1,14.8L-46,15.9L-46.5,17.3L-46.7,18.7L-46.5,20.1L-45.6,22L-44.5,23.1L-36.9,28.5L-29.3,32.9L-27.4,33.6L-20.3,35L-18.7,35L-16.6,34.3L-14.8,32.8L-14,31.5L-13.7,30L-13.7,28.4L-14,26.9L-15.3,25L-20.7,20.1L-22.5,19.1L-31.4,15.3L-39.8,13.4Z" fill="#fff" fill-opacity="0.30"/><path d="M-54.1,38.7L-55.3,39.1L-56.4,39.7L-57.7,41.1L-58.1,42.3L-58.3,43.5L-58.1,44.7L-57.7,45.9L-53.6,51.6L-50,54.5L-48.9,55.1L-47.7,55.5L-45.7,55.3L-44.5,54.8L-43.5,54L-42.7,53L-42.2,51.8L-42,50.5L-42.4,48.6L-44.5,44.6L-46,42.9L-51.1,39.3L-52.9,38.7Z" fill="#fff" fill-opacity="0.30"/><ellipse cx="1.4" cy="43.1" rx="8.7" ry="5" transform="rotate(5 1.4 43.1)" fill="#fff" fill-opacity="0.30"/><ellipse cx="-125.6" cy="-47.7" rx="6.5" ry="6" fill="#fff" fill-opacity="0.57"/><ellipse cx="-142.6" cy="13.4" rx="5" ry="4.5" fill="#fff" fill-opacity="0.45"/><ellipse cx="-106.5" cy="52.1" rx="9.5" ry="4" transform="rotate(5 -106.5 52.1)" fill="#fff" fill-opacity="0.51"/><ellipse cx="-139.4" cy="52.1" rx="6.5" ry="3.2" transform="rotate(25 -139.4 52.1)" fill="#fff" fill-opacity="0.70"/><ellipse cx="-83.1" cy="57.1" rx="9" ry="4" transform="rotate(5 -83.1 57.1)" fill="#fff" fill-opacity="0.25"/><ellipse cx="-164.3" cy="-4.4" rx="6.5" ry="2.4" fill="#fff" fill-opacity="0.57"/><ellipse cx="-78" cy="-27.7" rx="4.8" ry="3" transform="rotate(-20 -78 -27.7)" fill="#fff" fill-opacity="0.51"/><ellipse cx="-51.1" cy="29.5" rx="4" ry="4" fill="#fff" fill-opacity="0.25"/><ellipse cx="-4.5" cy="-49.5" rx="4.2" ry="5.2" fill="#fff" fill-opacity="0.74"/><path d="M-43.8,-0.7L-20,0.5L2.8,3.2" fill="none" stroke="#fff" stroke-opacity="0.29" stroke-width="4" stroke-linecap="round" stroke-linejoin="round"/><ellipse cx="-84.6" cy="-6" rx="8" ry="3.5" fill="#fff" fill-opacity="0.25"/><path d="M-75,-5L-72,4L-67,12L-64,22" fill="none" stroke="#fff" stroke-opacity="0.37" stroke-width="1.6" stroke-linecap="round" stroke-linejoin="round"/><path d="M58.9,-0.4L46.2,2.9L44.4,3.9L37.8,9L36.3,10.7L35.6,12.9L35.7,15.2L36.7,17.3L37.8,18.4L39.1,19.2L40.6,19.5L42.2,19.5L50.8,17.5L62.1,15.4L72.4,12.7L81.9,14.2L91.4,13.1L99.9,12.5L101.8,11.7L102.9,10.5L103.3,9.5L103.4,8L103.1,7L102.6,6.1L101.4,5L92.1,2.3L73,-1.7L71.2,-1.7Z" fill="#fff" fill-opacity="0.30"/><path d="M102.2,-11.4L99.2,-10L97.7,-8.5L96.6,-6.6L96.1,-4.5L96.1,-2.3L96.6,-0.2L97.7,1.7L100.1,3.8L102.2,4.6L112.7,7.3L126.7,11.4L129.1,11.4L140.6,10.2L147,13.5L152.7,23.5L154.3,25.1L155.3,25.7L157.4,26.6L158.6,26.8L160.8,26.8L163.1,26.2L165.1,25.1L166.7,23.5L167.3,22.5L167.8,21.5L168.4,19.2L168.5,18.1L168.2,15.8L162.8,1.2L161.2,-0.9L159.1,-2.5L156.8,-3.5L155.5,-3.7L116.5,-8.5L106.4,-11.4L104.3,-11.7Z" fill="#fff" fill-opacity="0.30"/><path d="M117.8,-68.3L116.6,-67.9L115.5,-67.3L114.6,-66.4L114,-65.3L113.6,-64.1L113.6,-62.9L114,-61.7L114.6,-60.6L121.3,-53.3L130,-45.2L132,-44.2L133.4,-44L134.8,-44.2L136.8,-45.2L138.2,-46.8L139,-48.9L138.8,-51L137.8,-53L129.1,-62.2L120.8,-67.7L119.6,-68.1Z" fill="#fff" fill-opacity="0.30"/><path d="M148.7,-50.8L147.3,-50.4L146,-49.6L144.9,-48.5L144.1,-47.2L143.7,-45.8L143.7,-44.2L144.1,-42.8L144.9,-41.5L149.2,-35.7L155.8,-30.5L158.2,-29.7L159.8,-29.7L161.4,-30.1L162.9,-30.9L164.5,-32.8L165.3,-35.2L165.2,-37.7L164.1,-39.9L158.8,-45.3L153,-49.6L151,-50.6Z" fill="#fff" fill-opacity="0.30"/><path d="M56,30.8L54.7,31.2L53.5,31.9L52.5,32.9L51.8,34.1L51.4,35.4L51.4,36.8L52.1,38.8L55.7,45L57.2,46.6L63.9,51.6L65.5,51.9L67.6,51.3L68.8,50.3L69.6,48.8L69.7,47.2L69.1,45.6L60.4,32.4L58.7,31.2L57.4,30.8Z" fill="#fff" fill-opacity="0.30"/><path d="M80.1,48.4L69.8,51.9L60.6,58L59.5,59.3L58.9,60.9L59,62.6L59.8,64.2L61.6,65.6L63.9,65.9L74.4,63.1L88.5,55L89.7,53.8L90.2,52.5L90.1,51.1L89.5,49.9L88.5,49L86.7,48.5Z" fill="#fff" fill-opacity="0.30"/><path d="M109.1,42.2L107.3,42.8L106.3,43.6L105.5,44.6L102.7,53L101.2,60.3L101.2,61.3L102,63.1L103,64L103.9,64.4L104.9,64.5L106.3,64.2L107.2,63.7L108.1,62.6L111.3,56L114.3,48.2L114.5,47L114.3,45.8L113.9,44.6L113.1,43.6L112.1,42.8L110.9,42.4Z" fill="#fff" fill-opacity="0.30"/><ellipse cx="136.7" cy="35.6" rx="7" ry="3.5" transform="rotate(-10 136.7 35.6)" fill="#fff" fill-opacity="0.33"/><ellipse cx="33.7" cy="50.9" rx="7.5" ry="4.2" transform="rotate(-10 33.7 50.9)" fill="#fff" fill-opacity="0.57"/><path d="M53.2,-63.5L74.3,-49.1" fill="none" stroke="#fff" stroke-opacity="0.33" stroke-width="3" stroke-linecap="round" stroke-linejoin="round"/><ellipse cx="134.7" cy="-36" rx="9" ry="5" fill="#fff" fill-opacity="0.37"/><ellipse cx="145.4" cy="48.8" rx="6" ry="3" transform="rotate(-30 145.4 48.8)" fill="#fff" fill-opacity="0.51"/><ellipse cx="79.5" cy="-11" rx="4" ry="5" fill="#fff" fill-opacity="0.25"/><ellipse cx="19.1" cy="-49.1" rx="8" ry="5" fill="#fff" fill-opacity="0.25"/><ellipse cx="-121.9" cy="-48.6" rx="11.5" ry="9" fill="#fff" fill-opacity="0.14"/><ellipse cx="-88.7" cy="-10.3" rx="16.5" ry="5" fill="#fff" fill-opacity="0.14"/><ellipse cx="-121.9" cy="-1.4" rx="32" ry="5" fill="#fff" fill-opacity="0.14"/><ellipse cx="-139.8" cy="12.7" rx="19" ry="7.5" fill="#fff" fill-opacity="0.14"/><ellipse cx="-109.1" cy="20.4" rx="16" ry="4" fill="#fff" fill-opacity="0.14"/><ellipse cx="-114.2" cy="33.1" rx="15" ry="5" fill="#fff" fill-opacity="0.14"/><ellipse cx="-107.8" cy="52.3" rx="14" ry="5.5" fill="#fff" fill-opacity="0.14"/><ellipse cx="-78.5" cy="61.2" rx="16" ry="6" fill="#fff" fill-opacity="0.14"/><ellipse cx="-40.1" cy="5" rx="12.5" ry="5" fill="#fff" fill-opacity="0.14"/><ellipse cx="-35" cy="-32" rx="16" ry="5" fill="#fff" fill-opacity="0.14"/><ellipse cx="-19.7" cy="-56.3" rx="19" ry="10" fill="#fff" fill-opacity="0.14"/><ellipse cx="-58" cy="17.8" rx="7.5" ry="10" fill="#fff" fill-opacity="0.14"/><ellipse cx="-81" cy="-25.6" rx="9" ry="6" fill="#fff" fill-opacity="0.14"/><ellipse cx="-22.3" cy="35.7" rx="12.5" ry="5" fill="#fff" fill-opacity="0.14"/><ellipse cx="-19.7" cy="56.1" rx="10" ry="4" fill="#fff" fill-opacity="0.14"/><ellipse cx="-157.7" cy="-5.2" rx="8" ry="4" fill="#fff" fill-opacity="0.14"/><ellipse cx="17.5" cy="-56.3" rx="25" ry="12" fill="#fff" fill-opacity="0.14"/><ellipse cx="63.5" cy="-56.3" rx="8" ry="5" fill="#fff" fill-opacity="0.14"/><ellipse cx="58.4" cy="-5.2" rx="11.5" ry="7.5" fill="#fff" fill-opacity="0.14"/><ellipse cx="78.9" cy="-12.9" rx="6" ry="6" fill="#fff" fill-opacity="0.14"/><ellipse cx="135" cy="-38.4" rx="12.5" ry="6" fill="#fff" fill-opacity="0.14"/><ellipse cx="27.8" cy="53.6" rx="14" ry="5" fill="#fff" fill-opacity="0.14"/><ellipse cx="68.6" cy="61.2" rx="25" ry="6" fill="#fff" fill-opacity="0.14"/><ellipse cx="107" cy="56.1" rx="15" ry="10" fill="#fff" fill-opacity="0.14"/><ellipse cx="142.7" cy="33.1" rx="11" ry="6" fill="#fff" fill-opacity="0.14"/><ellipse cx="130" cy="63.8" rx="12" ry="4" fill="#fff" fill-opacity="0.14"/><ellipse cx="22.7" cy="7.6" rx="5" ry="5" fill="#fff" fill-opacity="0.14"/><ellipse cx="2.2" cy="5" rx="4" ry="2" fill="#fff" fill-opacity="0.14"/><ellipse cx="53.3" cy="33.1" rx="8" ry="10" fill="#fff" fill-opacity="0.14"/><ellipse cx="128" cy="-12" rx="14" ry="8" fill="#fff" fill-opacity="0.14"/><ellipse cx="-60" cy="-40" rx="14" ry="6" fill="#fff" fill-opacity="0.14"/><ellipse cx="-140" cy="-25" rx="14" ry="6" fill="#fff" fill-opacity="0.14"/><ellipse cx="-150" cy="45" rx="12" ry="5" fill="#fff" fill-opacity="0.14"/><ellipse cx="90" cy="20" rx="14" ry="5" fill="#fff" fill-opacity="0.14"/></g>
<g filter="url(#b2)"><path d="M-147.7,-47.5L-149.5,-46.7L-153.1,-43.7L-156.1,-39.1L-157,-40L-158.1,-40.6L-159.3,-41L-160.7,-41L-161.9,-40.6L-163,-40L-164.3,-38.5L-164.8,-37.3L-165,-36L-164.8,-34.7L-164.3,-33.5L-163.5,-32.5L-158,-27.6L-155.8,-27L-154.7,-27.1L-153.2,-27.9L-145.3,-35.9L-144.4,-37L-143.7,-39.1L-143.6,-44.8L-144,-45.6L-144.9,-46.7L-146.2,-47.4Z" fill="#fff" fill-opacity="1.00"/><path d="M-143.3,-17.1L-144.7,-16.7L-146.5,-15.5L-147.4,-14.4L-148.1,-12.3L-147.9,-10.2L-147.4,-8.9L-145.9,-7.2L-144.7,-6.5L-135.6,-3.3L-126.2,-2.8L-125.1,-2.9L-123.6,-3.7L-121.1,-5.9L-120.7,-6.5L-120.6,-7.8L-121.3,-8.9L-124.1,-10.6L-131.8,-14.5L-141.2,-16.9Z" fill="#fff" fill-opacity="1.00"/><path d="M-166.8,17.1L-167.8,17.6L-168.8,18.9L-169,20.4L-168.4,21.8L-154.4,32.5L-143.9,36.7L-135.7,37L-134.4,36.6L-133.2,35.4L-132.8,34.1L-132.9,32.8L-133.5,31.7L-134.4,30.8L-142,27.1L-151.1,25.4L-164.5,17.4L-165.6,17Z" fill="#fff" fill-opacity="1.00"/><path d="M-100,-51.9L-100.5,-51.6L-104.3,-47.5L-109.7,-41.2L-110,-40.4L-109.9,-39.5L-109.5,-38.8L-108.9,-38.2L-108.1,-37.9L-107.2,-38L-106.5,-38.4L-105.9,-39L-101.8,-45.6L-99.1,-50.7L-99.2,-51.5Z" fill="#fff" fill-opacity="1.00"/><path d="M-61.6,-41.8L-62.9,-41.4L-64.1,-40.7L-71,-35.2L-71.7,-33.9L-71.8,-32.4L-71.3,-31.1L-70.4,-30L-69.1,-29.3L-67.6,-29.2L-58.9,-31.6L-53,-35.6L-52.1,-36.6L-51.7,-37.8L-51.8,-39.1L-52.4,-40.2L-53.4,-41.1L-54.6,-41.5Z" fill="#fff" fill-opacity="1.00"/><path d="M-30.2,-53.8L-38,-51.6L-39.2,-50.9L-40.2,-49.9L-41.1,-48.1L-41.3,-46L-40.6,-44.1L-39.2,-42.5L-37.4,-41.6L-36,-41.4L-27.9,-42.3L-20.5,-45.1L-19.5,-45.8L-18.8,-46.8L-18.2,-48.5L-18.4,-50.3L-19.2,-51.9L-20.5,-53.1L-22.2,-53.7Z" fill="#fff" fill-opacity="1.00"/><path d="M-20.5,-66L-25.2,-64.5L-26.4,-63.6L-26.9,-62.6L-27,-61.4L-26.6,-60.4L-25.9,-59.5L-24.5,-58.9L-23.3,-59L-19.4,-60.4L-18.2,-61.3L-17.6,-62.7L-17.8,-64.2L-19.1,-65.6Z" fill="#fff" fill-opacity="0.98"/><path d="M-41.6,15.4L-43.2,16.1L-44.1,17L-44.5,18.7L-44.1,20.3L-43.2,21.3L-35.8,26.6L-28.2,31L-26.8,31.5L-19.5,32.9L-17.7,32.4L-16.3,31.1L-15.8,29.2L-16.3,27.3L-16.9,26.6L-22.6,21.4L-32,17.5L-40.3,15.5Z" fill="#fff" fill-opacity="1.00"/><path d="M-53.8,40.9L-54.8,41.2L-55.6,41.9L-56,42.8L-56.1,43.8L-55.8,44.8L-52.4,49.7L-48.1,53.1L-46.6,53.3L-45.3,52.7L-44.4,51.6L-44.2,50.1L-46.6,45.3L-52.2,41.2Z" fill="#fff" fill-opacity="1.00"/><ellipse cx="1.4" cy="43.1" rx="6.5" ry="2.8" transform="rotate(5 1.4 43.1)" fill="#fff" fill-opacity="0.98"/><ellipse cx="-51.1" cy="29.5" rx="2.3" ry="2.3" fill="#fff" fill-opacity="0.86"/><path d="M59.2,1.8L47.7,4.7L45.8,5.6L38.5,11.4L38,12.3L37.7,13.7L38,15.1L38.5,16L40,17.1L41.9,17.4L50.3,15.4L61.5,13.3L72.3,10.5L81.9,12L91.1,10.9L99.6,10.3L100.7,9.8L101.2,8.7L101,7.6L99.9,6.8L91.6,4.4L72.8,0.4Z" fill="#fff" fill-opacity="1.00"/><ellipse cx="43.6" cy="20.3" rx="1.6" ry="2.2" fill="#fff" fill-opacity="0.82"/><path d="M102.7,-9.3L101.2,-8.7L99.5,-7.1L98.7,-5.7L98.3,-4.2L98.3,-2.6L99,-0.4L100,0.9L102,2.2L113.3,5.2L127,9.2L128.8,9.2L141,7.9L148.6,11.9L154.5,22.1L155.7,23.3L158,24.5L159.7,24.7L162.2,24.2L164.4,22.8L165.8,20.6L166.2,19L166.1,16.4L161.3,3.2L159.6,0.7L157.1,-1L155.2,-1.5L142.8,-3.2L128.8,-4.6L116,-6.3L105.9,-9.3L104.3,-9.5Z" fill="#fff" fill-opacity="1.00"/><path d="M118.1,-66.1L116.8,-65.6L116.1,-64.8L115.8,-63.8L116,-62.5L122.9,-54.9L131.7,-46.7L133,-46.2L133.8,-46.2L134.7,-46.5L135.8,-47.2L136.5,-48.3L136.8,-49.6L136.5,-50.9L135.8,-52L127.8,-60.4L119.7,-65.8Z" fill="#fff" fill-opacity="1.00"/><path d="M149,-48.6L147.7,-48.1L146.6,-47.2L146,-45.9L145.9,-44.5L146.4,-43.2L150.4,-37.7L156.4,-32.7L157.4,-32.1L159.5,-31.8L161.6,-32.7L162.6,-33.9L163.2,-35.5L163.1,-37.1L162.3,-38.6L156.8,-44.1L151.3,-48.1L150.4,-48.5Z" fill="#fff" fill-opacity="1.00"/><path d="M56.3,33L55.2,33.4L54.2,34.2L53.7,35.3L53.6,36.5L54,37.6L57.6,43.9L58.5,44.8L64.5,49.4L65.5,49.7L66.5,49.4L67.1,48.9L67.4,48.2L67.5,47.4L67.2,46.7L59.2,34.2L57.9,33.2Z" fill="#fff" fill-opacity="0.98"/><path d="M80.4,50.6L70.1,54.1L61.7,59.9L61.1,61.2L61.4,62.6L62.5,63.5L63.6,63.7L73.6,61.1L87.4,53.1L88,52.3L87.8,51.4L87,50.7Z" fill="#fff" fill-opacity="0.98"/><path d="M109.4,44.4L108.1,44.9L107.4,45.7L104.8,53.6L103.4,60.8L103.7,61.7L104.5,62.2L105.5,62.2L106.2,61.5L109.3,55.1L112.2,47.7L112.2,46.3L111.5,45.2L110.4,44.5Z" fill="#fff" fill-opacity="0.82"/><ellipse cx="136.2" cy="35.8" rx="5.6" ry="2.3" transform="rotate(-10 136.2 35.8)" fill="#fff" fill-opacity="0.90"/><ellipse cx="69" cy="-53" rx="2.8" ry="1.7" transform="rotate(20 69 -53)" fill="#fff" fill-opacity="0.86"/></g>
</g>
<use href="#coast" stroke="#a39c88" stroke-width="0.55" fill="none"/>
</g>
<use href="#sides" stroke="#1c0b2a" stroke-width="0.7" fill="none"/>
</g>
<g transform="translate(512.1 543.5)">
<g clip-path="url(#clipmap)">
<g filter="url(#fe)">
<rect x="-175" y="-92" width="350" height="184" fill="rgb(15,15,15)"/>
<g filter="url(#b7)"><path d="M-160,-3L-120,-1L-75,-3" fill="none" stroke="#fff" stroke-opacity="0.11" stroke-width="10" stroke-linecap="round" stroke-linejoin="round"/><path d="M-155,22L-110,38L-70,50" fill="none" stroke="#fff" stroke-opacity="0.10" stroke-width="14" stroke-linecap="round" stroke-linejoin="round"/><path d="M-150,-45L-110,-52" fill="none" stroke="#fff" stroke-opacity="0.08" stroke-width="16" stroke-linecap="round" stroke-linejoin="round"/><path d="M-80,-38L-20,-55L30,-55" fill="none" stroke="#fff" stroke-opacity="0.08" stroke-width="16" stroke-linecap="round" stroke-linejoin="round"/><path d="M-60,15L-45,30L-10,40L30,52" fill="none" stroke="#fff" stroke-opacity="0.08" stroke-width="14" stroke-linecap="round" stroke-linejoin="round"/><path d="M-120,55L-60,58L0,55L60,58L120,55" fill="none" stroke="#fff" stroke-opacity="0.11" stroke-width="16" stroke-linecap="round" stroke-linejoin="round"/><path d="M35,12L100,-2L160,8" fill="none" stroke="#fff" stroke-opacity="0.12" stroke-width="24" stroke-linecap="round" stroke-linejoin="round"/><path d="M110,-60L145,-35" fill="none" stroke="#fff" stroke-opacity="0.08" stroke-width="18" stroke-linecap="round" stroke-linejoin="round"/></g>
<g filter="url(#b4)"><ellipse cx="-154" cy="-36" rx="8" ry="10" transform="rotate(25 -154 -36)" fill="#fff" fill-opacity="0.41"/><path d="M-141.4,-16.9L-143.6,-16.2L-144.8,-15.2L-145.7,-14L-146.3,-12.6L-146.5,-11.1L-146.1,-8.9L-144.8,-7L-143.6,-6.1L-135.2,-3.1L-127.1,-2.3L-125.8,-2.5L-124.6,-3L-121.9,-4.7L-121,-5.8L-120.5,-7.1L-120.6,-8.5L-121.2,-9.7L-122.2,-10.6L-132.1,-14.8L-139.2,-16.7Z" fill="#fff" fill-opacity="0.33"/><path d="M-165.4,16.6L-166.4,17.1L-167.4,17.8L-168.3,19.2L-168.6,20.4L-168.6,21.5L-168.1,23.2L-166.9,24.5L-155,33.3L-146.6,36.7L-145.1,37.1L-137.4,37.6L-136.3,37.3L-135.2,36.6L-134,35.3L-133.4,33.5L-133.5,31.7L-134.4,30.1L-135.7,28.9L-142.8,25.6L-150.5,24.1L-162,17.1L-163.6,16.5Z" fill="#fff" fill-opacity="0.33"/><ellipse cx="-104" cy="-44" rx="5" ry="2" transform="rotate(-50 -104 -44)" fill="#fff" fill-opacity="0.37"/><path d="M-55.6,-42L-62.4,-41.7L-63.7,-41.1L-69.6,-37L-70.4,-36.2L-71.2,-34.6L-71.3,-32.9L-70.7,-31.2L-69.6,-29.9L-68.5,-29.3L-67.4,-29L-65.7,-29.1L-58.9,-31.3L-54.1,-34.1L-52.8,-35.2L-52.1,-36.7L-52,-38.3L-52.5,-39.9L-53.6,-41.1Z" fill="#fff" fill-opacity="0.33"/><path d="M-23.5,-53.8L-30.9,-53.5L-36.7,-51.9L-38,-51.2L-38.9,-50.2L-39.9,-48.3L-40,-46.2L-39.3,-44.3L-38,-42.7L-36.7,-42L-34.7,-41.6L-28.7,-42.3L-22.2,-44.3L-21.1,-44.9L-20.2,-45.8L-19.3,-47.6L-19.2,-49.5L-19.8,-51.3L-21.1,-52.8L-22.2,-53.4Z" fill="#fff" fill-opacity="0.20"/><path d="M-20.5,-68.2L-21.8,-68L-26.1,-66.5L-27.2,-65.8L-28.5,-64.3L-29.2,-62.5L-29,-60.5L-28.1,-58.7L-26.7,-57.4L-24.8,-56.7L-22.8,-56.9L-18,-58.7L-16.9,-59.5L-16.1,-60.5L-15.6,-61.8L-15.4,-63.1L-15.6,-64.4L-16.1,-65.7L-16.9,-66.7L-17.9,-67.5L-19.2,-68Z" fill="#fff" fill-opacity="0.11"/><path d="M-40,15.2L-41.6,15.7L-42.5,16.4L-43.2,17.3L-43.7,18.4L-43.8,19.6L-43.5,21.3L-42.9,22.3L-42.1,23.1L-35.5,27.4L-27.6,31.6L-21.2,33.1L-19.9,32.9L-18.8,32.5L-17.4,31.3L-16.8,30.2L-16.5,29L-16.6,27.2L-17.1,26L-17.8,25L-22.5,21.2L-30.6,17.4L-38.2,15.3Z" fill="#fff" fill-opacity="0.33"/><path d="M-53.5,40.1L-55.4,40.9L-56.7,42.5L-57,44L-56.5,46.1L-52.9,50.8L-50,53.3L-48,54.1L-46.9,54.1L-45.4,53.6L-43.8,52.1L-43.3,50L-43.6,48.4L-45.5,45.1L-46.7,43.7L-51,40.6L-51.9,40.2Z" fill="#fff" fill-opacity="0.30"/><ellipse cx="1.4" cy="43.1" rx="8.7" ry="5" transform="rotate(5 1.4 43.1)" fill="#fff" fill-opacity="0.18"/><ellipse cx="-125.6" cy="-47.7" rx="6.5" ry="6" fill="#fff" fill-opacity="0.25"/><ellipse cx="-142.6" cy="13.4" rx="5" ry="4.5" fill="#fff" fill-opacity="0.25"/><ellipse cx="-106.5" cy="52.1" rx="9.5" ry="4" transform="rotate(5 -106.5 52.1)" fill="#fff" fill-opacity="0.29"/><ellipse cx="-139.4" cy="52.1" rx="6.5" ry="3.2" transform="rotate(25 -139.4 52.1)" fill="#fff" fill-opacity="0.33"/><ellipse cx="-83.1" cy="57.1" rx="9" ry="4" transform="rotate(5 -83.1 57.1)" fill="#fff" fill-opacity="0.18"/><ellipse cx="-164.3" cy="-4.4" rx="6.5" ry="2.4" fill="#fff" fill-opacity="0.25"/><ellipse cx="-78" cy="-27.7" rx="4.8" ry="3" transform="rotate(-20 -78 -27.7)" fill="#fff" fill-opacity="0.33"/><ellipse cx="-51.1" cy="29.5" rx="4" ry="4" fill="#fff" fill-opacity="0.25"/><ellipse cx="-4.5" cy="-49.5" rx="4.2" ry="5.2" fill="#fff" fill-opacity="0.29"/><path d="M-43.8,-0.7L-20,0.5L2.8,3.2" fill="none" stroke="#fff" stroke-opacity="0.25" stroke-width="4" stroke-linecap="round" stroke-linejoin="round"/><ellipse cx="-84.6" cy="-6" rx="8" ry="3.5" fill="#fff" fill-opacity="0.20"/><path d="M-75,-5L-72,4L-67,12L-64,22" fill="none" stroke="#fff" stroke-opacity="0.33" stroke-width="1.6" stroke-linecap="round" stroke-linejoin="round"/><path d="M59.2,1.8L47.7,4.7L45.8,5.6L38.5,11.4L38,12.3L37.7,13.7L38,15.1L38.5,16L40,17.1L41.9,17.4L50.3,15.4L61.5,13.3L72.3,10.5L81.9,12L91.1,10.9L99.6,10.3L100.7,9.8L101.2,8.7L101,7.6L99.9,6.8L91.6,4.4L72.8,0.4Z" fill="#fff" fill-opacity="0.70"/><path d="M103.1,-7.8L102,-7.4L101,-6.7L100.1,-5.2L99.7,-4L99.7,-2.8L100.3,-1.1L101,-0.1L102,0.6L103.1,1L113.7,3.8L126.5,7.6L128.6,7.8L141.3,6.4L151.8,11.8L154.2,12.3L156.6,11.8L158,11L159.1,9.9L160.2,7.7L160.3,5.3L159.6,3L158,1.2L155.8,0.1L142.6,-1.7L128.6,-3.2L115.7,-4.8L105.5,-7.8L104.3,-8Z" fill="#fff" fill-opacity="0.57"/><ellipse cx="157" cy="19" rx="8" ry="8" fill="#fff" fill-opacity="0.41"/><path d="M117.8,-68.3L116.6,-67.9L115.5,-67.3L114.6,-66.4L114,-65.3L113.6,-64.1L113.6,-62.9L114,-61.7L114.6,-60.6L121.3,-53.3L130,-45.2L132,-44.2L133.4,-44L134.8,-44.2L136.8,-45.2L138.2,-46.8L139,-48.9L138.8,-51L137.8,-53L129.1,-62.2L120.8,-67.7L119.6,-68.1Z" fill="#fff" fill-opacity="0.16"/><path d="M149.9,-48.4L147.8,-47.6L146.4,-45.8L146.1,-43.5L147,-41.4L150.5,-37L155.7,-32.8L156.8,-32.3L158,-32.2L159.3,-32.3L160.9,-33.2L162.1,-34.5L162.7,-36.3L162.6,-38.1L161.8,-39.8L157.5,-44L153.1,-47.6L151.6,-48.3Z" fill="#fff" fill-opacity="0.30"/><path d="M56,30.8L54.7,31.2L53.5,31.9L52.5,32.9L51.8,34.1L51.4,35.4L51.4,36.8L52.1,38.8L55.7,45L57.2,46.6L63.9,51.6L65.5,51.9L67.6,51.3L68.8,50.3L69.6,48.8L69.7,47.2L69.1,45.6L60.4,32.4L58.7,31.2L57.4,30.8Z" fill="#fff" fill-opacity="0.16"/><path d="M80.1,48.4L69.8,51.9L60.6,58L59.5,59.3L58.9,60.9L59,62.6L59.8,64.2L61.6,65.6L63.9,65.9L74.4,63.1L88.5,55L89.7,53.8L90.2,52.5L90.1,51.1L89.5,49.9L88.5,49L86.7,48.5Z" fill="#fff" fill-opacity="0.08"/><path d="M109.1,42.2L107.3,42.8L106.3,43.6L105.5,44.6L102.7,53L101.2,60.3L101.2,61.3L102,63.1L103,64L103.9,64.4L104.9,64.5L106.3,64.2L107.2,63.7L108.1,62.6L111.3,56L114.3,48.2L114.5,47L114.3,45.8L113.9,44.6L113.1,43.6L112.1,42.8L110.9,42.4Z" fill="#fff" fill-opacity="0.07"/><ellipse cx="136.7" cy="35.6" rx="7" ry="3.5" transform="rotate(-10 136.7 35.6)" fill="#fff" fill-opacity="0.25"/><ellipse cx="33.7" cy="50.9" rx="7.5" ry="4.2" transform="rotate(-10 33.7 50.9)" fill="#fff" fill-opacity="0.25"/><path d="M53.2,-63.5L74.3,-49.1" fill="none" stroke="#fff" stroke-opacity="0.25" stroke-width="3" stroke-linecap="round" stroke-linejoin="round"/><ellipse cx="134.7" cy="-36" rx="9" ry="5" fill="#fff" fill-opacity="0.25"/><ellipse cx="145.4" cy="48.8" rx="6" ry="3" transform="rotate(-30 145.4 48.8)" fill="#fff" fill-opacity="0.25"/><ellipse cx="79.5" cy="-11" rx="4" ry="5" fill="#fff" fill-opacity="0.18"/><ellipse cx="19.1" cy="-49.1" rx="8" ry="5" fill="#fff" fill-opacity="0.20"/><ellipse cx="-121.9" cy="-48.6" rx="11.5" ry="9" fill="#fff" fill-opacity="0.12"/><ellipse cx="-88.7" cy="-10.3" rx="16.5" ry="5" fill="#fff" fill-opacity="0.12"/><ellipse cx="-121.9" cy="-1.4" rx="32" ry="5" fill="#fff" fill-opacity="0.12"/><ellipse cx="-139.8" cy="12.7" rx="19" ry="7.5" fill="#fff" fill-opacity="0.12"/><ellipse cx="-109.1" cy="20.4" rx="16" ry="4" fill="#fff" fill-opacity="0.12"/><ellipse cx="-114.2" cy="33.1" rx="15" ry="5" fill="#fff" fill-opacity="0.12"/><ellipse cx="-107.8" cy="52.3" rx="14" ry="5.5" fill="#fff" fill-opacity="0.12"/><ellipse cx="-78.5" cy="61.2" rx="16" ry="6" fill="#fff" fill-opacity="0.12"/><ellipse cx="-40.1" cy="5" rx="12.5" ry="5" fill="#fff" fill-opacity="0.12"/><ellipse cx="-35" cy="-32" rx="16" ry="5" fill="#fff" fill-opacity="0.12"/><ellipse cx="-19.7" cy="-56.3" rx="19" ry="10" fill="#fff" fill-opacity="0.12"/><ellipse cx="-58" cy="17.8" rx="7.5" ry="10" fill="#fff" fill-opacity="0.12"/><ellipse cx="-81" cy="-25.6" rx="9" ry="6" fill="#fff" fill-opacity="0.12"/><ellipse cx="-22.3" cy="35.7" rx="12.5" ry="5" fill="#fff" fill-opacity="0.12"/><ellipse cx="-19.7" cy="56.1" rx="10" ry="4" fill="#fff" fill-opacity="0.12"/><ellipse cx="-157.7" cy="-5.2" rx="8" ry="4" fill="#fff" fill-opacity="0.12"/><ellipse cx="17.5" cy="-56.3" rx="25" ry="12" fill="#fff" fill-opacity="0.12"/><ellipse cx="63.5" cy="-56.3" rx="8" ry="5" fill="#fff" fill-opacity="0.12"/><ellipse cx="58.4" cy="-5.2" rx="11.5" ry="7.5" fill="#fff" fill-opacity="0.12"/><ellipse cx="78.9" cy="-12.9" rx="6" ry="6" fill="#fff" fill-opacity="0.12"/><ellipse cx="135" cy="-38.4" rx="12.5" ry="6" fill="#fff" fill-opacity="0.12"/><ellipse cx="27.8" cy="53.6" rx="14" ry="5" fill="#fff" fill-opacity="0.12"/><ellipse cx="68.6" cy="61.2" rx="25" ry="6" fill="#fff" fill-opacity="0.12"/><ellipse cx="107" cy="56.1" rx="15" ry="10" fill="#fff" fill-opacity="0.12"/><ellipse cx="142.7" cy="33.1" rx="11" ry="6" fill="#fff" fill-opacity="0.12"/><ellipse cx="130" cy="63.8" rx="12" ry="4" fill="#fff" fill-opacity="0.12"/><ellipse cx="22.7" cy="7.6" rx="5" ry="5" fill="#fff" fill-opacity="0.12"/><ellipse cx="2.2" cy="5" rx="4" ry="2" fill="#fff" fill-opacity="0.12"/><ellipse cx="53.3" cy="33.1" rx="8" ry="10" fill="#fff" fill-opacity="0.12"/><ellipse cx="128" cy="-12" rx="14" ry="8" fill="#fff" fill-opacity="0.12"/><ellipse cx="-60" cy="-40" rx="14" ry="6" fill="#fff" fill-opacity="0.12"/><ellipse cx="-140" cy="-25" rx="14" ry="6" fill="#fff" fill-opacity="0.12"/><ellipse cx="-150" cy="45" rx="12" ry="5" fill="#fff" fill-opacity="0.12"/><ellipse cx="90" cy="20" rx="14" ry="5" fill="#fff" fill-opacity="0.12"/></g>
<g filter="url(#b2)"><ellipse cx="-151.5" cy="-37.5" rx="3.4" ry="5.5" transform="rotate(20 -151.5 -37.5)" fill="#fff" fill-opacity="0.94"/><path d="M-141.2,-14.7L-142.1,-14.5L-143.3,-13.7L-143.8,-12.9L-144.3,-11.6L-144.2,-10.2L-143.8,-9.3L-143.3,-8.5L-142.1,-7.8L-134.6,-5.2L-127.1,-4.5L-125.7,-4.9L-123.2,-6.5L-122.8,-7L-122.8,-8L-123.3,-8.7L-132.1,-12.6L-139.7,-14.6Z" fill="#fff" fill-opacity="1.00"/><path d="M-164.8,18.8L-165.8,19.4L-166.3,20.1L-166.5,21.2L-166,22.3L-153.9,31.4L-144.8,34.9L-137.7,35.4L-136.8,35.1L-135.9,34.2L-135.6,33.3L-135.7,32.3L-136.1,31.4L-136.8,30.8L-143.4,27.7L-151.3,26.2L-163.1,19L-163.9,18.7Z" fill="#fff" fill-opacity="1.00"/><ellipse cx="-105.8" cy="-42" rx="1.7" ry="3.2" fill="#fff" fill-opacity="1.00"/><path d="M-61,-39.7L-62.6,-39.2L-68.4,-35.1L-68.9,-34.3L-69.1,-33.5L-68.9,-32.6L-68.4,-31.8L-67.7,-31.3L-66.5,-31.2L-59.7,-33.3L-55,-36.1L-54.3,-37L-54.2,-37.8L-54.3,-38.5L-54.8,-39.2L-55.4,-39.6L-56.2,-39.8Z" fill="#fff" fill-opacity="0.86"/><path d="M-29.4,-51.5L-35.5,-50L-36.6,-49.5L-37.4,-48.5L-37.8,-47.4L-37.8,-46.1L-37.2,-45L-35.9,-44L-34.7,-43.8L-28.9,-44.5L-23.1,-46.3L-21.7,-47.5L-21.4,-48.5L-21.5,-49.6L-21.9,-50.5L-22.7,-51.3L-24.1,-51.6Z" fill="#fff" fill-opacity="0.51"/><path d="M-20.5,-66L-25.2,-64.5L-26.4,-63.6L-26.9,-62.6L-27,-61.4L-26.6,-60.4L-25.9,-59.5L-24.5,-58.9L-23.3,-59L-19.4,-60.4L-18.2,-61.3L-17.6,-62.7L-17.8,-64.2L-19.1,-65.6Z" fill="#fff" fill-opacity="0.29"/><path d="M-39.7,17.3L-40.5,17.6L-41.3,18.4L-41.6,19.6L-41.3,20.7L-40.8,21.3L-34.4,25.5L-27.1,29.5L-21.2,30.9L-19.9,30.6L-19,29.6L-18.6,28.4L-19.2,26.9L-24.2,22.6L-31.4,19.4L-38.8,17.4Z" fill="#fff" fill-opacity="1.00"/><path d="M-53.2,42.2L-53.9,42.5L-54.6,43.1L-54.7,44.5L-51.6,49L-48.2,51.8L-47.2,51.9L-46.3,51.6L-45.6,50.8L-45.6,49.5L-47.6,45.9L-52.1,42.5Z" fill="#fff" fill-opacity="0.74"/><ellipse cx="1.4" cy="43.1" rx="6.5" ry="2.8" transform="rotate(5 1.4 43.1)" fill="#fff" fill-opacity="0.45"/><ellipse cx="-51.1" cy="29.5" rx="2.3" ry="2.3" fill="#fff" fill-opacity="0.41"/><ellipse cx="53.8" cy="8.3" rx="9" ry="3.6" transform="rotate(-14 53.8 8.3)" fill="#fff" fill-opacity="1.00"/><ellipse cx="83.2" cy="6" rx="3.6" ry="2.8" fill="#fff" fill-opacity="1.00"/><ellipse cx="43.6" cy="20.3" rx="1.6" ry="2.2" fill="#fff" fill-opacity="0.41"/><ellipse cx="105" cy="-3" rx="2.6" ry="1.8" fill="#fff" fill-opacity="0.90"/><ellipse cx="112.5" cy="-1" rx="2.6" ry="1.8" fill="#fff" fill-opacity="0.90"/><ellipse cx="125" cy="2" rx="2.6" ry="1.8" fill="#fff" fill-opacity="0.90"/><ellipse cx="132" cy="4.5" rx="2.6" ry="1.8" fill="#fff" fill-opacity="0.90"/><ellipse cx="158" cy="21.5" rx="5.5" ry="4" fill="#fff" fill-opacity="1.00"/><path d="M118.1,-66.1L116.8,-65.6L116.1,-64.8L115.8,-63.8L116,-62.5L122.9,-54.9L131.7,-46.7L133,-46.2L133.8,-46.2L134.7,-46.5L135.8,-47.2L136.5,-48.3L136.8,-49.6L136.5,-50.9L135.8,-52L127.8,-60.4L119.7,-65.8Z" fill="#fff" fill-opacity="0.41"/><ellipse cx="122" cy="-63" rx="1.5" ry="1.5" fill="#fff" fill-opacity="0.90"/><path d="M150.2,-46.2L149.4,-46L148.6,-45.2L148.3,-44.4L148.3,-43.5L148.7,-42.8L151.8,-38.8L156.8,-34.7L158,-34.4L159.6,-34.9L160.2,-35.6L160.5,-36.6L160.5,-37.6L160,-38.4L155.7,-42.7L151.5,-46Z" fill="#fff" fill-opacity="0.74"/><path d="M56.3,33L55.2,33.4L54.2,34.2L53.7,35.3L53.6,36.5L54,37.6L57.6,43.9L58.5,44.8L64.5,49.4L65.5,49.7L66.5,49.4L67.1,48.9L67.4,48.2L67.5,47.4L67.2,46.7L59.2,34.2L57.9,33.2Z" fill="#fff" fill-opacity="0.41"/><path d="M80.4,50.6L70.1,54.1L61.7,59.9L61.1,61.2L61.4,62.6L62.5,63.5L63.6,63.7L73.6,61.1L87.4,53.1L88,52.3L87.8,51.4L87,50.7Z" fill="#fff" fill-opacity="0.20"/><path d="M109.4,44.4L108.1,44.9L107.4,45.7L104.8,53.6L103.4,60.8L103.7,61.7L104.5,62.2L105.5,62.2L106.2,61.5L109.3,55.1L112.2,47.7L112.2,46.3L111.5,45.2L110.4,44.5Z" fill="#fff" fill-opacity="0.18"/><ellipse cx="136.2" cy="35.8" rx="5.6" ry="2.3" transform="rotate(-10 136.2 35.8)" fill="#fff" fill-opacity="0.54"/><ellipse cx="69" cy="-53" rx="2.8" ry="1.7" transform="rotate(20 69 -53)" fill="#fff" fill-opacity="0.33"/></g>
</g>
<use href="#coast" stroke="#a39c88" stroke-width="0.55" fill="none"/>
</g>
<use href="#sides" stroke="#1c0b2a" stroke-width="0.7" fill="none"/>
</g>
<text transform="translate(163.3 8.4) scale(1.1 1)" font-size="16" font-weight="bold" fill="#000" stroke="#000" stroke-width="0.4">a</text>
<text transform="translate(-0.8 209.3) scale(1.1 1)" font-size="16" font-weight="bold" fill="#000" stroke="#000" stroke-width="0.4">b</text>
<text transform="translate(358.4 209.3) scale(1.1 1)" font-size="16" font-weight="bold" fill="#000" stroke="#000" stroke-width="0.4">c</text>
<text transform="translate(-0.8 453.4) scale(1.1 1)" font-size="16" font-weight="bold" fill="#000" stroke="#000" stroke-width="0.4">d</text>
<text transform="translate(352.4 453.4) scale(1.1 1)" font-size="16" font-weight="bold" fill="#000" stroke="#000" stroke-width="0.4">e</text>
<text transform="translate(-0.5 700.4) scale(1.1 1)" font-size="16" font-weight="bold" fill="#000" stroke="#000" stroke-width="0.4">f</text>
<text x="341.7" y="9.3" font-size="10.2" text-anchor="middle" fill="#222" textLength="156.6" lengthAdjust="spacing">POEM (interpolated to 4 × <tspan font-style="italic">r</tspan><tspan font-size="6.4" dy="2.7">POEM</tspan><tspan dy="-2.7">)</tspan></text>
<text x="172.1" y="207.1" font-size="10.2" text-anchor="middle" fill="#222" textLength="154.2" lengthAdjust="spacing">CM single sample (<tspan font-style="italic">r</tspan> = 4 × <tspan font-style="italic">r</tspan><tspan font-size="6.4" dy="2.7">POEM</tspan><tspan dy="-2.7">)</tspan></text>
<text x="512.1" y="207.1" font-size="10.2" text-anchor="middle" fill="#222" textLength="154.2" lengthAdjust="spacing">CM single sample (<tspan font-style="italic">r</tspan> = 4 × <tspan font-style="italic">r</tspan><tspan font-size="6.4" dy="2.7">POEM</tspan><tspan dy="-2.7">)</tspan></text>
<text x="170.5" y="454.2" font-size="10.2" text-anchor="middle" fill="#222" textLength="85.1" lengthAdjust="spacing">CM sample mean</text>
<text x="511.6" y="454.2" font-size="10.2" text-anchor="middle" fill="#222" textLength="119.6" lengthAdjust="spacing">CM sample spread (s.d.)</text>
<circle cx="333.8" cy="368.2" r="1.55" fill="#000"/>
<circle cx="341.8" cy="368.2" r="1.55" fill="#000"/>
<circle cx="349.8" cy="368.2" r="1.55" fill="#000"/>
<linearGradient id="gP" gradientUnits="userSpaceOnUse" x1="259" y1="0" x2="419.5" y2="0"><stop offset="4.2%" stop-color="#fbfdd3"/><stop offset="11.7%" stop-color="#f1f9c1"/><stop offset="24.4%" stop-color="#d2edc0"/><stop offset="37.0%" stop-color="#99d7c6"/><stop offset="49.6%" stop-color="#64c3cf"/><stop offset="62.2%" stop-color="#449fc8"/><stop offset="74.8%" stop-color="#4a74b6"/><stop offset="87.4%" stop-color="#4a56a2"/><stop offset="100.0%" stop-color="#303f7c"/></linearGradient>
<path d="M259,390.8H419.5L427,394.8L419.5,398.7H259Z" fill="url(#gP)" stroke="#444" stroke-width="0.6"/>
<path d="M265.7,398.7v3" stroke="#444" stroke-width="0.7"/>
<text x="265.7" y="414" font-size="8.3" text-anchor="middle" fill="#222">1</text>
<path d="M298,398.7v3" stroke="#444" stroke-width="0.7"/>
<text x="298" y="414" font-size="8.3" text-anchor="middle" fill="#222">5</text>
<path d="M338.4,398.7v3" stroke="#444" stroke-width="0.7"/>
<text x="338.4" y="414" font-size="8.3" text-anchor="middle" fill="#222">10</text>
<path d="M378.7,398.7v3" stroke="#444" stroke-width="0.7"/>
<text x="378.7" y="414" font-size="8.3" text-anchor="middle" fill="#222">15</text>
<path d="M419,398.7v3" stroke="#444" stroke-width="0.7"/>
<text x="419" y="414" font-size="8.3" text-anchor="middle" fill="#222">20</text>
<text x="343.2" y="428.5" font-size="10" text-anchor="middle" fill="#222" textLength="117.7" lengthAdjust="spacing">Precipitation (mm day<tspan font-size="6.2" dy="-3.6">−1</tspan><tspan dy="3.6">)</tspan></text>
<linearGradient id="gM" gradientUnits="userSpaceOnUse" x1="88.4" y1="0" x2="247.5" y2="0"><stop offset="0.0%" stop-color="#642b7d"/><stop offset="10.0%" stop-color="#63488f"/><stop offset="20.0%" stop-color="#5f639e"/><stop offset="30.0%" stop-color="#5d7fa4"/><stop offset="40.0%" stop-color="#5593a5"/><stop offset="50.0%" stop-color="#4da7a3"/><stop offset="60.0%" stop-color="#4eb99d"/><stop offset="70.0%" stop-color="#69cc8d"/><stop offset="80.0%" stop-color="#95da74"/><stop offset="90.0%" stop-color="#cae551"/><stop offset="100.0%" stop-color="#fdec51"/></linearGradient>
<path d="M88.4,640.2H247.5L255.4,644.2L247.5,648.1H88.4Z" fill="url(#gM)" stroke="#444" stroke-width="0.6"/>
<path d="M88.4,648.1v3" stroke="#444" stroke-width="0.7"/>
<text x="88.4" y="663.4" font-size="8.3" text-anchor="middle" fill="#222">0</text>
<path d="M120.2,648.1v3" stroke="#444" stroke-width="0.7"/>
<text x="120.2" y="663.4" font-size="8.3" text-anchor="middle" fill="#222">2</text>
<path d="M152,648.1v3" stroke="#444" stroke-width="0.7"/>
<text x="152" y="663.4" font-size="8.3" text-anchor="middle" fill="#222">4</text>
<path d="M183.9,648.1v3" stroke="#444" stroke-width="0.7"/>
<text x="183.9" y="663.4" font-size="8.3" text-anchor="middle" fill="#222">6</text>
<path d="M215.7,648.1v3" stroke="#444" stroke-width="0.7"/>
<text x="215.7" y="663.4" font-size="8.3" text-anchor="middle" fill="#222">8</text>
<path d="M247.5,648.1v3" stroke="#444" stroke-width="0.7"/>
<text x="247.5" y="663.4" font-size="8.3" text-anchor="middle" fill="#222">10</text>
<text x="171.8" y="679.3" font-size="10" text-anchor="middle" fill="#222" textLength="82.3" lengthAdjust="spacing">Mean (mm day<tspan font-size="6.2" dy="-3.6">−1</tspan><tspan dy="3.6">)</tspan></text>
<linearGradient id="gS" gradientUnits="userSpaceOnUse" x1="428.4" y1="0" x2="587.5" y2="0"><stop offset="0.0%" stop-color="#642b7d"/><stop offset="10.0%" stop-color="#63488f"/><stop offset="20.0%" stop-color="#5f639e"/><stop offset="30.0%" stop-color="#5d7fa4"/><stop offset="40.0%" stop-color="#5593a5"/><stop offset="50.0%" stop-color="#4da7a3"/><stop offset="60.0%" stop-color="#4eb99d"/><stop offset="70.0%" stop-color="#69cc8d"/><stop offset="80.0%" stop-color="#95da74"/><stop offset="90.0%" stop-color="#cae551"/><stop offset="100.0%" stop-color="#fdec51"/></linearGradient>
<path d="M428.4,640.2H587.5L595.4,644.2L587.5,648.1H428.4Z" fill="url(#gS)" stroke="#444" stroke-width="0.6"/>
<path d="M428.4,648.1v3" stroke="#444" stroke-width="0.7"/>
<text x="428.4" y="663.4" font-size="8.3" text-anchor="middle" fill="#222">0</text>
<path d="M460.2,648.1v3" stroke="#444" stroke-width="0.7"/>
<text x="460.2" y="663.4" font-size="8.3" text-anchor="middle" fill="#222">2</text>
<path d="M492,648.1v3" stroke="#444" stroke-width="0.7"/>
<text x="492" y="663.4" font-size="8.3" text-anchor="middle" fill="#222">4</text>
<path d="M523.9,648.1v3" stroke="#444" stroke-width="0.7"/>
<text x="523.9" y="663.4" font-size="8.3" text-anchor="middle" fill="#222">6</text>
<path d="M555.7,648.1v3" stroke="#444" stroke-width="0.7"/>
<text x="555.7" y="663.4" font-size="8.3" text-anchor="middle" fill="#222">8</text>
<path d="M587.5,648.1v3" stroke="#444" stroke-width="0.7"/>
<text x="587.5" y="663.4" font-size="8.3" text-anchor="middle" fill="#222">10</text>
<text x="511.7" y="679.3" font-size="10" text-anchor="middle" fill="#222" textLength="177.4" lengthAdjust="spacing">Standard deviation (s.d.) (mm day<tspan font-size="6.2" dy="-3.6">−1</tspan><tspan dy="3.6">)</tspan></text>
<path d="M94.3,994.5L95.7,995.3L97,996.8L98.6,998.1L100.2,999L101.6,998.2L103,997.8L104.5,996.9L106,997L108,998.3L110,997.8L111.8,998.8L113.6,998.8L115.4,999.6L116.7,999.5L118,998.6L120,996.9L121.8,997.3L123.5,997.8L125.2,998.2L127,998.4L128.5,998.6L130,998.7L131.4,1000L132.9,999.7L134.4,998.8L136,998.9L137.3,998.7L138.7,998.4L140.3,998.9L141.8,999.7L143.4,999.4L144.7,998.8L146,998.1L147.6,997.5L149.2,996.3L150.6,997.7L152,998.3L153.6,999.2L155.1,1000.1L156.8,1000.5L158.5,1000.4L160.3,1000.9L162.1,1001.2L163.8,1000.3L165.6,1000.2L166.8,999.2L168,997.8L170.3,996.6L172.2,995.1L174,994.7L175.7,994.4L177.3,993.6L178.7,994.7L180,995.8L181.6,996.4L183.1,996.8L184.6,996.5L186,994.6L187.5,993.9L189,993.2L190.5,993.3L192,993.1L193.4,992.6L194.8,992.9L196.4,991.2L198,990.5L199.9,989.6L201.8,989.2L203.2,989L204.6,988.9L206,987.8L207.7,987.8L209.4,987L211.1,985.4L213.1,984.6L215,983.9L216.4,982.9L217.9,982.8L219.3,982.3L220.7,982L222,981L223.6,980.6L225.2,978.7L227.5,978.9L229.8,976.7L231.2,975.7L232.5,974.5L234.1,973L235.7,970.6L238,968.2L240.3,964.9L242,963.9L244,963.1L246,962.3L247.8,962.5L249.6,962.2L251.4,961.8L253.2,959.9L255,958L256.7,957.4L258.4,956.2L260.2,954.6L262,954.3L264,953.4L266,953L268,952L270,950.3L271.8,951.9L273.5,952.1L275.2,952.8L277,953.3L279,950.9L281,949.5L283,947L285,945.1L286.9,943.5L288.7,940.4L290.4,940.4L292,939.7L293.9,939.3L295.7,939L297.1,937L298.5,934.7L300.1,933.2L301.6,931.4L303.6,930.3L305.5,930.3L306.9,929.5L308.3,929L309.7,928.9L311.4,928L313,926.8L314.9,926.5L316.8,925.8L318.6,927L320.3,928.2L322.1,925.5L324,923.4L325.6,921.4L327.3,919.1L329.1,920.2L330.8,921.1L332.6,918.3L334.5,916.1L336.1,913.2L337.8,910.8L339.1,909.7L340.5,908.2L342.1,906.6L343.6,906L345.3,905.5L347,905.3L348.8,906.1L350.6,906.4L352.4,903.4L354.1,901.1L355.8,899.3L357.5,898.3L359.3,896.4L361.1,894.4L363.1,896.1L365,898L366.4,898.6L367.9,900.3L369.3,901.1L370.9,899.4L372.5,897.9L373.9,896.5L375.2,894.5L376.9,893.6L378.5,892.2L380.4,890.3L382.2,889.3L383.6,888.9L385,888L386.5,887.9L388,887.7L389.7,884.4L391.4,880.5L393.2,877.4L394.6,876.8L396,876.5L397.5,876.5L399,875.7L400.8,876L402.5,876.1L404.2,875.5L406,875.4L407.5,875.4L409,874L410.5,873.5L412.1,873.1L413.8,872.1L415.4,871.5L416.8,870.2L418.1,868.6L419.5,867.1L421,867L422.5,865.9L424,864.7L425.4,864L426.8,863L428.2,861.5L429.8,860.7L431.4,860.5L433,859.3L434.4,858.9L435.9,858.9L437.3,858.4L438.7,857.4L440.4,858.4L442,858.9L443.9,859.6L445.7,860.7L447.4,860.3L449,860.5L450.9,860.7L452.7,860.7L454.5,856.5L456.2,853L457.8,852.4L459.4,853.3L461,853.4L462.5,852.8L464.1,852.8L465.6,852.6L467.1,851.2L468.5,849.7L470,848.9L472,846.7L474,845.4L475.5,843.8L476.9,841.8L478.4,840.4L479.9,840.2L481.5,838.8L483,838.3L484.6,838.4L486.2,838.2L487.8,838L489.2,837.8L490.6,836.4L492,835.5L494,834.5L496,832.8L497.5,833L499.1,834.1L500.6,834.1L502.1,832.6L503.5,831.7L505,830.2L506.7,828.2L508.3,826.5L510,824.6L511.7,823.3L513.3,822.3L515,820.9L516.8,819.3L518.7,818.2L520.5,815.7L522,815.4L523.5,814.9L525,814L526.6,813L528.2,813.1L529.8,812.1L531.3,811.5L532.8,810.9L534.3,809.6L535.7,809.4L537.1,809.3L538.6,809L540,808.4L541.7,808.7L543.3,808.1L545,807.1L546.7,806.7L548.4,806.9L549.8,805.3L551.2,804.2L552.6,802.3L554,799.9L555.5,799L557,797.9L558.5,796.4L560,794.3L561.5,794.2L563,793.2L564.4,792.3L565.9,791.5L567.3,789.4L568.8,786.5L570.2,784.8L571.7,782.6L573.4,780.9L575,779.8L576.6,779L578.3,777.4L580.3,772.8L582.2,767.8L584.1,765L586,762.8L587.5,761L588.9,760.2L590.4,759.7L591.8,759.3L593.1,757.8L594.5,757.6L595.9,757.2L597.2,756.7L598.6,756L600,757L601.5,757.2L603,757.4L604.4,758L606,756.9L607.5,755.3L608.9,754.2L610.3,753.2L611.7,750.6L613.1,748.2L614.5,746.8L616.5,743.3L618.4,740.4L620.8,737.8L622.3,737.2L623.9,737.7L625.4,737.4L626.9,734.7L628.5,732.6L630,731L631.6,728.4L633.2,726.3L634.8,724.5L636.4,723.9L637.9,723.5L639.5,723L641.3,720.4L643.2,719.3L645,717.5L646.5,715L648,713.7L649.6,712.4L651.1,711.2" fill="none" stroke="#fbaa33" stroke-width="3.4" stroke-linejoin="round" stroke-linecap="round"/>
<path d="M94.3,994.1L95.7,994.7L97,995.4L98.6,996.1L100.2,997L101.6,995.9L103,995.2L104.5,994.8L106,994.8L108,995.8L110,995.7L111.8,996.3L113.6,996.5L115.4,997.5L116.7,997L118,996.2L120,994.8L121.8,994.8L123.5,995.6L125.2,996L127,995.9L128.5,996.4L130,996.6L131.4,997.4L132.9,997.4L134.4,996.7L136,996.4L137.3,996.3L138.7,996.3L140.3,996.5L141.8,997.2L143.4,997.3L144.7,996.5L146,995.5L147.6,995.3L149.2,994.1L150.6,995.2L152,996L153.6,997.1L155.1,997.6L156.8,998.1L158.5,998.3L160.3,998.4L162.1,998.9L163.8,998.1L165.6,997.6L166.8,996.9L168,995.7L170.3,994L172.2,993L174,992.4L175.7,991.9L177.3,991.5L178.7,992.5L180,993.2L181.6,994.2L183.1,994.7L184.6,993.9L186,992.2L187.5,991.8L189,990.8L190.5,990.9L192,991L193.4,990.3L194.8,990.4L196.4,989.1L198,988.2L199.9,987.1L201.8,987.1L203.2,986.6L204.6,986.4L206,985.7L207.7,985.6L209.4,984.5L211.1,983.3L213.1,982.1L215,981.6L216.4,980.8L217.9,980.4L219.3,979.8L220.7,979.9L222,978.8L223.6,978L225.2,976.6L227.5,976.5L229.8,974.6L231.2,973.9L232.5,972.6L234.1,971.3L235.7,969.4L238,966.8L240.3,964.2L242,963L244,962.5L246,961.9L247.8,961.8L249.6,962.1L251.4,961.6L253.2,959.7L255,958.3L256.7,957.3L258.4,956.2L260.2,954.9L262,954.2L264,953.7L266,953.1L268,952.2L270,950.7L271.8,952L273.5,952.5L275.2,953.2L277,953.5L279,951.6L281,949.8L283,947.5L285,945.6L286.9,943.8L288.7,941.2L290.4,940.9L292,940.2L293.9,940.1L295.7,939.4L297.1,937.6L298.5,935.6L300.1,933.8L301.6,932L303.6,931.3L305.5,930.7L306.9,930.2L308.3,930L309.7,929.5L311.4,928.6L313,927.8L314.9,927L316.8,926.7L318.6,928L320.3,928.8L322.1,926.5L324,924.2L325.6,922.1L327.3,920.3L329.1,921L330.8,921.9L332.6,919.5L334.5,916.9L336.1,914.3L337.8,912.1L339.1,910.7L340.5,909.4L342.1,908.1L343.6,907.2L345.3,906.8L347,907L348.8,907.3L350.6,908L352.4,905.1L354.1,902.5L355.8,901.2L357.5,900.1L359.3,898L361.1,896.5L363.1,897.8L365,900L366.4,900.8L367.9,902.2L369.3,903L370.9,901.9L372.5,900L373.9,898.5L375.2,897L376.9,896L378.5,894.3L380.4,893L382.2,891.7L383.6,891.3L385,890.8L386.5,890.5L388,890.1L389.7,887.3L391.4,883.2L393.2,879.9L394.6,879.7L396,879.4L397.5,879L399,878.6L400.8,879L402.5,878.7L404.2,878.6L406,878.3L407.5,878.1L409,877.2L410.5,876.6L412.1,875.9L413.8,875.3L415.4,874.6L416.8,873L418.1,871.7L419.5,870.5L421,870L422.5,869L424,868.1L425.4,867.2L426.8,866.1L428.2,864.9L429.8,864.1L431.4,863.7L433,862.9L434.4,862.7L435.9,862.4L437.3,862.1L438.7,861.5L440.4,862.3L442,862.9L443.9,864L445.7,864.8L447.4,864.8L449,865.2L450.9,865.2L452.7,865.7L454.5,861.3L456.2,857.9L457.8,857.8L459.4,858.5L461,858.7L462.5,858.6L464.1,858.5L465.6,858.3L467.1,857.4L468.5,855.9L470,855L472,853.4L474,851.9L475.5,850.4L476.9,849L478.4,847.5L479.9,847.1L481.5,846.1L483,845.7L484.6,845.5L486.2,845.8L487.8,845.7L489.2,845.2L490.6,844.1L492,843.5L494,842.1L496,841L497.5,841.1L499.1,842L500.6,842.5L502.1,841.2L503.5,840.1L505,838.9L506.7,837.4L508.3,835.4L510,834L511.7,833L513.3,831.8L515,831L516.8,829.5L518.7,828.3L520.5,826.4L522,825.9L523.5,825.3L525,824.8L526.6,823.7L528.2,823.5L529.8,822.9L531.3,822.3L532.8,821.4L534.3,820.5L535.7,820.4L537.1,820L538.6,819.8L540,819.5L541.7,819.5L543.3,818.9L545,818.4L546.7,817.7L548.4,818.2L549.8,817L551.2,815.7L552.6,813.8L554,811.9L555.5,811.1L557,809.7L558.5,808.7L560,806.9L561.5,806.4L563,805.6L564.4,805.1L565.9,803.9L567.3,801.8L568.8,799.3L570.2,797.5L571.7,795L573.4,793.8L575,792.6L576.6,791.6L578.3,790.5L580.3,785.7L582.2,780.8L584.1,778.3L586,775.8L587.5,774.4L588.9,773.8L590.4,773L591.8,772.7L593.1,771.6L594.5,771.1L595.9,770.4L597.2,770.4L598.6,769.8L600,770.3L601.5,770.7L603,771.2L604.4,771.4L606,770.3L607.5,769.1L608.9,767.8L610.3,766.5L611.7,764.3L613.1,762L614.5,760.2L616.5,756.9L618.4,754.1L620.8,751.3L622.3,751.2L623.9,751.4L625.4,751.2L626.9,749L628.5,746.7L630,745L631.6,743L633.2,740.7L634.8,738.9L636.4,738.8L637.9,738.2L639.5,737.5L641.3,735.5L643.2,734.1L645,732.4L646.5,730.3L648,728.7L649.6,727.4L651.1,726.6" fill="none" stroke="#fb3df2" stroke-width="3.4" stroke-linejoin="round" stroke-linecap="round"/>
<rect x="67.4" y="695.6" width="611.3" height="323.4" fill="none" stroke="#7d7d7d" stroke-width="1"/>
<path d="M67.4,994.3h-4.5" stroke="#7d7d7d" stroke-width="1"/>
<text x="59" y="997.1" font-size="9.3" text-anchor="end" fill="#222">0</text>
<path d="M67.4,929.1h-4.5" stroke="#7d7d7d" stroke-width="1"/>
<text x="59" y="931.9" font-size="9.3" text-anchor="end" fill="#222" textLength="18.6" lengthAdjust="spacing">0.05</text>
<path d="M67.4,863.9h-4.5" stroke="#7d7d7d" stroke-width="1"/>
<text x="59" y="866.7" font-size="9.3" text-anchor="end" fill="#222" textLength="18.6" lengthAdjust="spacing">0.10</text>
<path d="M67.4,798.7h-4.5" stroke="#7d7d7d" stroke-width="1"/>
<text x="59" y="801.5" font-size="9.3" text-anchor="end" fill="#222" textLength="18.6" lengthAdjust="spacing">0.15</text>
<path d="M67.4,733.5h-4.5" stroke="#7d7d7d" stroke-width="1"/>
<text x="59" y="736.3" font-size="9.3" text-anchor="end" fill="#222" textLength="18.6" lengthAdjust="spacing">0.20</text>
<path d="M123.2,1019v4.5" stroke="#7d7d7d" stroke-width="1"/>
<text x="123.2" y="1036.4" font-size="9.1" text-anchor="middle" fill="#222" textLength="22.4" lengthAdjust="spacing">2030</text>
<path d="M204.8,1019v4.5" stroke="#7d7d7d" stroke-width="1"/>
<text x="204.8" y="1036.4" font-size="9.1" text-anchor="middle" fill="#222" textLength="22.4" lengthAdjust="spacing">2040</text>
<path d="M286.4,1019v4.5" stroke="#7d7d7d" stroke-width="1"/>
<text x="286.4" y="1036.4" font-size="9.1" text-anchor="middle" fill="#222" textLength="22.4" lengthAdjust="spacing">2050</text>
<path d="M368,1019v4.5" stroke="#7d7d7d" stroke-width="1"/>
<text x="368" y="1036.4" font-size="9.1" text-anchor="middle" fill="#222" textLength="22.4" lengthAdjust="spacing">2060</text>
<path d="M449.6,1019v4.5" stroke="#7d7d7d" stroke-width="1"/>
<text x="449.6" y="1036.4" font-size="9.1" text-anchor="middle" fill="#222" textLength="22.4" lengthAdjust="spacing">2070</text>
<path d="M531.2,1019v4.5" stroke="#7d7d7d" stroke-width="1"/>
<text x="531.2" y="1036.4" font-size="9.1" text-anchor="middle" fill="#222" textLength="22.4" lengthAdjust="spacing">2080</text>
<path d="M612.8,1019v4.5" stroke="#7d7d7d" stroke-width="1"/>
<text x="612.8" y="1036.4" font-size="9.1" text-anchor="middle" fill="#222" textLength="22.4" lengthAdjust="spacing">2090</text>
<text x="373" y="1051.2" font-size="10.2" text-anchor="middle" fill="#222" textLength="71.3" lengthAdjust="spacing">Year (monthly)</text>
<text transform="translate(32.7 859.6) rotate(-90)" font-size="10.2" text-anchor="middle" fill="#222" textLength="200.4" lengthAdjust="spacing">Global mean precipitation (mm month<tspan font-size="6.2" dy="-3.6">−1</tspan><tspan dy="3.6">)</tspan></text>
<path d="M78,847h9" stroke="#fbaa33" stroke-width="1.6"/><path d="M78,859.4h9" stroke="#fb3df2" stroke-width="1.6"/>
<text x="90.6" y="850.4" font-size="9.8" fill="#222" textLength="75.8" lengthAdjust="spacing">POEM SSP5-8.5</text><text x="90.6" y="862.7" font-size="9.8" fill="#222" textLength="15.6" lengthAdjust="spacing">CM</text>
</svg></body></html>
